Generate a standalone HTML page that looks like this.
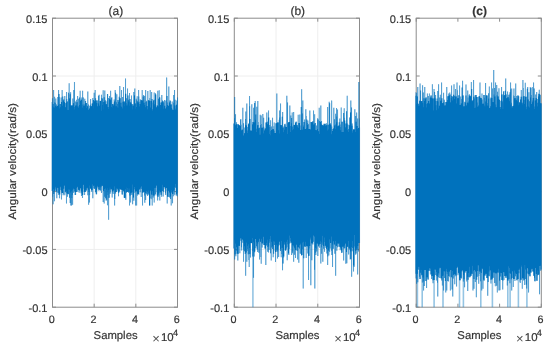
<!DOCTYPE html>
<html><head><meta charset="utf-8"><title>Angular velocity</title>
<style>
html,body{margin:0;padding:0;background:#fff;}
svg{display:block;}
text{font-family:"Liberation Sans",Arial,sans-serif;fill:#333333;stroke:#333333;stroke-width:0.18px;text-rendering:geometricPrecision;}
</style></head><body>
<svg width="550" height="351" viewBox="0 0 550 351">
<rect x="0" y="0" width="550" height="351" fill="#ffffff"/>

<g>
<line x1="94.17" y1="18.2" x2="94.17" y2="307.2" stroke="#eeeeee" stroke-width="1"/>
<line x1="135.83" y1="18.2" x2="135.83" y2="307.2" stroke="#eeeeee" stroke-width="1"/>
<line x1="52.5" y1="76.00" x2="177.5" y2="76.00" stroke="#eeeeee" stroke-width="1"/>
<line x1="52.5" y1="133.80" x2="177.5" y2="133.80" stroke="#eeeeee" stroke-width="1"/>
<line x1="52.5" y1="191.60" x2="177.5" y2="191.60" stroke="#eeeeee" stroke-width="1"/>
<line x1="52.5" y1="249.40" x2="177.5" y2="249.40" stroke="#eeeeee" stroke-width="1"/>
<rect x="52.5" y="18.2" width="125.00" height="289.00" fill="none" stroke="#8c8c8c" stroke-width="1"/>
<line x1="52.50" y1="307.2" x2="52.50" y2="303.7" stroke="#8c8c8c" stroke-width="1"/>
<line x1="52.50" y1="18.2" x2="52.50" y2="21.7" stroke="#8c8c8c" stroke-width="1"/>
<text x="51.80" y="323.3" font-size="10.8" text-anchor="middle">0</text>
<line x1="94.17" y1="307.2" x2="94.17" y2="303.7" stroke="#8c8c8c" stroke-width="1"/>
<line x1="94.17" y1="18.2" x2="94.17" y2="21.7" stroke="#8c8c8c" stroke-width="1"/>
<text x="93.47" y="323.3" font-size="10.8" text-anchor="middle">2</text>
<line x1="135.83" y1="307.2" x2="135.83" y2="303.7" stroke="#8c8c8c" stroke-width="1"/>
<line x1="135.83" y1="18.2" x2="135.83" y2="21.7" stroke="#8c8c8c" stroke-width="1"/>
<text x="135.13" y="323.3" font-size="10.8" text-anchor="middle">4</text>
<line x1="177.50" y1="307.2" x2="177.50" y2="303.7" stroke="#8c8c8c" stroke-width="1"/>
<line x1="177.50" y1="18.2" x2="177.50" y2="21.7" stroke="#8c8c8c" stroke-width="1"/>
<text x="176.80" y="323.3" font-size="10.8" text-anchor="middle">6</text>
<line x1="52.5" y1="18.20" x2="56.0" y2="18.20" stroke="#8c8c8c" stroke-width="1"/>
<line x1="177.5" y1="18.20" x2="174.0" y2="18.20" stroke="#8c8c8c" stroke-width="1"/>
<text x="47.50" y="22.80" font-size="11" text-anchor="end">0.15</text>
<line x1="52.5" y1="76.00" x2="56.0" y2="76.00" stroke="#8c8c8c" stroke-width="1"/>
<line x1="177.5" y1="76.00" x2="174.0" y2="76.00" stroke="#8c8c8c" stroke-width="1"/>
<text x="47.50" y="80.60" font-size="11" text-anchor="end">0.1</text>
<line x1="52.5" y1="133.80" x2="56.0" y2="133.80" stroke="#8c8c8c" stroke-width="1"/>
<line x1="177.5" y1="133.80" x2="174.0" y2="133.80" stroke="#8c8c8c" stroke-width="1"/>
<text x="47.50" y="138.40" font-size="11" text-anchor="end">0.05</text>
<line x1="52.5" y1="191.60" x2="56.0" y2="191.60" stroke="#8c8c8c" stroke-width="1"/>
<line x1="177.5" y1="191.60" x2="174.0" y2="191.60" stroke="#8c8c8c" stroke-width="1"/>
<text x="47.50" y="196.20" font-size="11" text-anchor="end">0</text>
<line x1="52.5" y1="249.40" x2="56.0" y2="249.40" stroke="#8c8c8c" stroke-width="1"/>
<line x1="177.5" y1="249.40" x2="174.0" y2="249.40" stroke="#8c8c8c" stroke-width="1"/>
<text x="47.50" y="254.00" font-size="11" text-anchor="end">-0.05</text>
<line x1="52.5" y1="307.20" x2="56.0" y2="307.20" stroke="#8c8c8c" stroke-width="1"/>
<line x1="177.5" y1="307.20" x2="174.0" y2="307.20" stroke="#8c8c8c" stroke-width="1"/>
<text x="47.50" y="311.80" font-size="11" text-anchor="end">-0.1</text>
<path transform="translate(-0.30,0)" opacity="1" fill="#0072bd" d="M52 101.9h.25V190.9h-.25zM52.25 98.2h.25V190.9h-.25zM52.5 98.2h.25V186.9h-.25zM52.75 106.9h.25V196.8h-.25zM53 104.1h.25V204.3h-.25zM53.25 104.1h.25V204.3h-.25zM53.5 89.9h.25V189.3h-.25zM53.75 89.9h.25V194h-.25zM54 107.3h.25V194h-.25zM54.25 107.7h.25V201.3h-.25zM54.5 96.8h.25V201.3h-.25zM54.75 96.8h.25V191.1h-.25zM55 102.2h.25V191.1h-.25zM55.25 103.1h.25V188.5h-.25zM55.5 105.9h.25V186.4h-.25zM55.75 98.6h.25V190.8h-.25zM56 98.6h.25V190.8h-.25zM56.25 104.6h.25V191.6h-.25zM56.5 104.6h.25V191.8h-.25zM56.75 114.8h.25V198.3h-.25zM57 110h.25V198.3h-.25zM57.25 110h.25V185.5h-.25zM57.5 110.6h.25V185.3h-.25zM57.75 97.1h.25V192.8h-.25zM58 97.1h.25V192.8h-.25zM58.25 105.2h.25V188.1h-.25zM58.5 89.9h.25V194.8h-.25zM58.75 89.9h.25V194.8h-.25zM59 94h.25V192.9h-.25zM59.25 94h.25V198.2h-.25zM59.5 97h.25V198.2h-.25zM59.75 108.7h.25V194.5h-.25zM60 108.4h.25V194.5h-.25zM60.25 107.2h.25V187.2h-.25zM60.5 104.1h.25V180.1h-.25zM60.75 104.1h.25V190h-.25zM61 97.6h.25V190h-.25zM61.25 97.6h.25V199.5h-.25zM61.5 102.2h.25V199.5h-.25zM61.75 102.9h.25V186.7h-.25zM62 89.9h.25V191.7h-.25zM62.25 89.9h.25V191.7h-.25zM62.5 111.3h.25V190.6h-.25zM62.75 96.5h.25V188.6h-.25zM63 96.5h.25V195.2h-.25zM63.25 100.6h.25V195.2h-.25zM63.5 100.6h.25V194.2h-.25zM63.75 99.3h.25V188.9h-.25zM64 99.3h.25V188.6h-.25zM64.25 102.1h.25V183.5h-.25zM64.5 102.1h.25V183.5h-.25zM64.76 95.9h.25V195.3h-.25zM65.01 95.9h.25V195.3h-.25zM65.26 103.2h.25V190.6h-.25zM65.51 107.2h.25V191h-.25zM65.76 107.2h.25V191h-.25zM66.01 114h.25V192.1h-.25zM66.26 102.5h.25V203.6h-.25zM66.51 92.1h.25V203.6h-.25zM66.76 92.1h.25V191h-.25zM67.01 99h.25V191h-.25zM67.26 106.4h.25V196.8h-.25zM67.51 111.7h.25V196.8h-.25zM67.76 110.1h.25V193.6h-.25zM68.01 110.1h.25V193.6h-.25zM68.26 112.3h.25V191.1h-.25zM68.51 92.8h.25V194.2h-.25zM68.76 92.8h.25V194.2h-.25zM69.01 83.2h.25V180h-.25zM69.26 83.2h.25V180h-.25zM69.51 98.6h.25V197.8h-.25zM69.76 98.6h.25V197.8h-.25zM70.01 94.2h.25V203h-.25zM70.26 94.2h.25V203h-.25zM70.51 92.2h.25V191.2h-.25zM70.76 92.2h.25V205.5h-.25zM71.01 111.1h.25V205.5h-.25zM71.26 107.8h.25V191.2h-.25zM71.51 107.8h.25V205.5h-.25zM71.76 116.1h.25V205.5h-.25zM72.01 109.7h.25V197.9h-.25zM72.26 109.7h.25V186.1h-.25zM72.51 105.8h.25V204.8h-.25zM72.76 98.4h.25V204.8h-.25zM73.01 98.4h.25V190.2h-.25zM73.26 106h.25V188.5h-.25zM73.51 108.2h.25V192.7h-.25zM73.76 89.9h.25V192.7h-.25zM74.01 89.9h.25V188.8h-.25zM74.26 82.1h.25V191.4h-.25zM74.51 82.1h.25V191.4h-.25zM74.76 110.8h.25V188.9h-.25zM75.01 108.3h.25V190.1h-.25zM75.26 101.6h.25V190.1h-.25zM75.51 101.6h.25V185.5h-.25zM75.76 105.5h.25V186.2h-.25zM76.01 105.5h.25V186.2h-.25zM76.26 99.7h.25V186.5h-.25zM76.51 99.7h.25V186.5h-.25zM76.76 105.6h.25V188h-.25zM77.01 105.6h.25V188h-.25zM77.26 106h.25V182.9h-.25zM77.51 96h.25V184.6h-.25zM77.76 96h.25V191.8h-.25zM78.01 108.3h.25V191.8h-.25zM78.26 110.6h.25V187.1h-.25zM78.51 98.8h.25V187.4h-.25zM78.76 98.8h.25V187.9h-.25zM79.01 108.1h.25V192.7h-.25zM79.26 105h.25V192.7h-.25zM79.51 97.6h.25V189.3h-.25zM79.76 97.6h.25V190.8h-.25zM80.01 90.7h.25V190.8h-.25zM80.26 90.7h.25V184.8h-.25zM80.51 106h.25V184.8h-.25zM80.76 107h.25V187h-.25zM81.01 102.1h.25V187.2h-.25zM81.26 102.1h.25V195.9h-.25zM81.51 106h.25V195.9h-.25zM81.76 97.6h.25V191h-.25zM82.01 97.6h.25V191h-.25zM82.26 108h.25V197.9h-.25zM82.51 90.7h.25V197.9h-.25zM82.76 90.7h.25V195h-.25zM83.01 108.2h.25V195h-.25zM83.26 97.6h.25V184.7h-.25zM83.51 97.6h.25V184.7h-.25zM83.76 108.9h.25V188.8h-.25zM84.01 106.1h.25V188.8h-.25zM84.26 106.1h.25V188.2h-.25zM84.51 104.5h.25V195.1h-.25zM84.76 98.8h.25V195.1h-.25zM85.01 98.8h.25V184.5h-.25zM85.26 105h.25V180.6h-.25zM85.51 105h.25V183.3h-.25zM85.76 114.1h.25V190.3h-.25zM86.01 113h.25V190.3h-.25zM86.26 110.8h.25V185h-.25zM86.51 104.9h.25V188.2h-.25zM86.76 104.9h.25V188.2h-.25zM87.01 108h.25V188.2h-.25zM87.26 106.2h.25V188.2h-.25zM87.51 106.2h.25V186h-.25zM87.76 91.6h.25V195.3h-.25zM88.01 91.6h.25V195.3h-.25zM88.26 104.5h.25V187.4h-.25zM88.51 104.5h.25V204.8h-.25zM88.76 113.7h.25V204.8h-.25zM89.01 111.7h.25V188.9h-.25zM89.26 108.5h.25V202.5h-.25zM89.51 108.5h.25V202.5h-.25zM89.77 105.7h.25V195h-.25zM90.02 105.7h.25V183.7h-.25zM90.27 104.8h.25V188.9h-.25zM90.52 99h.25V188.9h-.25zM90.77 99h.25V188h-.25zM91.02 111.5h.25V187.3h-.25zM91.27 111.5h.25V189.9h-.25zM91.52 106.6h.25V191.7h-.25zM91.77 106.6h.25V191.7h-.25zM92.02 109.9h.25V190.6h-.25zM92.27 105.8h.25V190.1h-.25zM92.52 105.3h.25V182.6h-.25zM92.77 98.1h.25V198.2h-.25zM93.02 98.1h.25V198.2h-.25zM93.27 100.1h.25V185.7h-.25zM93.52 100.1h.25V185.7h-.25zM93.77 108.7h.25V188h-.25zM94.02 92.8h.25V188h-.25zM94.27 92.8h.25V187h-.25zM94.52 101.3h.25V188.8h-.25zM94.77 101.3h.25V188.8h-.25zM95.02 89.9h.25V185.4h-.25zM95.27 89.9h.25V192.3h-.25zM95.52 98.3h.25V192.3h-.25zM95.77 98.3h.25V187.2h-.25zM96.02 108.2h.25V194.2h-.25zM96.27 110.4h.25V194.2h-.25zM96.52 110.4h.25V194.2h-.25zM96.77 103h.25V194.2h-.25zM97.02 103h.25V190.4h-.25zM97.27 100.5h.25V188.2h-.25zM97.52 100.5h.25V186.8h-.25zM97.77 106.5h.25V185.5h-.25zM98.02 106.5h.25V186.4h-.25zM98.27 95.8h.25V188.9h-.25zM98.52 95.8h.25V190.5h-.25zM98.77 103.5h.25V190.5h-.25zM99.02 94.7h.25V186.9h-.25zM99.27 94.7h.25V189.8h-.25zM99.52 107.5h.25V189.8h-.25zM99.77 110.7h.25V186.6h-.25zM100.02 110.2h.25V187h-.25zM100.27 110.2h.25V187h-.25zM100.52 105.2h.25V188.1h-.25zM100.77 100.8h.25V188.1h-.25zM101.02 100.8h.25V185.7h-.25zM101.27 94.7h.25V193h-.25zM101.52 94.7h.25V193h-.25zM101.77 98h.25V185.7h-.25zM102.02 111.3h.25V185.7h-.25zM102.27 98.4h.25V185.5h-.25zM102.52 98.4h.25V184.7h-.25zM102.77 105h.25V184.7h-.25zM103.02 90.2h.25V202h-.25zM103.27 90.2h.25V202h-.25zM103.52 104.7h.25V191.1h-.25zM103.77 109.4h.25V190.8h-.25zM104.02 97.3h.25V203.6h-.25zM104.27 97.3h.25V203.6h-.25zM104.52 101.4h.25V184.8h-.25zM104.77 90.4h.25V196.7h-.25zM105.02 90.4h.25V196.7h-.25zM105.27 111.3h.25V181.9h-.25zM105.52 100.3h.25V198.3h-.25zM105.77 100.3h.25V198.3h-.25zM106.02 104.2h.25V200.7h-.25zM106.27 105.2h.25V200.7h-.25zM106.52 112.7h.25V199.8h-.25zM106.77 112.7h.25V199.8h-.25zM107.02 113.2h.25V189.8h-.25zM107.27 93.9h.25V205.2h-.25zM107.52 93.9h.25V205.2h-.25zM107.77 93.9h.25V188h-.25zM108.02 107.3h.25V194.9h-.25zM108.27 107.4h.25V197.8h-.25zM108.52 98.1h.25V219.7h-.25zM108.77 98.1h.25V219.7h-.25zM109.02 112.6h.25V190.3h-.25zM109.27 96h.25V197.8h-.25zM109.52 96h.25V197.8h-.25zM109.77 98.8h.25V183.3h-.25zM110.02 98.8h.25V193.8h-.25zM110.27 100.3h.25V193.8h-.25zM110.52 90.7h.25V192.3h-.25zM110.77 90.7h.25V180.6h-.25zM111.02 100.2h.25V180.6h-.25zM111.27 107.5h.25V180.6h-.25zM111.52 98h.25V185.7h-.25zM111.77 97.2h.25V186.2h-.25zM112.02 97.2h.25V197.4h-.25zM112.27 105.3h.25V197.4h-.25zM112.52 112.1h.25V181.8h-.25zM112.77 109.3h.25V192.6h-.25zM113.02 104.3h.25V194.1h-.25zM113.27 104.3h.25V194.1h-.25zM113.52 105.7h.25V190h-.25zM113.77 105.2h.25V190.1h-.25zM114.02 99.6h.25V190.1h-.25zM114.27 99.6h.25V186.2h-.25zM114.52 101.4h.25V205.5h-.25zM114.77 101.4h.25V205.5h-.25zM115.03 89.9h.25V198.9h-.25zM115.28 89.9h.25V185.8h-.25zM115.53 92.7h.25V185.9h-.25zM115.78 92.7h.25V185.9h-.25zM116.03 109.2h.25V182.1h-.25zM116.28 109.2h.25V186.1h-.25zM116.53 102.3h.25V186.1h-.25zM116.78 94.2h.25V187.8h-.25zM117.03 94.2h.25V187.8h-.25zM117.28 109.6h.25V188.6h-.25zM117.53 103.9h.25V189.4h-.25zM117.78 100.1h.25V189.4h-.25zM118.03 99.9h.25V185.4h-.25zM118.28 99.9h.25V196.3h-.25zM118.53 111.2h.25V196.3h-.25zM118.78 107.7h.25V192.8h-.25zM119.03 96.8h.25V192.8h-.25zM119.28 96.8h.25V186.5h-.25zM119.53 98.3h.25V187.4h-.25zM119.78 86.1h.25V188.8h-.25zM120.03 86.1h.25V188.8h-.25zM120.28 98.3h.25V188.9h-.25zM120.53 98.3h.25V189.6h-.25zM120.78 109.8h.25V189.6h-.25zM121.03 106.1h.25V189.9h-.25zM121.28 89.9h.25V189.9h-.25zM121.53 89.9h.25V189.4h-.25zM121.78 106.7h.25V189.4h-.25zM122.03 106.7h.25V187.3h-.25zM122.28 108.5h.25V186.2h-.25zM122.53 97h.25V187.1h-.25zM122.78 97h.25V189.1h-.25zM123.03 103.2h.25V189.1h-.25zM123.28 87.1h.25V191.2h-.25zM123.53 87.1h.25V191.2h-.25zM123.78 101.8h.25V189h-.25zM124.03 104.2h.25V197.7h-.25zM124.28 108.6h.25V197.7h-.25zM124.53 107.3h.25V197.9h-.25zM124.78 107.3h.25V197.9h-.25zM125.03 102.4h.25V197.7h-.25zM125.28 78.5h.25V197.7h-.25zM125.53 78.5h.25V189.3h-.25zM125.78 93.8h.25V199.7h-.25zM126.03 93.8h.25V199.7h-.25zM126.28 104.7h.25V192.7h-.25zM126.53 98.2h.25V192.7h-.25zM126.78 98.2h.25V183h-.25zM127.03 105.6h.25V188.2h-.25zM127.28 88.5h.25V188.2h-.25zM127.53 88.5h.25V182.5h-.25zM127.78 106.1h.25V182.5h-.25zM128.03 95.4h.25V191.7h-.25zM128.28 95.4h.25V192.8h-.25zM128.53 99.7h.25V192.8h-.25zM128.78 99.7h.25V188.5h-.25zM129.03 111.6h.25V191.6h-.25zM129.28 93h.25V205.5h-.25zM129.53 93h.25V205.5h-.25zM129.78 108.6h.25V188.5h-.25zM130.03 99.1h.25V195.6h-.25zM130.28 99.1h.25V195.6h-.25zM130.53 102.2h.25V202.5h-.25zM130.78 102.2h.25V202.5h-.25zM131.03 106.7h.25V193.2h-.25zM131.28 95.6h.25V193.2h-.25zM131.53 95.6h.25V191.7h-.25zM131.78 108.4h.25V194.9h-.25zM132.03 107.5h.25V194.9h-.25zM132.28 107.5h.25V190.3h-.25zM132.53 109.5h.25V204.3h-.25zM132.78 109.9h.25V204.3h-.25zM133.03 106.1h.25V179.1h-.25zM133.28 106.1h.25V197.6h-.25zM133.53 104.6h.25V197.6h-.25zM133.78 92.1h.25V200.7h-.25zM134.03 92.1h.25V200.7h-.25zM134.28 95.4h.25V193h-.25zM134.53 95.4h.25V180.3h-.25zM134.78 88.5h.25V189.1h-.25zM135.03 88.5h.25V190.2h-.25zM135.28 106.5h.25V205.5h-.25zM135.53 115.3h.25V205.5h-.25zM135.78 112.3h.25V192.2h-.25zM136.03 98.8h.25V190.4h-.25zM136.28 98.8h.25V189.5h-.25zM136.53 107h.25V205.5h-.25zM136.78 100.2h.25V205.5h-.25zM137.03 96.3h.25V186.7h-.25zM137.28 96.3h.25V195.4h-.25zM137.53 101.6h.25V195.4h-.25zM137.78 101.6h.25V192.2h-.25zM138.03 107.6h.25V183.5h-.25zM138.28 103.5h.25V185.5h-.25zM138.53 89.9h.25V185.5h-.25zM138.78 89.9h.25V194.7h-.25zM139.03 96.6h.25V194.7h-.25zM139.28 101.7h.25V189.6h-.25zM139.53 106.6h.25V189.6h-.25zM139.78 104h.25V189.2h-.25zM140.03 99.3h.25V192.3h-.25zM140.29 99.3h.25V192.3h-.25zM140.54 104.1h.25V186.6h-.25zM140.79 101.8h.25V186.8h-.25zM141.04 100.1h.25V197h-.25zM141.29 100.1h.25V197h-.25zM141.54 110.7h.25V186.2h-.25zM141.79 107.7h.25V186.2h-.25zM142.04 89.9h.25V186.5h-.25zM142.29 89.9h.25V205.5h-.25zM142.54 112.5h.25V205.5h-.25zM142.79 100.4h.25V192.7h-.25zM143.04 96.6h.25V192.7h-.25zM143.29 96.6h.25V187h-.25zM143.54 95.1h.25V187h-.25zM143.79 95.1h.25V188h-.25zM144.04 108.7h.25V188h-.25zM144.29 108.7h.25V187.3h-.25zM144.54 96.1h.25V195.5h-.25zM144.79 96.1h.25V202.7h-.25zM145.04 104.9h.25V202.7h-.25zM145.29 107.2h.25V192.9h-.25zM145.54 89.9h.25V200.1h-.25zM145.79 89.9h.25V200.1h-.25zM146.04 108.4h.25V193.6h-.25zM146.29 107.5h.25V193.6h-.25zM146.54 100.8h.25V191h-.25zM146.79 100.8h.25V194.6h-.25zM147.04 106h.25V194.6h-.25zM147.29 106h.25V191.7h-.25zM147.54 112.5h.25V196h-.25zM147.79 91.1h.25V196h-.25zM148.04 91.1h.25V190.8h-.25zM148.29 100.8h.25V182.9h-.25zM148.54 107.6h.25V190.5h-.25zM148.79 109.1h.25V190.5h-.25zM149.04 109.1h.25V193.1h-.25zM149.29 114.4h.25V205.5h-.25zM149.54 115.9h.25V205.5h-.25zM149.79 97.9h.25V205.5h-.25zM150.04 89.9h.25V205.5h-.25zM150.29 89.9h.25V190.5h-.25zM150.54 107.4h.25V190.5h-.25zM150.79 108.1h.25V198.6h-.25zM151.04 101.7h.25V198.6h-.25zM151.29 101.7h.25V186.2h-.25zM151.54 92.1h.25V190.1h-.25zM151.79 92.1h.25V199.2h-.25zM152.04 99h.25V205.5h-.25zM152.29 99h.25V205.5h-.25zM152.54 110.9h.25V188.3h-.25zM152.79 110.9h.25V193.3h-.25zM153.04 102.4h.25V197.4h-.25zM153.29 100.5h.25V197.4h-.25zM153.54 100.5h.25V195.6h-.25zM153.79 104.6h.25V195.6h-.25zM154.04 92.4h.25V202.5h-.25zM154.29 92.4h.25V202.5h-.25zM154.54 110.7h.25V187.9h-.25zM154.79 105.6h.25V195.6h-.25zM155.04 104.1h.25V195.6h-.25zM155.29 93.2h.25V192.4h-.25zM155.54 93.2h.25V186h-.25zM155.79 94.4h.25V187.7h-.25zM156.04 94.4h.25V187.7h-.25zM156.29 105.6h.25V184.5h-.25zM156.54 107.3h.25V182.3h-.25zM156.79 107.3h.25V192.3h-.25zM157.04 107.7h.25V195.6h-.25zM157.29 105.6h.25V195.6h-.25zM157.54 105.6h.25V200.4h-.25zM157.79 90.7h.25V200.4h-.25zM158.04 90.7h.25V197.1h-.25zM158.29 98.7h.25V197.1h-.25zM158.54 98.7h.25V185.4h-.25zM158.79 106.6h.25V195.6h-.25zM159.04 90.2h.25V195.6h-.25zM159.29 90.2h.25V192.4h-.25zM159.54 97h.25V190.6h-.25zM159.79 97.6h.25V200.4h-.25zM160.04 97.6h.25V200.4h-.25zM160.29 105h.25V186.4h-.25zM160.54 105h.25V186.5h-.25zM160.79 110.3h.25V186.5h-.25zM161.04 110.3h.25V185.5h-.25zM161.29 105.6h.25V185.5h-.25zM161.54 105.6h.25V196.7h-.25zM161.79 95.1h.25V196.7h-.25zM162.04 95.1h.25V191.5h-.25zM162.29 105.9h.25V187h-.25zM162.54 108.9h.25V187h-.25zM162.79 102.7h.25V184.7h-.25zM163.04 101.8h.25V196.6h-.25zM163.29 101.8h.25V196.6h-.25zM163.54 103h.25V191.7h-.25zM163.79 103h.25V191.7h-.25zM164.04 108.7h.25V180.8h-.25zM164.29 99.9h.25V179.6h-.25zM164.54 99.9h.25V180.5h-.25zM164.79 105.7h.25V184.7h-.25zM165.04 105.7h.25V187.4h-.25zM165.3 108.4h.25V193.2h-.25zM165.55 111.2h.25V194.9h-.25zM165.8 100.5h.25V194.9h-.25zM166.05 100.5h.25V188.2h-.25zM166.3 107.2h.25V187.9h-.25zM166.55 77.5h.25V186.8h-.25zM166.8 77.5h.25V186.2h-.25zM167.05 96h.25V203.6h-.25zM167.3 96h.25V203.6h-.25zM167.55 108.6h.25V196.7h-.25zM167.8 104.9h.25V196.7h-.25zM168.05 104.9h.25V196.4h-.25zM168.3 107.1h.25V187.6h-.25zM168.55 107.1h.25V187.7h-.25zM168.8 86.4h.25V196.9h-.25zM169.05 86.4h.25V196.9h-.25zM169.3 102.6h.25V192.2h-.25zM169.55 102.6h.25V197.5h-.25zM169.8 100.4h.25V197.5h-.25zM170.05 100.4h.25V189.1h-.25zM170.3 105.7h.25V199.1h-.25zM170.55 105.7h.25V199.1h-.25zM170.8 109.6h.25V196.5h-.25zM171.05 109.6h.25V205.5h-.25zM171.3 115.1h.25V205.5h-.25zM171.55 113.4h.25V192.6h-.25zM171.8 107.9h.25V192.6h-.25zM172.05 101.6h.25V188.2h-.25zM172.3 101.6h.25V203.2h-.25zM172.55 109.3h.25V203.2h-.25zM172.8 109.9h.25V193.9h-.25zM173.05 109.9h.25V193.9h-.25zM173.3 114h.25V191.3h-.25zM173.55 95h.25V196.2h-.25zM173.8 95h.25V196.2h-.25zM174.05 108.7h.25V190.4h-.25zM174.3 89.9h.25V190.4h-.25zM174.55 89.9h.25V194.7h-.25zM174.8 108.5h.25V194.7h-.25zM175.05 99.7h.25V186h-.25zM175.3 99.7h.25V187.7h-.25zM175.55 108.8h.25V187.7h-.25zM175.8 109.7h.25V182.7h-.25zM176.05 108.5h.25V195.6h-.25zM176.3 104.8h.25V195.6h-.25zM176.55 104.8h.25V194.2h-.25zM176.8 107h.25V194.2h-.25zM177.05 107h.25V196.2h-.25zM177.3 97.6h.25V196.2h-.25zM177.55 97.6h.25V188.6h-.25zM52 106.3h.998V190.5h-.998zM53 105.8h.998V188.3h-.998zM54 109.2h.998V188.8h-.998zM55 109.2h.998V186.7h-.998zM55.99 106.9h.998V190.2h-.998zM56.99 106h.998V187.7h-.998zM57.99 107.2h.998V185.6h-.998zM58.99 104h.998V186h-.998zM59.99 109.5h.998V186.4h-.998zM60.99 102h.998V190.6h-.998zM61.98 105.8h.998V193h-.998zM62.98 101.6h.998V188.7h-.998zM63.98 102.6h.998V185.5h-.998zM64.98 107.9h.998V191.8h-.998zM65.98 103.1h.998V193.3h-.998zM66.98 101.4h.998V184.8h-.998zM67.97 110h.998V194.1h-.998zM68.97 107.7h.998V189.6h-.998zM69.97 102.6h.998V192.4h-.998zM70.97 105.6h.998V190.6h-.998zM71.97 105.4h.998V195.1h-.998zM72.97 103.3h.998V188.5h-.998zM73.97 109.5h.998V186h-.998zM74.96 106.9h.998V195.1h-.998zM75.96 110.4h.998V192.1h-.998zM76.96 102.2h.998V186.7h-.998zM77.96 106.5h.998V189.7h-.998zM78.96 109.7h.998V190h-.998zM79.96 101h.998V188.3h-.998zM80.95 99.8h.998V193.3h-.998zM81.95 107.7h.998V191.4h-.998zM82.95 104.4h.998V184h-.998zM83.95 108.4h.998V191.7h-.998zM84.95 100.9h.998V192h-.998zM85.95 102.9h.998V190.4h-.998zM86.94 108h.998V187.4h-.998zM87.94 109.5h.998V189.8h-.998zM88.94 110h.998V192.1h-.998zM89.94 107.2h.998V185.6h-.998zM90.94 106.3h.998V188.3h-.998zM91.94 103.5h.998V184.2h-.998zM92.93 100.1h.998V185.4h-.998zM93.93 110.6h.998V188.8h-.998zM94.93 103h.998V184h-.998zM95.93 100.4h.998V191.8h-.998zM96.93 107.4h.998V184.5h-.998zM97.93 106.3h.998V186.5h-.998zM98.93 105.7h.998V185.2h-.998zM99.92 101h.998V190.4h-.998zM100.92 107.5h.998V186.8h-.998zM101.92 110.7h.998V185.8h-.998zM102.92 101.9h.998V190h-.998zM103.92 110h.998V189.1h-.998zM104.92 101.5h.998V188.2h-.998zM105.91 104.2h.998V184.9h-.998zM106.91 101.2h.998V183.9h-.998zM107.91 107h.998V192.3h-.998zM108.91 109.1h.998V189.4h-.998zM109.91 99.8h.998V187.6h-.998zM110.91 107.1h.998V189.2h-.998zM111.9 104h.998V191h-.998zM112.9 107.8h.998V191.3h-.998zM113.9 102.5h.998V186h-.998zM114.9 106.1h.998V193.4h-.998zM115.9 106.2h.998V192.1h-.998zM116.9 107.5h.998V188.5h-.998zM117.9 101.7h.998V191.3h-.998zM118.89 110h.998V191.5h-.998zM119.89 106.2h.998V188.6h-.998zM120.89 102.7h.998V184.4h-.998zM121.89 108.9h.998V194.6h-.998zM122.89 101.8h.998V190h-.998zM123.89 101.6h.998V191.2h-.998zM124.88 106.3h.998V184.7h-.998zM125.88 103.2h.998V187.2h-.998zM126.88 107.8h.998V192h-.998zM127.88 104.6h.998V188h-.998zM128.88 101.6h.998V191.8h-.998zM129.88 105.8h.998V184.3h-.998zM130.87 102.8h.998V192.2h-.998zM131.87 104.2h.998V192.3h-.998zM132.87 109.6h.998V184.4h-.998zM133.87 100.3h.998V187h-.998zM134.87 103.5h.998V185.7h-.998zM135.87 108.7h.998V191.2h-.998zM136.87 101.2h.998V190.9h-.998zM137.86 102.4h.998V194.1h-.998zM138.86 108.8h.998V185.7h-.998zM139.86 110h.998V187.5h-.998zM140.86 100.3h.998V188.9h-.998zM141.86 100.5h.998V186.2h-.998zM142.86 104.2h.998V192.3h-.998zM143.85 102.8h.998V191.7h-.998zM144.85 108.4h.998V192.5h-.998zM145.85 101.7h.998V190.2h-.998zM146.85 109.4h.998V184.2h-.998zM147.85 100.1h.998V194.6h-.998zM148.85 100.8h.998V188.3h-.998zM149.84 108h.998V187.3h-.998zM150.84 100.9h.998V194.5h-.998zM151.84 109.2h.998V191h-.998zM152.84 110.7h.998V194.9h-.998zM153.84 99.8h.998V185.9h-.998zM154.84 106.9h.998V194.2h-.998zM155.83 109.5h.998V185.5h-.998zM156.83 107.4h.998V191.2h-.998zM157.83 107.7h.998V193.5h-.998zM158.83 109.1h.998V188.9h-.998zM159.83 109.1h.998V192.3h-.998zM160.83 102.5h.998V194.7h-.998zM161.83 100.4h.998V190.9h-.998zM162.82 101.4h.998V183.7h-.998zM163.82 109.4h.998V187.1h-.998zM164.82 108.8h.998V188.5h-.998zM165.82 110.5h.998V187.7h-.998zM166.82 102.6h.998V190.9h-.998zM167.82 105.9h.998V190.8h-.998zM168.81 104.6h.998V184.5h-.998zM169.81 100.8h.998V192.8h-.998zM170.81 104.6h.998V188.9h-.998zM171.81 110h.998V190.2h-.998zM172.81 110h.998V189.3h-.998zM173.81 102.7h.998V187.2h-.998zM174.8 105.4h.998V187.1h-.998zM175.8 109.9h.998V183.9h-.998zM176.8 100.4h.998V192.7h-.998z"/>
<path transform="translate(0.00,0)" opacity="0.5" fill="#0072bd" d="M52 101.9h.25V190.9h-.25zM52.25 98.2h.25V190.9h-.25zM52.5 98.2h.25V186.9h-.25zM52.75 106.9h.25V196.8h-.25zM53 104.1h.25V204.3h-.25zM53.25 104.1h.25V204.3h-.25zM53.5 89.9h.25V189.3h-.25zM53.75 89.9h.25V194h-.25zM54 107.3h.25V194h-.25zM54.25 107.7h.25V201.3h-.25zM54.5 96.8h.25V201.3h-.25zM54.75 96.8h.25V191.1h-.25zM55 102.2h.25V191.1h-.25zM55.25 103.1h.25V188.5h-.25zM55.5 105.9h.25V186.4h-.25zM55.75 98.6h.25V190.8h-.25zM56 98.6h.25V190.8h-.25zM56.25 104.6h.25V191.6h-.25zM56.5 104.6h.25V191.8h-.25zM56.75 114.8h.25V198.3h-.25zM57 110h.25V198.3h-.25zM57.25 110h.25V185.5h-.25zM57.5 110.6h.25V185.3h-.25zM57.75 97.1h.25V192.8h-.25zM58 97.1h.25V192.8h-.25zM58.25 105.2h.25V188.1h-.25zM58.5 89.9h.25V194.8h-.25zM58.75 89.9h.25V194.8h-.25zM59 94h.25V192.9h-.25zM59.25 94h.25V198.2h-.25zM59.5 97h.25V198.2h-.25zM59.75 108.7h.25V194.5h-.25zM60 108.4h.25V194.5h-.25zM60.25 107.2h.25V187.2h-.25zM60.5 104.1h.25V180.1h-.25zM60.75 104.1h.25V190h-.25zM61 97.6h.25V190h-.25zM61.25 97.6h.25V199.5h-.25zM61.5 102.2h.25V199.5h-.25zM61.75 102.9h.25V186.7h-.25zM62 89.9h.25V191.7h-.25zM62.25 89.9h.25V191.7h-.25zM62.5 111.3h.25V190.6h-.25zM62.75 96.5h.25V188.6h-.25zM63 96.5h.25V195.2h-.25zM63.25 100.6h.25V195.2h-.25zM63.5 100.6h.25V194.2h-.25zM63.75 99.3h.25V188.9h-.25zM64 99.3h.25V188.6h-.25zM64.25 102.1h.25V183.5h-.25zM64.5 102.1h.25V183.5h-.25zM64.76 95.9h.25V195.3h-.25zM65.01 95.9h.25V195.3h-.25zM65.26 103.2h.25V190.6h-.25zM65.51 107.2h.25V191h-.25zM65.76 107.2h.25V191h-.25zM66.01 114h.25V192.1h-.25zM66.26 102.5h.25V203.6h-.25zM66.51 92.1h.25V203.6h-.25zM66.76 92.1h.25V191h-.25zM67.01 99h.25V191h-.25zM67.26 106.4h.25V196.8h-.25zM67.51 111.7h.25V196.8h-.25zM67.76 110.1h.25V193.6h-.25zM68.01 110.1h.25V193.6h-.25zM68.26 112.3h.25V191.1h-.25zM68.51 92.8h.25V194.2h-.25zM68.76 92.8h.25V194.2h-.25zM69.01 83.2h.25V180h-.25zM69.26 83.2h.25V180h-.25zM69.51 98.6h.25V197.8h-.25zM69.76 98.6h.25V197.8h-.25zM70.01 94.2h.25V203h-.25zM70.26 94.2h.25V203h-.25zM70.51 92.2h.25V191.2h-.25zM70.76 92.2h.25V205.5h-.25zM71.01 111.1h.25V205.5h-.25zM71.26 107.8h.25V191.2h-.25zM71.51 107.8h.25V205.5h-.25zM71.76 116.1h.25V205.5h-.25zM72.01 109.7h.25V197.9h-.25zM72.26 109.7h.25V186.1h-.25zM72.51 105.8h.25V204.8h-.25zM72.76 98.4h.25V204.8h-.25zM73.01 98.4h.25V190.2h-.25zM73.26 106h.25V188.5h-.25zM73.51 108.2h.25V192.7h-.25zM73.76 89.9h.25V192.7h-.25zM74.01 89.9h.25V188.8h-.25zM74.26 82.1h.25V191.4h-.25zM74.51 82.1h.25V191.4h-.25zM74.76 110.8h.25V188.9h-.25zM75.01 108.3h.25V190.1h-.25zM75.26 101.6h.25V190.1h-.25zM75.51 101.6h.25V185.5h-.25zM75.76 105.5h.25V186.2h-.25zM76.01 105.5h.25V186.2h-.25zM76.26 99.7h.25V186.5h-.25zM76.51 99.7h.25V186.5h-.25zM76.76 105.6h.25V188h-.25zM77.01 105.6h.25V188h-.25zM77.26 106h.25V182.9h-.25zM77.51 96h.25V184.6h-.25zM77.76 96h.25V191.8h-.25zM78.01 108.3h.25V191.8h-.25zM78.26 110.6h.25V187.1h-.25zM78.51 98.8h.25V187.4h-.25zM78.76 98.8h.25V187.9h-.25zM79.01 108.1h.25V192.7h-.25zM79.26 105h.25V192.7h-.25zM79.51 97.6h.25V189.3h-.25zM79.76 97.6h.25V190.8h-.25zM80.01 90.7h.25V190.8h-.25zM80.26 90.7h.25V184.8h-.25zM80.51 106h.25V184.8h-.25zM80.76 107h.25V187h-.25zM81.01 102.1h.25V187.2h-.25zM81.26 102.1h.25V195.9h-.25zM81.51 106h.25V195.9h-.25zM81.76 97.6h.25V191h-.25zM82.01 97.6h.25V191h-.25zM82.26 108h.25V197.9h-.25zM82.51 90.7h.25V197.9h-.25zM82.76 90.7h.25V195h-.25zM83.01 108.2h.25V195h-.25zM83.26 97.6h.25V184.7h-.25zM83.51 97.6h.25V184.7h-.25zM83.76 108.9h.25V188.8h-.25zM84.01 106.1h.25V188.8h-.25zM84.26 106.1h.25V188.2h-.25zM84.51 104.5h.25V195.1h-.25zM84.76 98.8h.25V195.1h-.25zM85.01 98.8h.25V184.5h-.25zM85.26 105h.25V180.6h-.25zM85.51 105h.25V183.3h-.25zM85.76 114.1h.25V190.3h-.25zM86.01 113h.25V190.3h-.25zM86.26 110.8h.25V185h-.25zM86.51 104.9h.25V188.2h-.25zM86.76 104.9h.25V188.2h-.25zM87.01 108h.25V188.2h-.25zM87.26 106.2h.25V188.2h-.25zM87.51 106.2h.25V186h-.25zM87.76 91.6h.25V195.3h-.25zM88.01 91.6h.25V195.3h-.25zM88.26 104.5h.25V187.4h-.25zM88.51 104.5h.25V204.8h-.25zM88.76 113.7h.25V204.8h-.25zM89.01 111.7h.25V188.9h-.25zM89.26 108.5h.25V202.5h-.25zM89.51 108.5h.25V202.5h-.25zM89.77 105.7h.25V195h-.25zM90.02 105.7h.25V183.7h-.25zM90.27 104.8h.25V188.9h-.25zM90.52 99h.25V188.9h-.25zM90.77 99h.25V188h-.25zM91.02 111.5h.25V187.3h-.25zM91.27 111.5h.25V189.9h-.25zM91.52 106.6h.25V191.7h-.25zM91.77 106.6h.25V191.7h-.25zM92.02 109.9h.25V190.6h-.25zM92.27 105.8h.25V190.1h-.25zM92.52 105.3h.25V182.6h-.25zM92.77 98.1h.25V198.2h-.25zM93.02 98.1h.25V198.2h-.25zM93.27 100.1h.25V185.7h-.25zM93.52 100.1h.25V185.7h-.25zM93.77 108.7h.25V188h-.25zM94.02 92.8h.25V188h-.25zM94.27 92.8h.25V187h-.25zM94.52 101.3h.25V188.8h-.25zM94.77 101.3h.25V188.8h-.25zM95.02 89.9h.25V185.4h-.25zM95.27 89.9h.25V192.3h-.25zM95.52 98.3h.25V192.3h-.25zM95.77 98.3h.25V187.2h-.25zM96.02 108.2h.25V194.2h-.25zM96.27 110.4h.25V194.2h-.25zM96.52 110.4h.25V194.2h-.25zM96.77 103h.25V194.2h-.25zM97.02 103h.25V190.4h-.25zM97.27 100.5h.25V188.2h-.25zM97.52 100.5h.25V186.8h-.25zM97.77 106.5h.25V185.5h-.25zM98.02 106.5h.25V186.4h-.25zM98.27 95.8h.25V188.9h-.25zM98.52 95.8h.25V190.5h-.25zM98.77 103.5h.25V190.5h-.25zM99.02 94.7h.25V186.9h-.25zM99.27 94.7h.25V189.8h-.25zM99.52 107.5h.25V189.8h-.25zM99.77 110.7h.25V186.6h-.25zM100.02 110.2h.25V187h-.25zM100.27 110.2h.25V187h-.25zM100.52 105.2h.25V188.1h-.25zM100.77 100.8h.25V188.1h-.25zM101.02 100.8h.25V185.7h-.25zM101.27 94.7h.25V193h-.25zM101.52 94.7h.25V193h-.25zM101.77 98h.25V185.7h-.25zM102.02 111.3h.25V185.7h-.25zM102.27 98.4h.25V185.5h-.25zM102.52 98.4h.25V184.7h-.25zM102.77 105h.25V184.7h-.25zM103.02 90.2h.25V202h-.25zM103.27 90.2h.25V202h-.25zM103.52 104.7h.25V191.1h-.25zM103.77 109.4h.25V190.8h-.25zM104.02 97.3h.25V203.6h-.25zM104.27 97.3h.25V203.6h-.25zM104.52 101.4h.25V184.8h-.25zM104.77 90.4h.25V196.7h-.25zM105.02 90.4h.25V196.7h-.25zM105.27 111.3h.25V181.9h-.25zM105.52 100.3h.25V198.3h-.25zM105.77 100.3h.25V198.3h-.25zM106.02 104.2h.25V200.7h-.25zM106.27 105.2h.25V200.7h-.25zM106.52 112.7h.25V199.8h-.25zM106.77 112.7h.25V199.8h-.25zM107.02 113.2h.25V189.8h-.25zM107.27 93.9h.25V205.2h-.25zM107.52 93.9h.25V205.2h-.25zM107.77 93.9h.25V188h-.25zM108.02 107.3h.25V194.9h-.25zM108.27 107.4h.25V197.8h-.25zM108.52 98.1h.25V219.7h-.25zM108.77 98.1h.25V219.7h-.25zM109.02 112.6h.25V190.3h-.25zM109.27 96h.25V197.8h-.25zM109.52 96h.25V197.8h-.25zM109.77 98.8h.25V183.3h-.25zM110.02 98.8h.25V193.8h-.25zM110.27 100.3h.25V193.8h-.25zM110.52 90.7h.25V192.3h-.25zM110.77 90.7h.25V180.6h-.25zM111.02 100.2h.25V180.6h-.25zM111.27 107.5h.25V180.6h-.25zM111.52 98h.25V185.7h-.25zM111.77 97.2h.25V186.2h-.25zM112.02 97.2h.25V197.4h-.25zM112.27 105.3h.25V197.4h-.25zM112.52 112.1h.25V181.8h-.25zM112.77 109.3h.25V192.6h-.25zM113.02 104.3h.25V194.1h-.25zM113.27 104.3h.25V194.1h-.25zM113.52 105.7h.25V190h-.25zM113.77 105.2h.25V190.1h-.25zM114.02 99.6h.25V190.1h-.25zM114.27 99.6h.25V186.2h-.25zM114.52 101.4h.25V205.5h-.25zM114.77 101.4h.25V205.5h-.25zM115.03 89.9h.25V198.9h-.25zM115.28 89.9h.25V185.8h-.25zM115.53 92.7h.25V185.9h-.25zM115.78 92.7h.25V185.9h-.25zM116.03 109.2h.25V182.1h-.25zM116.28 109.2h.25V186.1h-.25zM116.53 102.3h.25V186.1h-.25zM116.78 94.2h.25V187.8h-.25zM117.03 94.2h.25V187.8h-.25zM117.28 109.6h.25V188.6h-.25zM117.53 103.9h.25V189.4h-.25zM117.78 100.1h.25V189.4h-.25zM118.03 99.9h.25V185.4h-.25zM118.28 99.9h.25V196.3h-.25zM118.53 111.2h.25V196.3h-.25zM118.78 107.7h.25V192.8h-.25zM119.03 96.8h.25V192.8h-.25zM119.28 96.8h.25V186.5h-.25zM119.53 98.3h.25V187.4h-.25zM119.78 86.1h.25V188.8h-.25zM120.03 86.1h.25V188.8h-.25zM120.28 98.3h.25V188.9h-.25zM120.53 98.3h.25V189.6h-.25zM120.78 109.8h.25V189.6h-.25zM121.03 106.1h.25V189.9h-.25zM121.28 89.9h.25V189.9h-.25zM121.53 89.9h.25V189.4h-.25zM121.78 106.7h.25V189.4h-.25zM122.03 106.7h.25V187.3h-.25zM122.28 108.5h.25V186.2h-.25zM122.53 97h.25V187.1h-.25zM122.78 97h.25V189.1h-.25zM123.03 103.2h.25V189.1h-.25zM123.28 87.1h.25V191.2h-.25zM123.53 87.1h.25V191.2h-.25zM123.78 101.8h.25V189h-.25zM124.03 104.2h.25V197.7h-.25zM124.28 108.6h.25V197.7h-.25zM124.53 107.3h.25V197.9h-.25zM124.78 107.3h.25V197.9h-.25zM125.03 102.4h.25V197.7h-.25zM125.28 78.5h.25V197.7h-.25zM125.53 78.5h.25V189.3h-.25zM125.78 93.8h.25V199.7h-.25zM126.03 93.8h.25V199.7h-.25zM126.28 104.7h.25V192.7h-.25zM126.53 98.2h.25V192.7h-.25zM126.78 98.2h.25V183h-.25zM127.03 105.6h.25V188.2h-.25zM127.28 88.5h.25V188.2h-.25zM127.53 88.5h.25V182.5h-.25zM127.78 106.1h.25V182.5h-.25zM128.03 95.4h.25V191.7h-.25zM128.28 95.4h.25V192.8h-.25zM128.53 99.7h.25V192.8h-.25zM128.78 99.7h.25V188.5h-.25zM129.03 111.6h.25V191.6h-.25zM129.28 93h.25V205.5h-.25zM129.53 93h.25V205.5h-.25zM129.78 108.6h.25V188.5h-.25zM130.03 99.1h.25V195.6h-.25zM130.28 99.1h.25V195.6h-.25zM130.53 102.2h.25V202.5h-.25zM130.78 102.2h.25V202.5h-.25zM131.03 106.7h.25V193.2h-.25zM131.28 95.6h.25V193.2h-.25zM131.53 95.6h.25V191.7h-.25zM131.78 108.4h.25V194.9h-.25zM132.03 107.5h.25V194.9h-.25zM132.28 107.5h.25V190.3h-.25zM132.53 109.5h.25V204.3h-.25zM132.78 109.9h.25V204.3h-.25zM133.03 106.1h.25V179.1h-.25zM133.28 106.1h.25V197.6h-.25zM133.53 104.6h.25V197.6h-.25zM133.78 92.1h.25V200.7h-.25zM134.03 92.1h.25V200.7h-.25zM134.28 95.4h.25V193h-.25zM134.53 95.4h.25V180.3h-.25zM134.78 88.5h.25V189.1h-.25zM135.03 88.5h.25V190.2h-.25zM135.28 106.5h.25V205.5h-.25zM135.53 115.3h.25V205.5h-.25zM135.78 112.3h.25V192.2h-.25zM136.03 98.8h.25V190.4h-.25zM136.28 98.8h.25V189.5h-.25zM136.53 107h.25V205.5h-.25zM136.78 100.2h.25V205.5h-.25zM137.03 96.3h.25V186.7h-.25zM137.28 96.3h.25V195.4h-.25zM137.53 101.6h.25V195.4h-.25zM137.78 101.6h.25V192.2h-.25zM138.03 107.6h.25V183.5h-.25zM138.28 103.5h.25V185.5h-.25zM138.53 89.9h.25V185.5h-.25zM138.78 89.9h.25V194.7h-.25zM139.03 96.6h.25V194.7h-.25zM139.28 101.7h.25V189.6h-.25zM139.53 106.6h.25V189.6h-.25zM139.78 104h.25V189.2h-.25zM140.03 99.3h.25V192.3h-.25zM140.29 99.3h.25V192.3h-.25zM140.54 104.1h.25V186.6h-.25zM140.79 101.8h.25V186.8h-.25zM141.04 100.1h.25V197h-.25zM141.29 100.1h.25V197h-.25zM141.54 110.7h.25V186.2h-.25zM141.79 107.7h.25V186.2h-.25zM142.04 89.9h.25V186.5h-.25zM142.29 89.9h.25V205.5h-.25zM142.54 112.5h.25V205.5h-.25zM142.79 100.4h.25V192.7h-.25zM143.04 96.6h.25V192.7h-.25zM143.29 96.6h.25V187h-.25zM143.54 95.1h.25V187h-.25zM143.79 95.1h.25V188h-.25zM144.04 108.7h.25V188h-.25zM144.29 108.7h.25V187.3h-.25zM144.54 96.1h.25V195.5h-.25zM144.79 96.1h.25V202.7h-.25zM145.04 104.9h.25V202.7h-.25zM145.29 107.2h.25V192.9h-.25zM145.54 89.9h.25V200.1h-.25zM145.79 89.9h.25V200.1h-.25zM146.04 108.4h.25V193.6h-.25zM146.29 107.5h.25V193.6h-.25zM146.54 100.8h.25V191h-.25zM146.79 100.8h.25V194.6h-.25zM147.04 106h.25V194.6h-.25zM147.29 106h.25V191.7h-.25zM147.54 112.5h.25V196h-.25zM147.79 91.1h.25V196h-.25zM148.04 91.1h.25V190.8h-.25zM148.29 100.8h.25V182.9h-.25zM148.54 107.6h.25V190.5h-.25zM148.79 109.1h.25V190.5h-.25zM149.04 109.1h.25V193.1h-.25zM149.29 114.4h.25V205.5h-.25zM149.54 115.9h.25V205.5h-.25zM149.79 97.9h.25V205.5h-.25zM150.04 89.9h.25V205.5h-.25zM150.29 89.9h.25V190.5h-.25zM150.54 107.4h.25V190.5h-.25zM150.79 108.1h.25V198.6h-.25zM151.04 101.7h.25V198.6h-.25zM151.29 101.7h.25V186.2h-.25zM151.54 92.1h.25V190.1h-.25zM151.79 92.1h.25V199.2h-.25zM152.04 99h.25V205.5h-.25zM152.29 99h.25V205.5h-.25zM152.54 110.9h.25V188.3h-.25zM152.79 110.9h.25V193.3h-.25zM153.04 102.4h.25V197.4h-.25zM153.29 100.5h.25V197.4h-.25zM153.54 100.5h.25V195.6h-.25zM153.79 104.6h.25V195.6h-.25zM154.04 92.4h.25V202.5h-.25zM154.29 92.4h.25V202.5h-.25zM154.54 110.7h.25V187.9h-.25zM154.79 105.6h.25V195.6h-.25zM155.04 104.1h.25V195.6h-.25zM155.29 93.2h.25V192.4h-.25zM155.54 93.2h.25V186h-.25zM155.79 94.4h.25V187.7h-.25zM156.04 94.4h.25V187.7h-.25zM156.29 105.6h.25V184.5h-.25zM156.54 107.3h.25V182.3h-.25zM156.79 107.3h.25V192.3h-.25zM157.04 107.7h.25V195.6h-.25zM157.29 105.6h.25V195.6h-.25zM157.54 105.6h.25V200.4h-.25zM157.79 90.7h.25V200.4h-.25zM158.04 90.7h.25V197.1h-.25zM158.29 98.7h.25V197.1h-.25zM158.54 98.7h.25V185.4h-.25zM158.79 106.6h.25V195.6h-.25zM159.04 90.2h.25V195.6h-.25zM159.29 90.2h.25V192.4h-.25zM159.54 97h.25V190.6h-.25zM159.79 97.6h.25V200.4h-.25zM160.04 97.6h.25V200.4h-.25zM160.29 105h.25V186.4h-.25zM160.54 105h.25V186.5h-.25zM160.79 110.3h.25V186.5h-.25zM161.04 110.3h.25V185.5h-.25zM161.29 105.6h.25V185.5h-.25zM161.54 105.6h.25V196.7h-.25zM161.79 95.1h.25V196.7h-.25zM162.04 95.1h.25V191.5h-.25zM162.29 105.9h.25V187h-.25zM162.54 108.9h.25V187h-.25zM162.79 102.7h.25V184.7h-.25zM163.04 101.8h.25V196.6h-.25zM163.29 101.8h.25V196.6h-.25zM163.54 103h.25V191.7h-.25zM163.79 103h.25V191.7h-.25zM164.04 108.7h.25V180.8h-.25zM164.29 99.9h.25V179.6h-.25zM164.54 99.9h.25V180.5h-.25zM164.79 105.7h.25V184.7h-.25zM165.04 105.7h.25V187.4h-.25zM165.3 108.4h.25V193.2h-.25zM165.55 111.2h.25V194.9h-.25zM165.8 100.5h.25V194.9h-.25zM166.05 100.5h.25V188.2h-.25zM166.3 107.2h.25V187.9h-.25zM166.55 77.5h.25V186.8h-.25zM166.8 77.5h.25V186.2h-.25zM167.05 96h.25V203.6h-.25zM167.3 96h.25V203.6h-.25zM167.55 108.6h.25V196.7h-.25zM167.8 104.9h.25V196.7h-.25zM168.05 104.9h.25V196.4h-.25zM168.3 107.1h.25V187.6h-.25zM168.55 107.1h.25V187.7h-.25zM168.8 86.4h.25V196.9h-.25zM169.05 86.4h.25V196.9h-.25zM169.3 102.6h.25V192.2h-.25zM169.55 102.6h.25V197.5h-.25zM169.8 100.4h.25V197.5h-.25zM170.05 100.4h.25V189.1h-.25zM170.3 105.7h.25V199.1h-.25zM170.55 105.7h.25V199.1h-.25zM170.8 109.6h.25V196.5h-.25zM171.05 109.6h.25V205.5h-.25zM171.3 115.1h.25V205.5h-.25zM171.55 113.4h.25V192.6h-.25zM171.8 107.9h.25V192.6h-.25zM172.05 101.6h.25V188.2h-.25zM172.3 101.6h.25V203.2h-.25zM172.55 109.3h.25V203.2h-.25zM172.8 109.9h.25V193.9h-.25zM173.05 109.9h.25V193.9h-.25zM173.3 114h.25V191.3h-.25zM173.55 95h.25V196.2h-.25zM173.8 95h.25V196.2h-.25zM174.05 108.7h.25V190.4h-.25zM174.3 89.9h.25V190.4h-.25zM174.55 89.9h.25V194.7h-.25zM174.8 108.5h.25V194.7h-.25zM175.05 99.7h.25V186h-.25zM175.3 99.7h.25V187.7h-.25zM175.55 108.8h.25V187.7h-.25zM175.8 109.7h.25V182.7h-.25zM176.05 108.5h.25V195.6h-.25zM176.3 104.8h.25V195.6h-.25zM176.55 104.8h.25V194.2h-.25zM176.8 107h.25V194.2h-.25zM177.05 107h.25V196.2h-.25zM177.3 97.6h.25V196.2h-.25zM177.55 97.6h.25V188.6h-.25zM52 106.3h.998V190.5h-.998zM53 105.8h.998V188.3h-.998zM54 109.2h.998V188.8h-.998zM55 109.2h.998V186.7h-.998zM55.99 106.9h.998V190.2h-.998zM56.99 106h.998V187.7h-.998zM57.99 107.2h.998V185.6h-.998zM58.99 104h.998V186h-.998zM59.99 109.5h.998V186.4h-.998zM60.99 102h.998V190.6h-.998zM61.98 105.8h.998V193h-.998zM62.98 101.6h.998V188.7h-.998zM63.98 102.6h.998V185.5h-.998zM64.98 107.9h.998V191.8h-.998zM65.98 103.1h.998V193.3h-.998zM66.98 101.4h.998V184.8h-.998zM67.97 110h.998V194.1h-.998zM68.97 107.7h.998V189.6h-.998zM69.97 102.6h.998V192.4h-.998zM70.97 105.6h.998V190.6h-.998zM71.97 105.4h.998V195.1h-.998zM72.97 103.3h.998V188.5h-.998zM73.97 109.5h.998V186h-.998zM74.96 106.9h.998V195.1h-.998zM75.96 110.4h.998V192.1h-.998zM76.96 102.2h.998V186.7h-.998zM77.96 106.5h.998V189.7h-.998zM78.96 109.7h.998V190h-.998zM79.96 101h.998V188.3h-.998zM80.95 99.8h.998V193.3h-.998zM81.95 107.7h.998V191.4h-.998zM82.95 104.4h.998V184h-.998zM83.95 108.4h.998V191.7h-.998zM84.95 100.9h.998V192h-.998zM85.95 102.9h.998V190.4h-.998zM86.94 108h.998V187.4h-.998zM87.94 109.5h.998V189.8h-.998zM88.94 110h.998V192.1h-.998zM89.94 107.2h.998V185.6h-.998zM90.94 106.3h.998V188.3h-.998zM91.94 103.5h.998V184.2h-.998zM92.93 100.1h.998V185.4h-.998zM93.93 110.6h.998V188.8h-.998zM94.93 103h.998V184h-.998zM95.93 100.4h.998V191.8h-.998zM96.93 107.4h.998V184.5h-.998zM97.93 106.3h.998V186.5h-.998zM98.93 105.7h.998V185.2h-.998zM99.92 101h.998V190.4h-.998zM100.92 107.5h.998V186.8h-.998zM101.92 110.7h.998V185.8h-.998zM102.92 101.9h.998V190h-.998zM103.92 110h.998V189.1h-.998zM104.92 101.5h.998V188.2h-.998zM105.91 104.2h.998V184.9h-.998zM106.91 101.2h.998V183.9h-.998zM107.91 107h.998V192.3h-.998zM108.91 109.1h.998V189.4h-.998zM109.91 99.8h.998V187.6h-.998zM110.91 107.1h.998V189.2h-.998zM111.9 104h.998V191h-.998zM112.9 107.8h.998V191.3h-.998zM113.9 102.5h.998V186h-.998zM114.9 106.1h.998V193.4h-.998zM115.9 106.2h.998V192.1h-.998zM116.9 107.5h.998V188.5h-.998zM117.9 101.7h.998V191.3h-.998zM118.89 110h.998V191.5h-.998zM119.89 106.2h.998V188.6h-.998zM120.89 102.7h.998V184.4h-.998zM121.89 108.9h.998V194.6h-.998zM122.89 101.8h.998V190h-.998zM123.89 101.6h.998V191.2h-.998zM124.88 106.3h.998V184.7h-.998zM125.88 103.2h.998V187.2h-.998zM126.88 107.8h.998V192h-.998zM127.88 104.6h.998V188h-.998zM128.88 101.6h.998V191.8h-.998zM129.88 105.8h.998V184.3h-.998zM130.87 102.8h.998V192.2h-.998zM131.87 104.2h.998V192.3h-.998zM132.87 109.6h.998V184.4h-.998zM133.87 100.3h.998V187h-.998zM134.87 103.5h.998V185.7h-.998zM135.87 108.7h.998V191.2h-.998zM136.87 101.2h.998V190.9h-.998zM137.86 102.4h.998V194.1h-.998zM138.86 108.8h.998V185.7h-.998zM139.86 110h.998V187.5h-.998zM140.86 100.3h.998V188.9h-.998zM141.86 100.5h.998V186.2h-.998zM142.86 104.2h.998V192.3h-.998zM143.85 102.8h.998V191.7h-.998zM144.85 108.4h.998V192.5h-.998zM145.85 101.7h.998V190.2h-.998zM146.85 109.4h.998V184.2h-.998zM147.85 100.1h.998V194.6h-.998zM148.85 100.8h.998V188.3h-.998zM149.84 108h.998V187.3h-.998zM150.84 100.9h.998V194.5h-.998zM151.84 109.2h.998V191h-.998zM152.84 110.7h.998V194.9h-.998zM153.84 99.8h.998V185.9h-.998zM154.84 106.9h.998V194.2h-.998zM155.83 109.5h.998V185.5h-.998zM156.83 107.4h.998V191.2h-.998zM157.83 107.7h.998V193.5h-.998zM158.83 109.1h.998V188.9h-.998zM159.83 109.1h.998V192.3h-.998zM160.83 102.5h.998V194.7h-.998zM161.83 100.4h.998V190.9h-.998zM162.82 101.4h.998V183.7h-.998zM163.82 109.4h.998V187.1h-.998zM164.82 108.8h.998V188.5h-.998zM165.82 110.5h.998V187.7h-.998zM166.82 102.6h.998V190.9h-.998zM167.82 105.9h.998V190.8h-.998zM168.81 104.6h.998V184.5h-.998zM169.81 100.8h.998V192.8h-.998zM170.81 104.6h.998V188.9h-.998zM171.81 110h.998V190.2h-.998zM172.81 110h.998V189.3h-.998zM173.81 102.7h.998V187.2h-.998zM174.8 105.4h.998V187.1h-.998zM175.8 109.9h.998V183.9h-.998zM176.8 100.4h.998V192.7h-.998z"/>
<path transform="translate(0.30,0)" opacity="0.3333" fill="#0072bd" d="M52 101.9h.25V190.9h-.25zM52.25 98.2h.25V190.9h-.25zM52.5 98.2h.25V186.9h-.25zM52.75 106.9h.25V196.8h-.25zM53 104.1h.25V204.3h-.25zM53.25 104.1h.25V204.3h-.25zM53.5 89.9h.25V189.3h-.25zM53.75 89.9h.25V194h-.25zM54 107.3h.25V194h-.25zM54.25 107.7h.25V201.3h-.25zM54.5 96.8h.25V201.3h-.25zM54.75 96.8h.25V191.1h-.25zM55 102.2h.25V191.1h-.25zM55.25 103.1h.25V188.5h-.25zM55.5 105.9h.25V186.4h-.25zM55.75 98.6h.25V190.8h-.25zM56 98.6h.25V190.8h-.25zM56.25 104.6h.25V191.6h-.25zM56.5 104.6h.25V191.8h-.25zM56.75 114.8h.25V198.3h-.25zM57 110h.25V198.3h-.25zM57.25 110h.25V185.5h-.25zM57.5 110.6h.25V185.3h-.25zM57.75 97.1h.25V192.8h-.25zM58 97.1h.25V192.8h-.25zM58.25 105.2h.25V188.1h-.25zM58.5 89.9h.25V194.8h-.25zM58.75 89.9h.25V194.8h-.25zM59 94h.25V192.9h-.25zM59.25 94h.25V198.2h-.25zM59.5 97h.25V198.2h-.25zM59.75 108.7h.25V194.5h-.25zM60 108.4h.25V194.5h-.25zM60.25 107.2h.25V187.2h-.25zM60.5 104.1h.25V180.1h-.25zM60.75 104.1h.25V190h-.25zM61 97.6h.25V190h-.25zM61.25 97.6h.25V199.5h-.25zM61.5 102.2h.25V199.5h-.25zM61.75 102.9h.25V186.7h-.25zM62 89.9h.25V191.7h-.25zM62.25 89.9h.25V191.7h-.25zM62.5 111.3h.25V190.6h-.25zM62.75 96.5h.25V188.6h-.25zM63 96.5h.25V195.2h-.25zM63.25 100.6h.25V195.2h-.25zM63.5 100.6h.25V194.2h-.25zM63.75 99.3h.25V188.9h-.25zM64 99.3h.25V188.6h-.25zM64.25 102.1h.25V183.5h-.25zM64.5 102.1h.25V183.5h-.25zM64.76 95.9h.25V195.3h-.25zM65.01 95.9h.25V195.3h-.25zM65.26 103.2h.25V190.6h-.25zM65.51 107.2h.25V191h-.25zM65.76 107.2h.25V191h-.25zM66.01 114h.25V192.1h-.25zM66.26 102.5h.25V203.6h-.25zM66.51 92.1h.25V203.6h-.25zM66.76 92.1h.25V191h-.25zM67.01 99h.25V191h-.25zM67.26 106.4h.25V196.8h-.25zM67.51 111.7h.25V196.8h-.25zM67.76 110.1h.25V193.6h-.25zM68.01 110.1h.25V193.6h-.25zM68.26 112.3h.25V191.1h-.25zM68.51 92.8h.25V194.2h-.25zM68.76 92.8h.25V194.2h-.25zM69.01 83.2h.25V180h-.25zM69.26 83.2h.25V180h-.25zM69.51 98.6h.25V197.8h-.25zM69.76 98.6h.25V197.8h-.25zM70.01 94.2h.25V203h-.25zM70.26 94.2h.25V203h-.25zM70.51 92.2h.25V191.2h-.25zM70.76 92.2h.25V205.5h-.25zM71.01 111.1h.25V205.5h-.25zM71.26 107.8h.25V191.2h-.25zM71.51 107.8h.25V205.5h-.25zM71.76 116.1h.25V205.5h-.25zM72.01 109.7h.25V197.9h-.25zM72.26 109.7h.25V186.1h-.25zM72.51 105.8h.25V204.8h-.25zM72.76 98.4h.25V204.8h-.25zM73.01 98.4h.25V190.2h-.25zM73.26 106h.25V188.5h-.25zM73.51 108.2h.25V192.7h-.25zM73.76 89.9h.25V192.7h-.25zM74.01 89.9h.25V188.8h-.25zM74.26 82.1h.25V191.4h-.25zM74.51 82.1h.25V191.4h-.25zM74.76 110.8h.25V188.9h-.25zM75.01 108.3h.25V190.1h-.25zM75.26 101.6h.25V190.1h-.25zM75.51 101.6h.25V185.5h-.25zM75.76 105.5h.25V186.2h-.25zM76.01 105.5h.25V186.2h-.25zM76.26 99.7h.25V186.5h-.25zM76.51 99.7h.25V186.5h-.25zM76.76 105.6h.25V188h-.25zM77.01 105.6h.25V188h-.25zM77.26 106h.25V182.9h-.25zM77.51 96h.25V184.6h-.25zM77.76 96h.25V191.8h-.25zM78.01 108.3h.25V191.8h-.25zM78.26 110.6h.25V187.1h-.25zM78.51 98.8h.25V187.4h-.25zM78.76 98.8h.25V187.9h-.25zM79.01 108.1h.25V192.7h-.25zM79.26 105h.25V192.7h-.25zM79.51 97.6h.25V189.3h-.25zM79.76 97.6h.25V190.8h-.25zM80.01 90.7h.25V190.8h-.25zM80.26 90.7h.25V184.8h-.25zM80.51 106h.25V184.8h-.25zM80.76 107h.25V187h-.25zM81.01 102.1h.25V187.2h-.25zM81.26 102.1h.25V195.9h-.25zM81.51 106h.25V195.9h-.25zM81.76 97.6h.25V191h-.25zM82.01 97.6h.25V191h-.25zM82.26 108h.25V197.9h-.25zM82.51 90.7h.25V197.9h-.25zM82.76 90.7h.25V195h-.25zM83.01 108.2h.25V195h-.25zM83.26 97.6h.25V184.7h-.25zM83.51 97.6h.25V184.7h-.25zM83.76 108.9h.25V188.8h-.25zM84.01 106.1h.25V188.8h-.25zM84.26 106.1h.25V188.2h-.25zM84.51 104.5h.25V195.1h-.25zM84.76 98.8h.25V195.1h-.25zM85.01 98.8h.25V184.5h-.25zM85.26 105h.25V180.6h-.25zM85.51 105h.25V183.3h-.25zM85.76 114.1h.25V190.3h-.25zM86.01 113h.25V190.3h-.25zM86.26 110.8h.25V185h-.25zM86.51 104.9h.25V188.2h-.25zM86.76 104.9h.25V188.2h-.25zM87.01 108h.25V188.2h-.25zM87.26 106.2h.25V188.2h-.25zM87.51 106.2h.25V186h-.25zM87.76 91.6h.25V195.3h-.25zM88.01 91.6h.25V195.3h-.25zM88.26 104.5h.25V187.4h-.25zM88.51 104.5h.25V204.8h-.25zM88.76 113.7h.25V204.8h-.25zM89.01 111.7h.25V188.9h-.25zM89.26 108.5h.25V202.5h-.25zM89.51 108.5h.25V202.5h-.25zM89.77 105.7h.25V195h-.25zM90.02 105.7h.25V183.7h-.25zM90.27 104.8h.25V188.9h-.25zM90.52 99h.25V188.9h-.25zM90.77 99h.25V188h-.25zM91.02 111.5h.25V187.3h-.25zM91.27 111.5h.25V189.9h-.25zM91.52 106.6h.25V191.7h-.25zM91.77 106.6h.25V191.7h-.25zM92.02 109.9h.25V190.6h-.25zM92.27 105.8h.25V190.1h-.25zM92.52 105.3h.25V182.6h-.25zM92.77 98.1h.25V198.2h-.25zM93.02 98.1h.25V198.2h-.25zM93.27 100.1h.25V185.7h-.25zM93.52 100.1h.25V185.7h-.25zM93.77 108.7h.25V188h-.25zM94.02 92.8h.25V188h-.25zM94.27 92.8h.25V187h-.25zM94.52 101.3h.25V188.8h-.25zM94.77 101.3h.25V188.8h-.25zM95.02 89.9h.25V185.4h-.25zM95.27 89.9h.25V192.3h-.25zM95.52 98.3h.25V192.3h-.25zM95.77 98.3h.25V187.2h-.25zM96.02 108.2h.25V194.2h-.25zM96.27 110.4h.25V194.2h-.25zM96.52 110.4h.25V194.2h-.25zM96.77 103h.25V194.2h-.25zM97.02 103h.25V190.4h-.25zM97.27 100.5h.25V188.2h-.25zM97.52 100.5h.25V186.8h-.25zM97.77 106.5h.25V185.5h-.25zM98.02 106.5h.25V186.4h-.25zM98.27 95.8h.25V188.9h-.25zM98.52 95.8h.25V190.5h-.25zM98.77 103.5h.25V190.5h-.25zM99.02 94.7h.25V186.9h-.25zM99.27 94.7h.25V189.8h-.25zM99.52 107.5h.25V189.8h-.25zM99.77 110.7h.25V186.6h-.25zM100.02 110.2h.25V187h-.25zM100.27 110.2h.25V187h-.25zM100.52 105.2h.25V188.1h-.25zM100.77 100.8h.25V188.1h-.25zM101.02 100.8h.25V185.7h-.25zM101.27 94.7h.25V193h-.25zM101.52 94.7h.25V193h-.25zM101.77 98h.25V185.7h-.25zM102.02 111.3h.25V185.7h-.25zM102.27 98.4h.25V185.5h-.25zM102.52 98.4h.25V184.7h-.25zM102.77 105h.25V184.7h-.25zM103.02 90.2h.25V202h-.25zM103.27 90.2h.25V202h-.25zM103.52 104.7h.25V191.1h-.25zM103.77 109.4h.25V190.8h-.25zM104.02 97.3h.25V203.6h-.25zM104.27 97.3h.25V203.6h-.25zM104.52 101.4h.25V184.8h-.25zM104.77 90.4h.25V196.7h-.25zM105.02 90.4h.25V196.7h-.25zM105.27 111.3h.25V181.9h-.25zM105.52 100.3h.25V198.3h-.25zM105.77 100.3h.25V198.3h-.25zM106.02 104.2h.25V200.7h-.25zM106.27 105.2h.25V200.7h-.25zM106.52 112.7h.25V199.8h-.25zM106.77 112.7h.25V199.8h-.25zM107.02 113.2h.25V189.8h-.25zM107.27 93.9h.25V205.2h-.25zM107.52 93.9h.25V205.2h-.25zM107.77 93.9h.25V188h-.25zM108.02 107.3h.25V194.9h-.25zM108.27 107.4h.25V197.8h-.25zM108.52 98.1h.25V219.7h-.25zM108.77 98.1h.25V219.7h-.25zM109.02 112.6h.25V190.3h-.25zM109.27 96h.25V197.8h-.25zM109.52 96h.25V197.8h-.25zM109.77 98.8h.25V183.3h-.25zM110.02 98.8h.25V193.8h-.25zM110.27 100.3h.25V193.8h-.25zM110.52 90.7h.25V192.3h-.25zM110.77 90.7h.25V180.6h-.25zM111.02 100.2h.25V180.6h-.25zM111.27 107.5h.25V180.6h-.25zM111.52 98h.25V185.7h-.25zM111.77 97.2h.25V186.2h-.25zM112.02 97.2h.25V197.4h-.25zM112.27 105.3h.25V197.4h-.25zM112.52 112.1h.25V181.8h-.25zM112.77 109.3h.25V192.6h-.25zM113.02 104.3h.25V194.1h-.25zM113.27 104.3h.25V194.1h-.25zM113.52 105.7h.25V190h-.25zM113.77 105.2h.25V190.1h-.25zM114.02 99.6h.25V190.1h-.25zM114.27 99.6h.25V186.2h-.25zM114.52 101.4h.25V205.5h-.25zM114.77 101.4h.25V205.5h-.25zM115.03 89.9h.25V198.9h-.25zM115.28 89.9h.25V185.8h-.25zM115.53 92.7h.25V185.9h-.25zM115.78 92.7h.25V185.9h-.25zM116.03 109.2h.25V182.1h-.25zM116.28 109.2h.25V186.1h-.25zM116.53 102.3h.25V186.1h-.25zM116.78 94.2h.25V187.8h-.25zM117.03 94.2h.25V187.8h-.25zM117.28 109.6h.25V188.6h-.25zM117.53 103.9h.25V189.4h-.25zM117.78 100.1h.25V189.4h-.25zM118.03 99.9h.25V185.4h-.25zM118.28 99.9h.25V196.3h-.25zM118.53 111.2h.25V196.3h-.25zM118.78 107.7h.25V192.8h-.25zM119.03 96.8h.25V192.8h-.25zM119.28 96.8h.25V186.5h-.25zM119.53 98.3h.25V187.4h-.25zM119.78 86.1h.25V188.8h-.25zM120.03 86.1h.25V188.8h-.25zM120.28 98.3h.25V188.9h-.25zM120.53 98.3h.25V189.6h-.25zM120.78 109.8h.25V189.6h-.25zM121.03 106.1h.25V189.9h-.25zM121.28 89.9h.25V189.9h-.25zM121.53 89.9h.25V189.4h-.25zM121.78 106.7h.25V189.4h-.25zM122.03 106.7h.25V187.3h-.25zM122.28 108.5h.25V186.2h-.25zM122.53 97h.25V187.1h-.25zM122.78 97h.25V189.1h-.25zM123.03 103.2h.25V189.1h-.25zM123.28 87.1h.25V191.2h-.25zM123.53 87.1h.25V191.2h-.25zM123.78 101.8h.25V189h-.25zM124.03 104.2h.25V197.7h-.25zM124.28 108.6h.25V197.7h-.25zM124.53 107.3h.25V197.9h-.25zM124.78 107.3h.25V197.9h-.25zM125.03 102.4h.25V197.7h-.25zM125.28 78.5h.25V197.7h-.25zM125.53 78.5h.25V189.3h-.25zM125.78 93.8h.25V199.7h-.25zM126.03 93.8h.25V199.7h-.25zM126.28 104.7h.25V192.7h-.25zM126.53 98.2h.25V192.7h-.25zM126.78 98.2h.25V183h-.25zM127.03 105.6h.25V188.2h-.25zM127.28 88.5h.25V188.2h-.25zM127.53 88.5h.25V182.5h-.25zM127.78 106.1h.25V182.5h-.25zM128.03 95.4h.25V191.7h-.25zM128.28 95.4h.25V192.8h-.25zM128.53 99.7h.25V192.8h-.25zM128.78 99.7h.25V188.5h-.25zM129.03 111.6h.25V191.6h-.25zM129.28 93h.25V205.5h-.25zM129.53 93h.25V205.5h-.25zM129.78 108.6h.25V188.5h-.25zM130.03 99.1h.25V195.6h-.25zM130.28 99.1h.25V195.6h-.25zM130.53 102.2h.25V202.5h-.25zM130.78 102.2h.25V202.5h-.25zM131.03 106.7h.25V193.2h-.25zM131.28 95.6h.25V193.2h-.25zM131.53 95.6h.25V191.7h-.25zM131.78 108.4h.25V194.9h-.25zM132.03 107.5h.25V194.9h-.25zM132.28 107.5h.25V190.3h-.25zM132.53 109.5h.25V204.3h-.25zM132.78 109.9h.25V204.3h-.25zM133.03 106.1h.25V179.1h-.25zM133.28 106.1h.25V197.6h-.25zM133.53 104.6h.25V197.6h-.25zM133.78 92.1h.25V200.7h-.25zM134.03 92.1h.25V200.7h-.25zM134.28 95.4h.25V193h-.25zM134.53 95.4h.25V180.3h-.25zM134.78 88.5h.25V189.1h-.25zM135.03 88.5h.25V190.2h-.25zM135.28 106.5h.25V205.5h-.25zM135.53 115.3h.25V205.5h-.25zM135.78 112.3h.25V192.2h-.25zM136.03 98.8h.25V190.4h-.25zM136.28 98.8h.25V189.5h-.25zM136.53 107h.25V205.5h-.25zM136.78 100.2h.25V205.5h-.25zM137.03 96.3h.25V186.7h-.25zM137.28 96.3h.25V195.4h-.25zM137.53 101.6h.25V195.4h-.25zM137.78 101.6h.25V192.2h-.25zM138.03 107.6h.25V183.5h-.25zM138.28 103.5h.25V185.5h-.25zM138.53 89.9h.25V185.5h-.25zM138.78 89.9h.25V194.7h-.25zM139.03 96.6h.25V194.7h-.25zM139.28 101.7h.25V189.6h-.25zM139.53 106.6h.25V189.6h-.25zM139.78 104h.25V189.2h-.25zM140.03 99.3h.25V192.3h-.25zM140.29 99.3h.25V192.3h-.25zM140.54 104.1h.25V186.6h-.25zM140.79 101.8h.25V186.8h-.25zM141.04 100.1h.25V197h-.25zM141.29 100.1h.25V197h-.25zM141.54 110.7h.25V186.2h-.25zM141.79 107.7h.25V186.2h-.25zM142.04 89.9h.25V186.5h-.25zM142.29 89.9h.25V205.5h-.25zM142.54 112.5h.25V205.5h-.25zM142.79 100.4h.25V192.7h-.25zM143.04 96.6h.25V192.7h-.25zM143.29 96.6h.25V187h-.25zM143.54 95.1h.25V187h-.25zM143.79 95.1h.25V188h-.25zM144.04 108.7h.25V188h-.25zM144.29 108.7h.25V187.3h-.25zM144.54 96.1h.25V195.5h-.25zM144.79 96.1h.25V202.7h-.25zM145.04 104.9h.25V202.7h-.25zM145.29 107.2h.25V192.9h-.25zM145.54 89.9h.25V200.1h-.25zM145.79 89.9h.25V200.1h-.25zM146.04 108.4h.25V193.6h-.25zM146.29 107.5h.25V193.6h-.25zM146.54 100.8h.25V191h-.25zM146.79 100.8h.25V194.6h-.25zM147.04 106h.25V194.6h-.25zM147.29 106h.25V191.7h-.25zM147.54 112.5h.25V196h-.25zM147.79 91.1h.25V196h-.25zM148.04 91.1h.25V190.8h-.25zM148.29 100.8h.25V182.9h-.25zM148.54 107.6h.25V190.5h-.25zM148.79 109.1h.25V190.5h-.25zM149.04 109.1h.25V193.1h-.25zM149.29 114.4h.25V205.5h-.25zM149.54 115.9h.25V205.5h-.25zM149.79 97.9h.25V205.5h-.25zM150.04 89.9h.25V205.5h-.25zM150.29 89.9h.25V190.5h-.25zM150.54 107.4h.25V190.5h-.25zM150.79 108.1h.25V198.6h-.25zM151.04 101.7h.25V198.6h-.25zM151.29 101.7h.25V186.2h-.25zM151.54 92.1h.25V190.1h-.25zM151.79 92.1h.25V199.2h-.25zM152.04 99h.25V205.5h-.25zM152.29 99h.25V205.5h-.25zM152.54 110.9h.25V188.3h-.25zM152.79 110.9h.25V193.3h-.25zM153.04 102.4h.25V197.4h-.25zM153.29 100.5h.25V197.4h-.25zM153.54 100.5h.25V195.6h-.25zM153.79 104.6h.25V195.6h-.25zM154.04 92.4h.25V202.5h-.25zM154.29 92.4h.25V202.5h-.25zM154.54 110.7h.25V187.9h-.25zM154.79 105.6h.25V195.6h-.25zM155.04 104.1h.25V195.6h-.25zM155.29 93.2h.25V192.4h-.25zM155.54 93.2h.25V186h-.25zM155.79 94.4h.25V187.7h-.25zM156.04 94.4h.25V187.7h-.25zM156.29 105.6h.25V184.5h-.25zM156.54 107.3h.25V182.3h-.25zM156.79 107.3h.25V192.3h-.25zM157.04 107.7h.25V195.6h-.25zM157.29 105.6h.25V195.6h-.25zM157.54 105.6h.25V200.4h-.25zM157.79 90.7h.25V200.4h-.25zM158.04 90.7h.25V197.1h-.25zM158.29 98.7h.25V197.1h-.25zM158.54 98.7h.25V185.4h-.25zM158.79 106.6h.25V195.6h-.25zM159.04 90.2h.25V195.6h-.25zM159.29 90.2h.25V192.4h-.25zM159.54 97h.25V190.6h-.25zM159.79 97.6h.25V200.4h-.25zM160.04 97.6h.25V200.4h-.25zM160.29 105h.25V186.4h-.25zM160.54 105h.25V186.5h-.25zM160.79 110.3h.25V186.5h-.25zM161.04 110.3h.25V185.5h-.25zM161.29 105.6h.25V185.5h-.25zM161.54 105.6h.25V196.7h-.25zM161.79 95.1h.25V196.7h-.25zM162.04 95.1h.25V191.5h-.25zM162.29 105.9h.25V187h-.25zM162.54 108.9h.25V187h-.25zM162.79 102.7h.25V184.7h-.25zM163.04 101.8h.25V196.6h-.25zM163.29 101.8h.25V196.6h-.25zM163.54 103h.25V191.7h-.25zM163.79 103h.25V191.7h-.25zM164.04 108.7h.25V180.8h-.25zM164.29 99.9h.25V179.6h-.25zM164.54 99.9h.25V180.5h-.25zM164.79 105.7h.25V184.7h-.25zM165.04 105.7h.25V187.4h-.25zM165.3 108.4h.25V193.2h-.25zM165.55 111.2h.25V194.9h-.25zM165.8 100.5h.25V194.9h-.25zM166.05 100.5h.25V188.2h-.25zM166.3 107.2h.25V187.9h-.25zM166.55 77.5h.25V186.8h-.25zM166.8 77.5h.25V186.2h-.25zM167.05 96h.25V203.6h-.25zM167.3 96h.25V203.6h-.25zM167.55 108.6h.25V196.7h-.25zM167.8 104.9h.25V196.7h-.25zM168.05 104.9h.25V196.4h-.25zM168.3 107.1h.25V187.6h-.25zM168.55 107.1h.25V187.7h-.25zM168.8 86.4h.25V196.9h-.25zM169.05 86.4h.25V196.9h-.25zM169.3 102.6h.25V192.2h-.25zM169.55 102.6h.25V197.5h-.25zM169.8 100.4h.25V197.5h-.25zM170.05 100.4h.25V189.1h-.25zM170.3 105.7h.25V199.1h-.25zM170.55 105.7h.25V199.1h-.25zM170.8 109.6h.25V196.5h-.25zM171.05 109.6h.25V205.5h-.25zM171.3 115.1h.25V205.5h-.25zM171.55 113.4h.25V192.6h-.25zM171.8 107.9h.25V192.6h-.25zM172.05 101.6h.25V188.2h-.25zM172.3 101.6h.25V203.2h-.25zM172.55 109.3h.25V203.2h-.25zM172.8 109.9h.25V193.9h-.25zM173.05 109.9h.25V193.9h-.25zM173.3 114h.25V191.3h-.25zM173.55 95h.25V196.2h-.25zM173.8 95h.25V196.2h-.25zM174.05 108.7h.25V190.4h-.25zM174.3 89.9h.25V190.4h-.25zM174.55 89.9h.25V194.7h-.25zM174.8 108.5h.25V194.7h-.25zM175.05 99.7h.25V186h-.25zM175.3 99.7h.25V187.7h-.25zM175.55 108.8h.25V187.7h-.25zM175.8 109.7h.25V182.7h-.25zM176.05 108.5h.25V195.6h-.25zM176.3 104.8h.25V195.6h-.25zM176.55 104.8h.25V194.2h-.25zM176.8 107h.25V194.2h-.25zM177.05 107h.25V196.2h-.25zM177.3 97.6h.25V196.2h-.25zM177.55 97.6h.25V188.6h-.25zM52 106.3h.998V190.5h-.998zM53 105.8h.998V188.3h-.998zM54 109.2h.998V188.8h-.998zM55 109.2h.998V186.7h-.998zM55.99 106.9h.998V190.2h-.998zM56.99 106h.998V187.7h-.998zM57.99 107.2h.998V185.6h-.998zM58.99 104h.998V186h-.998zM59.99 109.5h.998V186.4h-.998zM60.99 102h.998V190.6h-.998zM61.98 105.8h.998V193h-.998zM62.98 101.6h.998V188.7h-.998zM63.98 102.6h.998V185.5h-.998zM64.98 107.9h.998V191.8h-.998zM65.98 103.1h.998V193.3h-.998zM66.98 101.4h.998V184.8h-.998zM67.97 110h.998V194.1h-.998zM68.97 107.7h.998V189.6h-.998zM69.97 102.6h.998V192.4h-.998zM70.97 105.6h.998V190.6h-.998zM71.97 105.4h.998V195.1h-.998zM72.97 103.3h.998V188.5h-.998zM73.97 109.5h.998V186h-.998zM74.96 106.9h.998V195.1h-.998zM75.96 110.4h.998V192.1h-.998zM76.96 102.2h.998V186.7h-.998zM77.96 106.5h.998V189.7h-.998zM78.96 109.7h.998V190h-.998zM79.96 101h.998V188.3h-.998zM80.95 99.8h.998V193.3h-.998zM81.95 107.7h.998V191.4h-.998zM82.95 104.4h.998V184h-.998zM83.95 108.4h.998V191.7h-.998zM84.95 100.9h.998V192h-.998zM85.95 102.9h.998V190.4h-.998zM86.94 108h.998V187.4h-.998zM87.94 109.5h.998V189.8h-.998zM88.94 110h.998V192.1h-.998zM89.94 107.2h.998V185.6h-.998zM90.94 106.3h.998V188.3h-.998zM91.94 103.5h.998V184.2h-.998zM92.93 100.1h.998V185.4h-.998zM93.93 110.6h.998V188.8h-.998zM94.93 103h.998V184h-.998zM95.93 100.4h.998V191.8h-.998zM96.93 107.4h.998V184.5h-.998zM97.93 106.3h.998V186.5h-.998zM98.93 105.7h.998V185.2h-.998zM99.92 101h.998V190.4h-.998zM100.92 107.5h.998V186.8h-.998zM101.92 110.7h.998V185.8h-.998zM102.92 101.9h.998V190h-.998zM103.92 110h.998V189.1h-.998zM104.92 101.5h.998V188.2h-.998zM105.91 104.2h.998V184.9h-.998zM106.91 101.2h.998V183.9h-.998zM107.91 107h.998V192.3h-.998zM108.91 109.1h.998V189.4h-.998zM109.91 99.8h.998V187.6h-.998zM110.91 107.1h.998V189.2h-.998zM111.9 104h.998V191h-.998zM112.9 107.8h.998V191.3h-.998zM113.9 102.5h.998V186h-.998zM114.9 106.1h.998V193.4h-.998zM115.9 106.2h.998V192.1h-.998zM116.9 107.5h.998V188.5h-.998zM117.9 101.7h.998V191.3h-.998zM118.89 110h.998V191.5h-.998zM119.89 106.2h.998V188.6h-.998zM120.89 102.7h.998V184.4h-.998zM121.89 108.9h.998V194.6h-.998zM122.89 101.8h.998V190h-.998zM123.89 101.6h.998V191.2h-.998zM124.88 106.3h.998V184.7h-.998zM125.88 103.2h.998V187.2h-.998zM126.88 107.8h.998V192h-.998zM127.88 104.6h.998V188h-.998zM128.88 101.6h.998V191.8h-.998zM129.88 105.8h.998V184.3h-.998zM130.87 102.8h.998V192.2h-.998zM131.87 104.2h.998V192.3h-.998zM132.87 109.6h.998V184.4h-.998zM133.87 100.3h.998V187h-.998zM134.87 103.5h.998V185.7h-.998zM135.87 108.7h.998V191.2h-.998zM136.87 101.2h.998V190.9h-.998zM137.86 102.4h.998V194.1h-.998zM138.86 108.8h.998V185.7h-.998zM139.86 110h.998V187.5h-.998zM140.86 100.3h.998V188.9h-.998zM141.86 100.5h.998V186.2h-.998zM142.86 104.2h.998V192.3h-.998zM143.85 102.8h.998V191.7h-.998zM144.85 108.4h.998V192.5h-.998zM145.85 101.7h.998V190.2h-.998zM146.85 109.4h.998V184.2h-.998zM147.85 100.1h.998V194.6h-.998zM148.85 100.8h.998V188.3h-.998zM149.84 108h.998V187.3h-.998zM150.84 100.9h.998V194.5h-.998zM151.84 109.2h.998V191h-.998zM152.84 110.7h.998V194.9h-.998zM153.84 99.8h.998V185.9h-.998zM154.84 106.9h.998V194.2h-.998zM155.83 109.5h.998V185.5h-.998zM156.83 107.4h.998V191.2h-.998zM157.83 107.7h.998V193.5h-.998zM158.83 109.1h.998V188.9h-.998zM159.83 109.1h.998V192.3h-.998zM160.83 102.5h.998V194.7h-.998zM161.83 100.4h.998V190.9h-.998zM162.82 101.4h.998V183.7h-.998zM163.82 109.4h.998V187.1h-.998zM164.82 108.8h.998V188.5h-.998zM165.82 110.5h.998V187.7h-.998zM166.82 102.6h.998V190.9h-.998zM167.82 105.9h.998V190.8h-.998zM168.81 104.6h.998V184.5h-.998zM169.81 100.8h.998V192.8h-.998zM170.81 104.6h.998V188.9h-.998zM171.81 110h.998V190.2h-.998zM172.81 110h.998V189.3h-.998zM173.81 102.7h.998V187.2h-.998zM174.8 105.4h.998V187.1h-.998zM175.8 109.9h.998V183.9h-.998zM176.8 100.4h.998V192.7h-.998z"/>
<text x="115.90" y="14.8" font-size="12" text-anchor="middle">(a)</text>
<text x="115.60" y="338.5" font-size="11.3" text-anchor="middle">Samples</text>
<text x="159.90" y="342.6" font-size="13" text-anchor="end" style="stroke:none;fill:#4d4d4d">×</text>
<text x="161.00" y="341.4" font-size="11.4" text-anchor="start">10<tspan dx="-0.7" dy="-5.0" font-size="9.2">4</tspan></text>
<text transform="translate(16.20,161.30) rotate(-90) scale(1.075,1)" font-size="10.9" text-anchor="middle">Angular velocity(rad/s)</text>
</g>
<g>
<line x1="276.03" y1="18.2" x2="276.03" y2="307.2" stroke="#eeeeee" stroke-width="1"/>
<line x1="317.77" y1="18.2" x2="317.77" y2="307.2" stroke="#eeeeee" stroke-width="1"/>
<line x1="234.3" y1="76.00" x2="359.5" y2="76.00" stroke="#eeeeee" stroke-width="1"/>
<line x1="234.3" y1="133.80" x2="359.5" y2="133.80" stroke="#eeeeee" stroke-width="1"/>
<line x1="234.3" y1="191.60" x2="359.5" y2="191.60" stroke="#eeeeee" stroke-width="1"/>
<line x1="234.3" y1="249.40" x2="359.5" y2="249.40" stroke="#eeeeee" stroke-width="1"/>
<rect x="234.3" y="18.2" width="125.20" height="289.00" fill="none" stroke="#8c8c8c" stroke-width="1"/>
<line x1="234.30" y1="307.2" x2="234.30" y2="303.7" stroke="#8c8c8c" stroke-width="1"/>
<line x1="234.30" y1="18.2" x2="234.30" y2="21.7" stroke="#8c8c8c" stroke-width="1"/>
<text x="233.60" y="323.3" font-size="10.8" text-anchor="middle">0</text>
<line x1="276.03" y1="307.2" x2="276.03" y2="303.7" stroke="#8c8c8c" stroke-width="1"/>
<line x1="276.03" y1="18.2" x2="276.03" y2="21.7" stroke="#8c8c8c" stroke-width="1"/>
<text x="275.33" y="323.3" font-size="10.8" text-anchor="middle">2</text>
<line x1="317.77" y1="307.2" x2="317.77" y2="303.7" stroke="#8c8c8c" stroke-width="1"/>
<line x1="317.77" y1="18.2" x2="317.77" y2="21.7" stroke="#8c8c8c" stroke-width="1"/>
<text x="317.07" y="323.3" font-size="10.8" text-anchor="middle">4</text>
<line x1="359.50" y1="307.2" x2="359.50" y2="303.7" stroke="#8c8c8c" stroke-width="1"/>
<line x1="359.50" y1="18.2" x2="359.50" y2="21.7" stroke="#8c8c8c" stroke-width="1"/>
<text x="358.80" y="323.3" font-size="10.8" text-anchor="middle">6</text>
<line x1="234.3" y1="18.20" x2="237.8" y2="18.20" stroke="#8c8c8c" stroke-width="1"/>
<line x1="359.5" y1="18.20" x2="356.0" y2="18.20" stroke="#8c8c8c" stroke-width="1"/>
<text x="229.30" y="22.80" font-size="11" text-anchor="end">0.15</text>
<line x1="234.3" y1="76.00" x2="237.8" y2="76.00" stroke="#8c8c8c" stroke-width="1"/>
<line x1="359.5" y1="76.00" x2="356.0" y2="76.00" stroke="#8c8c8c" stroke-width="1"/>
<text x="229.30" y="80.60" font-size="11" text-anchor="end">0.1</text>
<line x1="234.3" y1="133.80" x2="237.8" y2="133.80" stroke="#8c8c8c" stroke-width="1"/>
<line x1="359.5" y1="133.80" x2="356.0" y2="133.80" stroke="#8c8c8c" stroke-width="1"/>
<text x="229.30" y="138.40" font-size="11" text-anchor="end">0.05</text>
<line x1="234.3" y1="191.60" x2="237.8" y2="191.60" stroke="#8c8c8c" stroke-width="1"/>
<line x1="359.5" y1="191.60" x2="356.0" y2="191.60" stroke="#8c8c8c" stroke-width="1"/>
<text x="229.30" y="196.20" font-size="11" text-anchor="end">0</text>
<line x1="234.3" y1="249.40" x2="237.8" y2="249.40" stroke="#8c8c8c" stroke-width="1"/>
<line x1="359.5" y1="249.40" x2="356.0" y2="249.40" stroke="#8c8c8c" stroke-width="1"/>
<text x="229.30" y="254.00" font-size="11" text-anchor="end">-0.05</text>
<line x1="234.3" y1="307.20" x2="237.8" y2="307.20" stroke="#8c8c8c" stroke-width="1"/>
<line x1="359.5" y1="307.20" x2="356.0" y2="307.20" stroke="#8c8c8c" stroke-width="1"/>
<text x="229.30" y="311.80" font-size="11" text-anchor="end">-0.1</text>
<rect x="252.10" y="239.9" width="1.6" height="67.3" fill="#0072bd" opacity="0.42"/>
<path transform="translate(-0.30,0)" opacity="1" fill="#0072bd" d="M233.8 127h.25V248.4h-.25zM234.05 128.2h.25V248.4h-.25zM234.3 118.3h.25V240.2h-.25zM234.55 97.1h.25V259.6h-.25zM234.8 97.1h.25V259.6h-.25zM235.05 124.1h.25V254.2h-.25zM235.3 114.2h.25V254.2h-.25zM235.55 114.2h.25V243.5h-.25zM235.8 127.5h.25V256.3h-.25zM236.05 134.7h.25V256.3h-.25zM236.3 122.3h.25V253.8h-.25zM236.55 122.3h.25V250.9h-.25zM236.8 131.8h.25V244.1h-.25zM237.05 131.5h.25V244.4h-.25zM237.3 131.5h.25V253.7h-.25zM237.55 136.1h.25V253.7h-.25zM237.8 137.2h.25V260.6h-.25zM238.05 130.8h.25V260.6h-.25zM238.3 124.1h.25V253.7h-.25zM238.55 124.1h.25V253.7h-.25zM238.8 129.6h.25V245.7h-.25zM239.05 133.6h.25V245.7h-.25zM239.3 139.2h.25V238.3h-.25zM239.55 128.8h.25V242h-.25zM239.8 128.8h.25V253.2h-.25zM240.05 132.7h.25V253.2h-.25zM240.3 132.7h.25V238.5h-.25zM240.55 119.5h.25V236.4h-.25zM240.8 119.3h.25V236.4h-.25zM241.05 119.3h.25V240.4h-.25zM241.3 124.7h.25V247.3h-.25zM241.55 137.1h.25V250.5h-.25zM241.8 137.1h.25V250.5h-.25zM242.05 136.4h.25V235.8h-.25zM242.3 131.1h.25V239.5h-.25zM242.55 131.1h.25V239.5h-.25zM242.8 107.8h.25V242.8h-.25zM243.05 107.8h.25V242.8h-.25zM243.3 131.9h.25V261.7h-.25zM243.55 131.9h.25V261.7h-.25zM243.8 135.7h.25V249.7h-.25zM244.05 135.7h.25V240.5h-.25zM244.3 133.3h.25V251.2h-.25zM244.55 133.3h.25V251.2h-.25zM244.8 129.4h.25V235.7h-.25zM245.05 129.4h.25V254.1h-.25zM245.3 125.3h.25V254.1h-.25zM245.55 119h.25V275.7h-.25zM245.8 111.4h.25V275.7h-.25zM246.05 111.4h.25V252.6h-.25zM246.3 132.3h.25V252.6h-.25zM246.55 132.3h.25V242.2h-.25zM246.8 103.5h.25V261.8h-.25zM247.05 103.5h.25V261.8h-.25zM247.3 130.6h.25V250.9h-.25zM247.55 135.3h.25V249.1h-.25zM247.8 135.3h.25V245.7h-.25zM248.05 131.2h.25V254.3h-.25zM248.3 124.5h.25V254.3h-.25zM248.55 123.4h.25V242.1h-.25zM248.8 123.4h.25V260.1h-.25zM249.05 123.8h.25V267h-.25zM249.3 95.9h.25V267h-.25zM249.55 95.9h.25V243.8h-.25zM249.8 106.3h.25V254.1h-.25zM250.05 118.9h.25V254.1h-.25zM250.3 118.9h.25V257.5h-.25zM250.55 132.2h.25V257.5h-.25zM250.8 133.1h.25V237h-.25zM251.05 133.4h.25V237.8h-.25zM251.3 133.4h.25V237.8h-.25zM251.55 138.6h.25V236.5h-.25zM251.8 104.2h.25V243.2h-.25zM252.05 104.2h.25V243.2h-.25zM252.3 133.5h.25V256.5h-.25zM252.55 133.5h.25V256.5h-.25zM252.8 125.7h.25V238.1h-.25zM253.05 125.7h.25V250.9h-.25zM253.3 134.5h.25V277.7h-.25zM253.55 107.8h.25V277.7h-.25zM253.8 107.8h.25V233.3h-.25zM254.05 128.1h.25V256.5h-.25zM254.3 139.4h.25V256.5h-.25zM254.55 102.9h.25V252.2h-.25zM254.8 102.9h.25V252.2h-.25zM255.05 101h.25V251.2h-.25zM255.3 101h.25V238.9h-.25zM255.55 119.7h.25V238.9h-.25zM255.8 114.5h.25V248.3h-.25zM256.05 114.5h.25V248.3h-.25zM256.3 132.1h.25V238.8h-.25zM256.55 128.8h.25V246.3h-.25zM256.8 106.8h.25V246.3h-.25zM257.05 106.8h.25V249.4h-.25zM257.3 130.1h.25V249.4h-.25zM257.55 130.1h.25V252h-.25zM257.8 101h.25V252h-.25zM258.05 101h.25V243.6h-.25zM258.3 122.1h.25V239h-.25zM258.55 125.1h.25V240.2h-.25zM258.8 128.3h.25V252.7h-.25zM259.05 128.3h.25V252.7h-.25zM259.3 127.8h.25V259.6h-.25zM259.55 127.8h.25V259.6h-.25zM259.8 142.8h.25V231.7h-.25zM260.05 114.8h.25V231.8h-.25zM260.3 114.8h.25V241.7h-.25zM260.55 125h.25V241.7h-.25zM260.8 134.7h.25V257.1h-.25zM261.05 115.4h.25V263.8h-.25zM261.3 115.4h.25V263.8h-.25zM261.55 124h.25V238.7h-.25zM261.8 132.3h.25V238.7h-.25zM262.05 136.9h.25V247.5h-.25zM262.3 141.5h.25V247.5h-.25zM262.55 139.6h.25V242.6h-.25zM262.8 113.9h.25V240.1h-.25zM263.05 113.9h.25V240.1h-.25zM263.3 135.7h.25V245h-.25zM263.55 117.7h.25V245h-.25zM263.8 117.7h.25V234.7h-.25zM264.05 126.8h.25V234.2h-.25zM264.3 130.6h.25V244.9h-.25zM264.55 130.6h.25V244.9h-.25zM264.8 132.1h.25V247.4h-.25zM265.05 139.9h.25V247.4h-.25zM265.3 134.3h.25V240.4h-.25zM265.55 134.3h.25V239.3h-.25zM265.8 131.1h.25V264.9h-.25zM266.05 131.1h.25V264.9h-.25zM266.3 135.6h.25V245.9h-.25zM266.55 135.6h.25V242.7h-.25zM266.8 112.4h.25V242.7h-.25zM267.05 112.4h.25V241.6h-.25zM267.3 134.6h.25V247.1h-.25zM267.55 134.6h.25V251.8h-.25zM267.8 124.3h.25V251.8h-.25zM268.05 124.3h.25V239.8h-.25zM268.3 110.6h.25V252.6h-.25zM268.55 110.6h.25V252.6h-.25zM268.8 117.5h.25V246.5h-.25zM269.05 117.5h.25V249.8h-.25zM269.3 136.9h.25V249.8h-.25zM269.55 124.9h.25V241.6h-.25zM269.8 124.9h.25V241.6h-.25zM270.05 126.9h.25V238.9h-.25zM270.3 132.5h.25V253.2h-.25zM270.55 120.3h.25V253.2h-.25zM270.8 120.3h.25V234.7h-.25zM271.05 144.2h.25V260.6h-.25zM271.3 126.4h.25V260.6h-.25zM271.55 126.4h.25V241.8h-.25zM271.8 130h.25V247.4h-.25zM272.05 130h.25V247.4h-.25zM272.3 117.8h.25V249h-.25zM272.55 117.8h.25V249h-.25zM272.8 132.6h.25V244.1h-.25zM273.05 135.2h.25V257.2h-.25zM273.3 136h.25V257.2h-.25zM273.55 137.4h.25V253.8h-.25zM273.8 126.3h.25V253.8h-.25zM274.05 122.4h.25V241.3h-.25zM274.3 122.4h.25V245h-.25zM274.55 130.8h.25V245h-.25zM274.8 134.8h.25V241.4h-.25zM275.05 137.8h.25V250.7h-.25zM275.3 137.8h.25V262.1h-.25zM275.55 138.4h.25V262.1h-.25zM275.8 127.2h.25V252h-.25zM276.05 126.9h.25V252h-.25zM276.3 126.9h.25V249.7h-.25zM276.55 128.1h.25V238h-.25zM276.8 93.5h.25V251.6h-.25zM277.05 93.5h.25V251.6h-.25zM277.3 122.4h.25V258.5h-.25zM277.55 122.4h.25V258.5h-.25zM277.8 133.7h.25V251.6h-.25zM278.05 133.2h.25V249.4h-.25zM278.3 133.2h.25V240h-.25zM278.55 138.3h.25V257h-.25zM278.8 138.3h.25V257h-.25zM279.05 119.8h.25V244.4h-.25zM279.3 110.6h.25V241.4h-.25zM279.55 110.6h.25V241.7h-.25zM279.8 117.5h.25V241.7h-.25zM280.05 140.5h.25V228.4h-.25zM280.3 103.6h.25V250.9h-.25zM280.55 103.6h.25V250.9h-.25zM280.8 138.1h.25V249.2h-.25zM281.05 138.1h.25V257.2h-.25zM281.3 127.3h.25V257.2h-.25zM281.55 127.3h.25V254.1h-.25zM281.8 126.2h.25V241h-.25zM282.05 116.8h.25V247.9h-.25zM282.3 116.8h.25V270.3h-.25zM282.55 112.1h.25V270.3h-.25zM282.8 112.1h.25V247.8h-.25zM283.05 127.7h.25V263.4h-.25zM283.3 127.7h.25V263.4h-.25zM283.55 133h.25V257.8h-.25zM283.8 126.4h.25V256.6h-.25zM284.05 126.4h.25V256.6h-.25zM284.3 129.8h.25V244.4h-.25zM284.55 124.2h.25V244.4h-.25zM284.8 124.2h.25V242.2h-.25zM285.05 123.8h.25V250.1h-.25zM285.3 123.8h.25V250.9h-.25zM285.55 135.8h.25V250.9h-.25zM285.8 127.7h.25V250h-.25zM286.05 127.7h.25V250h-.25zM286.3 129.6h.25V249.3h-.25zM286.55 129.6h.25V247.7h-.25zM286.8 95.7h.25V241.8h-.25zM287.05 95.7h.25V260.3h-.25zM287.3 102.6h.25V260.3h-.25zM287.55 102.6h.25V244.3h-.25zM287.8 142.2h.25V231.9h-.25zM288.05 123.3h.25V247.1h-.25zM288.3 122.4h.25V253.5h-.25zM288.55 122.4h.25V253.5h-.25zM288.8 131.8h.25V254.9h-.25zM289.05 135.4h.25V254.9h-.25zM289.3 145.2h.25V249.1h-.25zM289.55 145.2h.25V233.8h-.25zM289.8 105.6h.25V243.6h-.25zM290.05 105.6h.25V243.6h-.25zM290.3 131.9h.25V241.3h-.25zM290.55 125.9h.25V238.1h-.25zM290.8 115.6h.25V238.3h-.25zM291.05 115.6h.25V238.3h-.25zM291.3 123.2h.25V240.5h-.25zM291.55 117.9h.25V254.9h-.25zM291.8 117.9h.25V254.9h-.25zM292.05 112.6h.25V238.8h-.25zM292.3 112.6h.25V253.2h-.25zM292.55 133.2h.25V253.2h-.25zM292.8 126.4h.25V251.6h-.25zM293.05 126.4h.25V245.2h-.25zM293.3 131.6h.25V245.2h-.25zM293.55 112h.25V261.7h-.25zM293.8 112h.25V261.7h-.25zM294.05 129.8h.25V239.9h-.25zM294.3 129.8h.25V254.8h-.25zM294.55 125.4h.25V254.8h-.25zM294.8 125.4h.25V248.4h-.25zM295.05 135.8h.25V247.6h-.25zM295.3 122.7h.25V258h-.25zM295.55 122.7h.25V258h-.25zM295.8 122.7h.25V249.9h-.25zM296.05 122.7h.25V250.3h-.25zM296.3 123.7h.25V250.3h-.25zM296.55 128.5h.25V244.5h-.25zM296.8 132.4h.25V244.5h-.25zM297.05 127.5h.25V251.1h-.25zM297.3 127.5h.25V251.1h-.25zM297.55 127.2h.25V259.4h-.25zM297.8 127.2h.25V259.4h-.25zM298.05 114.7h.25V240.5h-.25zM298.3 114.7h.25V240.5h-.25zM298.55 127.9h.25V241.4h-.25zM298.8 123.8h.25V262.8h-.25zM299.05 123.8h.25V262.8h-.25zM299.3 123.8h.25V245.6h-.25zM299.55 123.8h.25V242h-.25zM299.8 114.4h.25V245h-.25zM300.05 114.4h.25V253.5h-.25zM300.3 130.1h.25V253.8h-.25zM300.55 130.1h.25V253.8h-.25zM300.8 125.4h.25V244.4h-.25zM301.05 107h.25V243.6h-.25zM301.3 107h.25V255.6h-.25zM301.55 89.2h.25V255.6h-.25zM301.8 89.2h.25V254.9h-.25zM302.05 129.7h.25V254.9h-.25zM302.3 129.7h.25V249.2h-.25zM302.55 113.5h.25V242.6h-.25zM302.8 100.6h.25V254.9h-.25zM303.05 100.6h.25V288.4h-.25zM303.3 126.9h.25V288.4h-.25zM303.55 125.6h.25V241.8h-.25zM303.8 125.6h.25V258.3h-.25zM304.05 128.3h.25V258.3h-.25zM304.3 128.3h.25V238.5h-.25zM304.55 119.6h.25V237.3h-.25zM304.8 119.6h.25V237.3h-.25zM305.05 131.7h.25V237.2h-.25zM305.3 132h.25V246.8h-.25zM305.55 129.6h.25V246.8h-.25zM305.8 109.2h.25V241h-.25zM306.05 109.2h.25V258h-.25zM306.3 116.1h.25V258h-.25zM306.55 128.6h.25V245.8h-.25zM306.8 119.4h.25V239.1h-.25zM307.05 119.4h.25V245.6h-.25zM307.3 126.1h.25V245.6h-.25zM307.55 123.1h.25V238.5h-.25zM307.8 120.5h.25V253.4h-.25zM308.05 120.5h.25V253.4h-.25zM308.3 137.2h.25V279.9h-.25zM308.55 130.5h.25V279.9h-.25zM308.8 130.5h.25V256h-.25zM309.05 130.8h.25V255.8h-.25zM309.3 135.5h.25V255.8h-.25zM309.55 135.5h.25V248.5h-.25zM309.8 110.6h.25V246h-.25zM310.05 110.6h.25V246h-.25zM310.3 132.9h.25V237.5h-.25zM310.55 134.3h.25V239.5h-.25zM310.8 128.6h.25V285.2h-.25zM311.05 128.6h.25V285.2h-.25zM311.3 132.3h.25V243.6h-.25zM311.55 134.5h.25V239.6h-.25zM311.8 134.5h.25V260.3h-.25zM312.05 133h.25V260.3h-.25zM312.3 133h.25V243.2h-.25zM312.55 139.2h.25V243.2h-.25zM312.8 121.1h.25V244.5h-.25zM313.05 121.1h.25V244.5h-.25zM313.3 110.6h.25V241.7h-.25zM313.55 110.6h.25V241.7h-.25zM313.8 129.5h.25V234.3h-.25zM314.05 129.5h.25V233.2h-.25zM314.3 126.4h.25V236.6h-.25zM314.55 114.3h.25V269.7h-.25zM314.8 114.3h.25V288.4h-.25zM315.05 132.7h.25V288.4h-.25zM315.3 139h.25V252.7h-.25zM315.55 136.7h.25V247.7h-.25zM315.8 136.7h.25V254.9h-.25zM316.05 136.7h.25V254.9h-.25zM316.3 125.6h.25V244.1h-.25zM316.55 125.6h.25V251.4h-.25zM316.8 130.2h.25V251.4h-.25zM317.05 130.2h.25V242.2h-.25zM317.3 129h.25V237.6h-.25zM317.55 118.3h.25V237.6h-.25zM317.8 118.3h.25V256h-.25zM318.05 119.5h.25V256h-.25zM318.3 119.5h.25V246.5h-.25zM318.55 131.3h.25V246.5h-.25zM318.8 131.3h.25V245.9h-.25zM319.05 107.8h.25V243.5h-.25zM319.3 107.8h.25V243.3h-.25zM319.55 134.3h.25V247.8h-.25zM319.8 121h.25V247.8h-.25zM320.05 121h.25V244h-.25zM320.3 121.9h.25V244h-.25zM320.55 121.9h.25V241.2h-.25zM320.8 105.4h.25V263.4h-.25zM321.05 105.4h.25V263.4h-.25zM321.3 121.1h.25V239.4h-.25zM321.55 121.1h.25V253.7h-.25zM321.8 124h.25V253.7h-.25zM322.05 137.9h.25V242.6h-.25zM322.3 132.3h.25V233.6h-.25zM322.55 127.7h.25V244.8h-.25zM322.8 127.7h.25V261.7h-.25zM323.05 132.6h.25V261.7h-.25zM323.3 128.6h.25V237.3h-.25zM323.55 128.6h.25V238.9h-.25zM323.8 124.7h.25V244.6h-.25zM324.05 124.7h.25V244.6h-.25zM324.3 135.8h.25V251.7h-.25zM324.55 135.8h.25V251.7h-.25zM324.8 136.4h.25V235.8h-.25zM325.05 137.2h.25V242h-.25zM325.3 138.6h.25V245.8h-.25zM325.55 141.9h.25V245.8h-.25zM325.8 126.8h.25V245.2h-.25zM326.05 123h.25V245.2h-.25zM326.3 123h.25V248.7h-.25zM326.55 124.8h.25V248.7h-.25zM326.8 124.8h.25V253.6h-.25zM327.05 125.6h.25V253.6h-.25zM327.3 139.9h.25V243.8h-.25zM327.55 107.1h.25V264.9h-.25zM327.8 107.1h.25V264.9h-.25zM328.05 130.4h.25V256.5h-.25zM328.3 130.4h.25V250.4h-.25zM328.55 138.3h.25V250.4h-.25zM328.8 136h.25V255.4h-.25zM329.05 101.8h.25V255.4h-.25zM329.3 101.8h.25V239.3h-.25zM329.55 103.3h.25V251.8h-.25zM329.8 103.3h.25V251.8h-.25zM330.05 126.1h.25V248.5h-.25zM330.3 123.3h.25V248.5h-.25zM330.55 123.3h.25V243h-.25zM330.8 124.8h.25V242.9h-.25zM331.05 124.8h.25V242.9h-.25zM331.3 134.3h.25V232.6h-.25zM331.55 100.6h.25V250.7h-.25zM331.8 100.6h.25V254.9h-.25zM332.05 126.4h.25V254.9h-.25zM332.3 131h.25V267h-.25zM332.55 131h.25V267h-.25zM332.8 129h.25V248.8h-.25zM333.05 129h.25V240.7h-.25zM333.3 128.5h.25V248.7h-.25zM333.55 128.5h.25V248.7h-.25zM333.8 107.8h.25V241.3h-.25zM334.05 107.8h.25V241.3h-.25zM334.3 119.3h.25V244.5h-.25zM334.55 119.3h.25V244.5h-.25zM334.8 134.1h.25V253.7h-.25zM335.05 134.7h.25V253.7h-.25zM335.3 124.5h.25V234.6h-.25zM335.55 113.8h.25V275.7h-.25zM335.8 113.8h.25V275.7h-.25zM336.05 129.1h.25V236.9h-.25zM336.3 108h.25V234.3h-.25zM336.55 108h.25V235.8h-.25zM336.8 116.5h.25V250.7h-.25zM337.05 136.6h.25V250.7h-.25zM337.3 109.6h.25V245.6h-.25zM337.55 109.6h.25V245.6h-.25zM337.8 126.9h.25V236.4h-.25zM338.05 126.9h.25V240.1h-.25zM338.3 127.4h.25V240.1h-.25zM338.55 125.5h.25V230.5h-.25zM338.8 125.5h.25V243.8h-.25zM339.05 122.2h.25V243.8h-.25zM339.3 122.2h.25V243.1h-.25zM339.55 136.4h.25V243.6h-.25zM339.8 118.5h.25V243.6h-.25zM340.05 118.5h.25V250.2h-.25zM340.3 124.4h.25V250.2h-.25zM340.55 130.3h.25V249.3h-.25zM340.8 127h.25V247.4h-.25zM341.05 107.5h.25V247.4h-.25zM341.3 107.5h.25V250.5h-.25zM341.55 134.8h.25V253.1h-.25zM341.8 134.8h.25V253.1h-.25zM342.05 123.3h.25V252.4h-.25zM342.3 123.3h.25V252.4h-.25zM342.55 138.7h.25V246.4h-.25zM342.8 140.3h.25V244.9h-.25zM343.05 138.5h.25V244.4h-.25zM343.3 132h.25V244.4h-.25zM343.55 113h.25V260.6h-.25zM343.8 113h.25V260.6h-.25zM344.05 108.3h.25V248.5h-.25zM344.3 108.3h.25V248.5h-.25zM344.55 117.7h.25V241h-.25zM344.8 120.5h.25V248.2h-.25zM345.05 120.5h.25V248.2h-.25zM345.3 132.2h.25V242.9h-.25zM345.55 123.5h.25V242.9h-.25zM345.8 123.5h.25V263.8h-.25zM346.05 139.7h.25V263.8h-.25zM346.3 111.2h.25V252h-.25zM346.55 111.2h.25V252h-.25zM346.8 131.6h.25V263.2h-.25zM347.05 95.7h.25V263.2h-.25zM347.3 95.7h.25V239.2h-.25zM347.55 127.6h.25V239.2h-.25zM347.8 130.3h.25V247.1h-.25zM348.05 124.7h.25V247.1h-.25zM348.3 124.7h.25V241.1h-.25zM348.55 133.7h.25V254.5h-.25zM348.8 135.7h.25V254.5h-.25zM349.05 136.8h.25V241.2h-.25zM349.3 117.5h.25V244.1h-.25zM349.55 117.5h.25V246.2h-.25zM349.8 129.5h.25V249.9h-.25zM350.05 129.5h.25V259.4h-.25zM350.3 112.6h.25V259.4h-.25zM350.55 112.6h.25V251.5h-.25zM350.8 100.6h.25V259h-.25zM351.05 100.6h.25V259h-.25zM351.3 107.5h.25V233.3h-.25zM351.55 107.5h.25V276.7h-.25zM351.8 142.2h.25V276.7h-.25zM352.05 123.6h.25V251.2h-.25zM352.3 123.6h.25V251.2h-.25zM352.55 131.2h.25V247.7h-.25zM352.8 131.2h.25V247.7h-.25zM353.05 132.7h.25V237.1h-.25zM353.3 129.3h.25V271.6h-.25zM353.55 129.3h.25V271.6h-.25zM353.8 135.7h.25V265.3h-.25zM354.05 135.7h.25V266.8h-.25zM354.3 135.9h.25V266.8h-.25zM354.55 135.9h.25V232.4h-.25zM354.8 109.2h.25V240h-.25zM355.05 109.2h.25V247.5h-.25zM355.3 132.8h.25V250.8h-.25zM355.55 116.1h.25V254.7h-.25zM355.8 116.1h.25V254.7h-.25zM356.05 121.7h.25V253.4h-.25zM356.3 121.7h.25V253.4h-.25zM356.55 112.5h.25V250.5h-.25zM356.8 112.5h.25V237.7h-.25zM357.05 137.7h.25V239.5h-.25zM357.3 134.2h.25V239.5h-.25zM357.55 118.6h.25V274.5h-.25zM357.8 118.6h.25V274.5h-.25zM358.05 128.9h.25V246h-.25zM358.3 127.9h.25V251.5h-.25zM358.55 127.9h.25V251.5h-.25zM358.8 82.1h.25V242.3h-.25zM359.05 82.1h.25V242.3h-.25zM359.3 118.6h.25V242.6h-.25zM359.55 131.9h.25V242.6h-.25zM233.8 123.4h1V238.8h-1zM234.8 127.6h1V238.6h-1zM235.8 125.3h1V248.2h-1zM236.8 124.3h1V247.3h-1zM237.8 128h1V242.1h-1zM238.8 125h1V245.8h-1zM239.8 125.9h1V237.9h-1zM240.8 130.8h1V240.8h-1zM241.8 129.8h1V238.3h-1zM242.8 123.3h1V241.8h-1zM243.8 135.4h1V236.1h-1zM244.8 127.4h1V246.3h-1zM245.8 125.4h1V242.5h-1zM246.8 133.1h1V244.1h-1zM247.8 127.1h1V244.2h-1zM248.8 133.6h1V248h-1zM249.8 130.2h1V238.7h-1zM250.8 130.7h1V243.1h-1zM251.8 124.4h1V240h-1zM252.8 121.9h1V237.3h-1zM253.8 122.5h1V241.8h-1zM254.8 124.8h1V235h-1zM255.8 135.4h1V242.3h-1zM256.8 125.2h1V245.6h-1zM257.8 134.6h1V241.8h-1zM258.8 134.6h1V246.6h-1zM259.8 134.8h1V238.7h-1zM260.8 134.9h1V236.1h-1zM261.8 127.8h1V243.2h-1zM262.8 133.5h1V243.4h-1zM263.8 132h1V236.8h-1zM264.8 128.5h1V248.6h-1zM265.8 122.5h1V235.1h-1zM266.8 121.8h1V245h-1zM267.8 128.6h1V238.9h-1zM268.8 134h1V242.9h-1zM269.8 131.1h1V236.9h-1zM270.8 135.2h1V236h-1zM271.8 135.3h1V236h-1zM272.8 129.2h1V246.3h-1zM273.8 131.2h1V235.8h-1zM274.8 132.9h1V237.5h-1zM275.8 123.2h1V244.7h-1zM276.8 127.4h1V241.6h-1zM277.8 122.6h1V246.2h-1zM278.8 130.3h1V239.6h-1zM279.8 133.6h1V245.2h-1zM280.8 124.9h1V239.9h-1zM281.8 127.7h1V236.8h-1zM282.8 132.2h1V236.1h-1zM283.8 131h1V236.1h-1zM284.8 125.4h1V238.8h-1zM285.8 127.1h1V238h-1zM286.8 131.2h1V238.6h-1zM287.8 133.9h1V239.8h-1zM288.8 122h1V235.5h-1zM289.8 132.1h1V236.3h-1zM290.8 127.3h1V242.7h-1zM291.8 130.2h1V242.6h-1zM292.8 129.3h1V235.6h-1zM293.8 125h1V246.6h-1zM294.8 124.7h1V240.5h-1zM295.8 121.8h1V244.8h-1zM296.8 125.2h1V241.6h-1zM297.8 132.4h1V247.2h-1zM298.8 123.1h1V248.6h-1zM299.8 132h1V242.3h-1zM300.8 131.5h1V241.1h-1zM301.8 133.1h1V238h-1zM302.8 127.4h1V239.9h-1zM303.8 122h1V246.5h-1zM304.8 129.1h1V246.6h-1zM305.8 131.4h1V241.8h-1zM306.8 125h1V246.3h-1zM307.8 124.3h1V238.7h-1zM308.8 128.9h1V236.7h-1zM309.8 129.6h1V235.2h-1zM310.8 122.1h1V243h-1zM311.8 122.3h1V238.1h-1zM312.8 128.2h1V240.3h-1zM313.8 124.4h1V235.5h-1zM314.8 123h1V235.6h-1zM315.8 130h1V248.7h-1zM316.8 133.6h1V243.5h-1zM317.8 134.2h1V241.3h-1zM318.8 133.9h1V244.6h-1zM319.8 131.3h1V236.2h-1zM320.8 129h1V247.2h-1zM321.8 125h1V235.8h-1zM322.8 125.6h1V248.8h-1zM323.8 123.8h1V245.9h-1zM324.8 124.2h1V237.4h-1zM325.8 126h1V247.8h-1zM326.8 130.4h1V247.1h-1zM327.8 124.7h1V247.9h-1zM328.8 129.4h1V238.5h-1zM329.8 124.1h1V242.9h-1zM330.8 134.4h1V236.6h-1zM331.8 131.4h1V242h-1zM332.8 135.5h1V244.6h-1zM333.8 122.5h1V238.7h-1zM334.8 125.6h1V241h-1zM335.8 133.6h1V245.7h-1zM336.8 122.3h1V247.3h-1zM337.8 126.3h1V243.6h-1zM338.8 125.4h1V246.8h-1zM339.8 134.1h1V241.3h-1zM340.8 132h1V237.9h-1zM341.8 121.7h1V246.9h-1zM342.8 132.1h1V246.4h-1zM343.8 130.1h1V245.6h-1zM344.8 127.1h1V243.6h-1zM345.8 128.3h1V236.9h-1zM346.8 123.6h1V246.4h-1zM347.8 131.9h1V240.9h-1zM348.8 129h1V248.4h-1zM349.8 125.3h1V237.8h-1zM350.8 129.5h1V247.1h-1zM351.8 125.8h1V247.9h-1zM352.8 134.7h1V240.9h-1zM353.8 129.5h1V235.1h-1zM354.8 132h1V246.3h-1zM355.8 131.1h1V236.7h-1zM356.8 125.9h1V248.8h-1zM357.8 133.7h1V235.6h-1zM358.8 127.6h1V243h-1z"/>
<path transform="translate(0.00,0)" opacity="0.5" fill="#0072bd" d="M233.8 127h.25V248.4h-.25zM234.05 128.2h.25V248.4h-.25zM234.3 118.3h.25V240.2h-.25zM234.55 97.1h.25V259.6h-.25zM234.8 97.1h.25V259.6h-.25zM235.05 124.1h.25V254.2h-.25zM235.3 114.2h.25V254.2h-.25zM235.55 114.2h.25V243.5h-.25zM235.8 127.5h.25V256.3h-.25zM236.05 134.7h.25V256.3h-.25zM236.3 122.3h.25V253.8h-.25zM236.55 122.3h.25V250.9h-.25zM236.8 131.8h.25V244.1h-.25zM237.05 131.5h.25V244.4h-.25zM237.3 131.5h.25V253.7h-.25zM237.55 136.1h.25V253.7h-.25zM237.8 137.2h.25V260.6h-.25zM238.05 130.8h.25V260.6h-.25zM238.3 124.1h.25V253.7h-.25zM238.55 124.1h.25V253.7h-.25zM238.8 129.6h.25V245.7h-.25zM239.05 133.6h.25V245.7h-.25zM239.3 139.2h.25V238.3h-.25zM239.55 128.8h.25V242h-.25zM239.8 128.8h.25V253.2h-.25zM240.05 132.7h.25V253.2h-.25zM240.3 132.7h.25V238.5h-.25zM240.55 119.5h.25V236.4h-.25zM240.8 119.3h.25V236.4h-.25zM241.05 119.3h.25V240.4h-.25zM241.3 124.7h.25V247.3h-.25zM241.55 137.1h.25V250.5h-.25zM241.8 137.1h.25V250.5h-.25zM242.05 136.4h.25V235.8h-.25zM242.3 131.1h.25V239.5h-.25zM242.55 131.1h.25V239.5h-.25zM242.8 107.8h.25V242.8h-.25zM243.05 107.8h.25V242.8h-.25zM243.3 131.9h.25V261.7h-.25zM243.55 131.9h.25V261.7h-.25zM243.8 135.7h.25V249.7h-.25zM244.05 135.7h.25V240.5h-.25zM244.3 133.3h.25V251.2h-.25zM244.55 133.3h.25V251.2h-.25zM244.8 129.4h.25V235.7h-.25zM245.05 129.4h.25V254.1h-.25zM245.3 125.3h.25V254.1h-.25zM245.55 119h.25V275.7h-.25zM245.8 111.4h.25V275.7h-.25zM246.05 111.4h.25V252.6h-.25zM246.3 132.3h.25V252.6h-.25zM246.55 132.3h.25V242.2h-.25zM246.8 103.5h.25V261.8h-.25zM247.05 103.5h.25V261.8h-.25zM247.3 130.6h.25V250.9h-.25zM247.55 135.3h.25V249.1h-.25zM247.8 135.3h.25V245.7h-.25zM248.05 131.2h.25V254.3h-.25zM248.3 124.5h.25V254.3h-.25zM248.55 123.4h.25V242.1h-.25zM248.8 123.4h.25V260.1h-.25zM249.05 123.8h.25V267h-.25zM249.3 95.9h.25V267h-.25zM249.55 95.9h.25V243.8h-.25zM249.8 106.3h.25V254.1h-.25zM250.05 118.9h.25V254.1h-.25zM250.3 118.9h.25V257.5h-.25zM250.55 132.2h.25V257.5h-.25zM250.8 133.1h.25V237h-.25zM251.05 133.4h.25V237.8h-.25zM251.3 133.4h.25V237.8h-.25zM251.55 138.6h.25V236.5h-.25zM251.8 104.2h.25V243.2h-.25zM252.05 104.2h.25V243.2h-.25zM252.3 133.5h.25V256.5h-.25zM252.55 133.5h.25V256.5h-.25zM252.8 125.7h.25V238.1h-.25zM253.05 125.7h.25V250.9h-.25zM253.3 134.5h.25V277.7h-.25zM253.55 107.8h.25V277.7h-.25zM253.8 107.8h.25V233.3h-.25zM254.05 128.1h.25V256.5h-.25zM254.3 139.4h.25V256.5h-.25zM254.55 102.9h.25V252.2h-.25zM254.8 102.9h.25V252.2h-.25zM255.05 101h.25V251.2h-.25zM255.3 101h.25V238.9h-.25zM255.55 119.7h.25V238.9h-.25zM255.8 114.5h.25V248.3h-.25zM256.05 114.5h.25V248.3h-.25zM256.3 132.1h.25V238.8h-.25zM256.55 128.8h.25V246.3h-.25zM256.8 106.8h.25V246.3h-.25zM257.05 106.8h.25V249.4h-.25zM257.3 130.1h.25V249.4h-.25zM257.55 130.1h.25V252h-.25zM257.8 101h.25V252h-.25zM258.05 101h.25V243.6h-.25zM258.3 122.1h.25V239h-.25zM258.55 125.1h.25V240.2h-.25zM258.8 128.3h.25V252.7h-.25zM259.05 128.3h.25V252.7h-.25zM259.3 127.8h.25V259.6h-.25zM259.55 127.8h.25V259.6h-.25zM259.8 142.8h.25V231.7h-.25zM260.05 114.8h.25V231.8h-.25zM260.3 114.8h.25V241.7h-.25zM260.55 125h.25V241.7h-.25zM260.8 134.7h.25V257.1h-.25zM261.05 115.4h.25V263.8h-.25zM261.3 115.4h.25V263.8h-.25zM261.55 124h.25V238.7h-.25zM261.8 132.3h.25V238.7h-.25zM262.05 136.9h.25V247.5h-.25zM262.3 141.5h.25V247.5h-.25zM262.55 139.6h.25V242.6h-.25zM262.8 113.9h.25V240.1h-.25zM263.05 113.9h.25V240.1h-.25zM263.3 135.7h.25V245h-.25zM263.55 117.7h.25V245h-.25zM263.8 117.7h.25V234.7h-.25zM264.05 126.8h.25V234.2h-.25zM264.3 130.6h.25V244.9h-.25zM264.55 130.6h.25V244.9h-.25zM264.8 132.1h.25V247.4h-.25zM265.05 139.9h.25V247.4h-.25zM265.3 134.3h.25V240.4h-.25zM265.55 134.3h.25V239.3h-.25zM265.8 131.1h.25V264.9h-.25zM266.05 131.1h.25V264.9h-.25zM266.3 135.6h.25V245.9h-.25zM266.55 135.6h.25V242.7h-.25zM266.8 112.4h.25V242.7h-.25zM267.05 112.4h.25V241.6h-.25zM267.3 134.6h.25V247.1h-.25zM267.55 134.6h.25V251.8h-.25zM267.8 124.3h.25V251.8h-.25zM268.05 124.3h.25V239.8h-.25zM268.3 110.6h.25V252.6h-.25zM268.55 110.6h.25V252.6h-.25zM268.8 117.5h.25V246.5h-.25zM269.05 117.5h.25V249.8h-.25zM269.3 136.9h.25V249.8h-.25zM269.55 124.9h.25V241.6h-.25zM269.8 124.9h.25V241.6h-.25zM270.05 126.9h.25V238.9h-.25zM270.3 132.5h.25V253.2h-.25zM270.55 120.3h.25V253.2h-.25zM270.8 120.3h.25V234.7h-.25zM271.05 144.2h.25V260.6h-.25zM271.3 126.4h.25V260.6h-.25zM271.55 126.4h.25V241.8h-.25zM271.8 130h.25V247.4h-.25zM272.05 130h.25V247.4h-.25zM272.3 117.8h.25V249h-.25zM272.55 117.8h.25V249h-.25zM272.8 132.6h.25V244.1h-.25zM273.05 135.2h.25V257.2h-.25zM273.3 136h.25V257.2h-.25zM273.55 137.4h.25V253.8h-.25zM273.8 126.3h.25V253.8h-.25zM274.05 122.4h.25V241.3h-.25zM274.3 122.4h.25V245h-.25zM274.55 130.8h.25V245h-.25zM274.8 134.8h.25V241.4h-.25zM275.05 137.8h.25V250.7h-.25zM275.3 137.8h.25V262.1h-.25zM275.55 138.4h.25V262.1h-.25zM275.8 127.2h.25V252h-.25zM276.05 126.9h.25V252h-.25zM276.3 126.9h.25V249.7h-.25zM276.55 128.1h.25V238h-.25zM276.8 93.5h.25V251.6h-.25zM277.05 93.5h.25V251.6h-.25zM277.3 122.4h.25V258.5h-.25zM277.55 122.4h.25V258.5h-.25zM277.8 133.7h.25V251.6h-.25zM278.05 133.2h.25V249.4h-.25zM278.3 133.2h.25V240h-.25zM278.55 138.3h.25V257h-.25zM278.8 138.3h.25V257h-.25zM279.05 119.8h.25V244.4h-.25zM279.3 110.6h.25V241.4h-.25zM279.55 110.6h.25V241.7h-.25zM279.8 117.5h.25V241.7h-.25zM280.05 140.5h.25V228.4h-.25zM280.3 103.6h.25V250.9h-.25zM280.55 103.6h.25V250.9h-.25zM280.8 138.1h.25V249.2h-.25zM281.05 138.1h.25V257.2h-.25zM281.3 127.3h.25V257.2h-.25zM281.55 127.3h.25V254.1h-.25zM281.8 126.2h.25V241h-.25zM282.05 116.8h.25V247.9h-.25zM282.3 116.8h.25V270.3h-.25zM282.55 112.1h.25V270.3h-.25zM282.8 112.1h.25V247.8h-.25zM283.05 127.7h.25V263.4h-.25zM283.3 127.7h.25V263.4h-.25zM283.55 133h.25V257.8h-.25zM283.8 126.4h.25V256.6h-.25zM284.05 126.4h.25V256.6h-.25zM284.3 129.8h.25V244.4h-.25zM284.55 124.2h.25V244.4h-.25zM284.8 124.2h.25V242.2h-.25zM285.05 123.8h.25V250.1h-.25zM285.3 123.8h.25V250.9h-.25zM285.55 135.8h.25V250.9h-.25zM285.8 127.7h.25V250h-.25zM286.05 127.7h.25V250h-.25zM286.3 129.6h.25V249.3h-.25zM286.55 129.6h.25V247.7h-.25zM286.8 95.7h.25V241.8h-.25zM287.05 95.7h.25V260.3h-.25zM287.3 102.6h.25V260.3h-.25zM287.55 102.6h.25V244.3h-.25zM287.8 142.2h.25V231.9h-.25zM288.05 123.3h.25V247.1h-.25zM288.3 122.4h.25V253.5h-.25zM288.55 122.4h.25V253.5h-.25zM288.8 131.8h.25V254.9h-.25zM289.05 135.4h.25V254.9h-.25zM289.3 145.2h.25V249.1h-.25zM289.55 145.2h.25V233.8h-.25zM289.8 105.6h.25V243.6h-.25zM290.05 105.6h.25V243.6h-.25zM290.3 131.9h.25V241.3h-.25zM290.55 125.9h.25V238.1h-.25zM290.8 115.6h.25V238.3h-.25zM291.05 115.6h.25V238.3h-.25zM291.3 123.2h.25V240.5h-.25zM291.55 117.9h.25V254.9h-.25zM291.8 117.9h.25V254.9h-.25zM292.05 112.6h.25V238.8h-.25zM292.3 112.6h.25V253.2h-.25zM292.55 133.2h.25V253.2h-.25zM292.8 126.4h.25V251.6h-.25zM293.05 126.4h.25V245.2h-.25zM293.3 131.6h.25V245.2h-.25zM293.55 112h.25V261.7h-.25zM293.8 112h.25V261.7h-.25zM294.05 129.8h.25V239.9h-.25zM294.3 129.8h.25V254.8h-.25zM294.55 125.4h.25V254.8h-.25zM294.8 125.4h.25V248.4h-.25zM295.05 135.8h.25V247.6h-.25zM295.3 122.7h.25V258h-.25zM295.55 122.7h.25V258h-.25zM295.8 122.7h.25V249.9h-.25zM296.05 122.7h.25V250.3h-.25zM296.3 123.7h.25V250.3h-.25zM296.55 128.5h.25V244.5h-.25zM296.8 132.4h.25V244.5h-.25zM297.05 127.5h.25V251.1h-.25zM297.3 127.5h.25V251.1h-.25zM297.55 127.2h.25V259.4h-.25zM297.8 127.2h.25V259.4h-.25zM298.05 114.7h.25V240.5h-.25zM298.3 114.7h.25V240.5h-.25zM298.55 127.9h.25V241.4h-.25zM298.8 123.8h.25V262.8h-.25zM299.05 123.8h.25V262.8h-.25zM299.3 123.8h.25V245.6h-.25zM299.55 123.8h.25V242h-.25zM299.8 114.4h.25V245h-.25zM300.05 114.4h.25V253.5h-.25zM300.3 130.1h.25V253.8h-.25zM300.55 130.1h.25V253.8h-.25zM300.8 125.4h.25V244.4h-.25zM301.05 107h.25V243.6h-.25zM301.3 107h.25V255.6h-.25zM301.55 89.2h.25V255.6h-.25zM301.8 89.2h.25V254.9h-.25zM302.05 129.7h.25V254.9h-.25zM302.3 129.7h.25V249.2h-.25zM302.55 113.5h.25V242.6h-.25zM302.8 100.6h.25V254.9h-.25zM303.05 100.6h.25V288.4h-.25zM303.3 126.9h.25V288.4h-.25zM303.55 125.6h.25V241.8h-.25zM303.8 125.6h.25V258.3h-.25zM304.05 128.3h.25V258.3h-.25zM304.3 128.3h.25V238.5h-.25zM304.55 119.6h.25V237.3h-.25zM304.8 119.6h.25V237.3h-.25zM305.05 131.7h.25V237.2h-.25zM305.3 132h.25V246.8h-.25zM305.55 129.6h.25V246.8h-.25zM305.8 109.2h.25V241h-.25zM306.05 109.2h.25V258h-.25zM306.3 116.1h.25V258h-.25zM306.55 128.6h.25V245.8h-.25zM306.8 119.4h.25V239.1h-.25zM307.05 119.4h.25V245.6h-.25zM307.3 126.1h.25V245.6h-.25zM307.55 123.1h.25V238.5h-.25zM307.8 120.5h.25V253.4h-.25zM308.05 120.5h.25V253.4h-.25zM308.3 137.2h.25V279.9h-.25zM308.55 130.5h.25V279.9h-.25zM308.8 130.5h.25V256h-.25zM309.05 130.8h.25V255.8h-.25zM309.3 135.5h.25V255.8h-.25zM309.55 135.5h.25V248.5h-.25zM309.8 110.6h.25V246h-.25zM310.05 110.6h.25V246h-.25zM310.3 132.9h.25V237.5h-.25zM310.55 134.3h.25V239.5h-.25zM310.8 128.6h.25V285.2h-.25zM311.05 128.6h.25V285.2h-.25zM311.3 132.3h.25V243.6h-.25zM311.55 134.5h.25V239.6h-.25zM311.8 134.5h.25V260.3h-.25zM312.05 133h.25V260.3h-.25zM312.3 133h.25V243.2h-.25zM312.55 139.2h.25V243.2h-.25zM312.8 121.1h.25V244.5h-.25zM313.05 121.1h.25V244.5h-.25zM313.3 110.6h.25V241.7h-.25zM313.55 110.6h.25V241.7h-.25zM313.8 129.5h.25V234.3h-.25zM314.05 129.5h.25V233.2h-.25zM314.3 126.4h.25V236.6h-.25zM314.55 114.3h.25V269.7h-.25zM314.8 114.3h.25V288.4h-.25zM315.05 132.7h.25V288.4h-.25zM315.3 139h.25V252.7h-.25zM315.55 136.7h.25V247.7h-.25zM315.8 136.7h.25V254.9h-.25zM316.05 136.7h.25V254.9h-.25zM316.3 125.6h.25V244.1h-.25zM316.55 125.6h.25V251.4h-.25zM316.8 130.2h.25V251.4h-.25zM317.05 130.2h.25V242.2h-.25zM317.3 129h.25V237.6h-.25zM317.55 118.3h.25V237.6h-.25zM317.8 118.3h.25V256h-.25zM318.05 119.5h.25V256h-.25zM318.3 119.5h.25V246.5h-.25zM318.55 131.3h.25V246.5h-.25zM318.8 131.3h.25V245.9h-.25zM319.05 107.8h.25V243.5h-.25zM319.3 107.8h.25V243.3h-.25zM319.55 134.3h.25V247.8h-.25zM319.8 121h.25V247.8h-.25zM320.05 121h.25V244h-.25zM320.3 121.9h.25V244h-.25zM320.55 121.9h.25V241.2h-.25zM320.8 105.4h.25V263.4h-.25zM321.05 105.4h.25V263.4h-.25zM321.3 121.1h.25V239.4h-.25zM321.55 121.1h.25V253.7h-.25zM321.8 124h.25V253.7h-.25zM322.05 137.9h.25V242.6h-.25zM322.3 132.3h.25V233.6h-.25zM322.55 127.7h.25V244.8h-.25zM322.8 127.7h.25V261.7h-.25zM323.05 132.6h.25V261.7h-.25zM323.3 128.6h.25V237.3h-.25zM323.55 128.6h.25V238.9h-.25zM323.8 124.7h.25V244.6h-.25zM324.05 124.7h.25V244.6h-.25zM324.3 135.8h.25V251.7h-.25zM324.55 135.8h.25V251.7h-.25zM324.8 136.4h.25V235.8h-.25zM325.05 137.2h.25V242h-.25zM325.3 138.6h.25V245.8h-.25zM325.55 141.9h.25V245.8h-.25zM325.8 126.8h.25V245.2h-.25zM326.05 123h.25V245.2h-.25zM326.3 123h.25V248.7h-.25zM326.55 124.8h.25V248.7h-.25zM326.8 124.8h.25V253.6h-.25zM327.05 125.6h.25V253.6h-.25zM327.3 139.9h.25V243.8h-.25zM327.55 107.1h.25V264.9h-.25zM327.8 107.1h.25V264.9h-.25zM328.05 130.4h.25V256.5h-.25zM328.3 130.4h.25V250.4h-.25zM328.55 138.3h.25V250.4h-.25zM328.8 136h.25V255.4h-.25zM329.05 101.8h.25V255.4h-.25zM329.3 101.8h.25V239.3h-.25zM329.55 103.3h.25V251.8h-.25zM329.8 103.3h.25V251.8h-.25zM330.05 126.1h.25V248.5h-.25zM330.3 123.3h.25V248.5h-.25zM330.55 123.3h.25V243h-.25zM330.8 124.8h.25V242.9h-.25zM331.05 124.8h.25V242.9h-.25zM331.3 134.3h.25V232.6h-.25zM331.55 100.6h.25V250.7h-.25zM331.8 100.6h.25V254.9h-.25zM332.05 126.4h.25V254.9h-.25zM332.3 131h.25V267h-.25zM332.55 131h.25V267h-.25zM332.8 129h.25V248.8h-.25zM333.05 129h.25V240.7h-.25zM333.3 128.5h.25V248.7h-.25zM333.55 128.5h.25V248.7h-.25zM333.8 107.8h.25V241.3h-.25zM334.05 107.8h.25V241.3h-.25zM334.3 119.3h.25V244.5h-.25zM334.55 119.3h.25V244.5h-.25zM334.8 134.1h.25V253.7h-.25zM335.05 134.7h.25V253.7h-.25zM335.3 124.5h.25V234.6h-.25zM335.55 113.8h.25V275.7h-.25zM335.8 113.8h.25V275.7h-.25zM336.05 129.1h.25V236.9h-.25zM336.3 108h.25V234.3h-.25zM336.55 108h.25V235.8h-.25zM336.8 116.5h.25V250.7h-.25zM337.05 136.6h.25V250.7h-.25zM337.3 109.6h.25V245.6h-.25zM337.55 109.6h.25V245.6h-.25zM337.8 126.9h.25V236.4h-.25zM338.05 126.9h.25V240.1h-.25zM338.3 127.4h.25V240.1h-.25zM338.55 125.5h.25V230.5h-.25zM338.8 125.5h.25V243.8h-.25zM339.05 122.2h.25V243.8h-.25zM339.3 122.2h.25V243.1h-.25zM339.55 136.4h.25V243.6h-.25zM339.8 118.5h.25V243.6h-.25zM340.05 118.5h.25V250.2h-.25zM340.3 124.4h.25V250.2h-.25zM340.55 130.3h.25V249.3h-.25zM340.8 127h.25V247.4h-.25zM341.05 107.5h.25V247.4h-.25zM341.3 107.5h.25V250.5h-.25zM341.55 134.8h.25V253.1h-.25zM341.8 134.8h.25V253.1h-.25zM342.05 123.3h.25V252.4h-.25zM342.3 123.3h.25V252.4h-.25zM342.55 138.7h.25V246.4h-.25zM342.8 140.3h.25V244.9h-.25zM343.05 138.5h.25V244.4h-.25zM343.3 132h.25V244.4h-.25zM343.55 113h.25V260.6h-.25zM343.8 113h.25V260.6h-.25zM344.05 108.3h.25V248.5h-.25zM344.3 108.3h.25V248.5h-.25zM344.55 117.7h.25V241h-.25zM344.8 120.5h.25V248.2h-.25zM345.05 120.5h.25V248.2h-.25zM345.3 132.2h.25V242.9h-.25zM345.55 123.5h.25V242.9h-.25zM345.8 123.5h.25V263.8h-.25zM346.05 139.7h.25V263.8h-.25zM346.3 111.2h.25V252h-.25zM346.55 111.2h.25V252h-.25zM346.8 131.6h.25V263.2h-.25zM347.05 95.7h.25V263.2h-.25zM347.3 95.7h.25V239.2h-.25zM347.55 127.6h.25V239.2h-.25zM347.8 130.3h.25V247.1h-.25zM348.05 124.7h.25V247.1h-.25zM348.3 124.7h.25V241.1h-.25zM348.55 133.7h.25V254.5h-.25zM348.8 135.7h.25V254.5h-.25zM349.05 136.8h.25V241.2h-.25zM349.3 117.5h.25V244.1h-.25zM349.55 117.5h.25V246.2h-.25zM349.8 129.5h.25V249.9h-.25zM350.05 129.5h.25V259.4h-.25zM350.3 112.6h.25V259.4h-.25zM350.55 112.6h.25V251.5h-.25zM350.8 100.6h.25V259h-.25zM351.05 100.6h.25V259h-.25zM351.3 107.5h.25V233.3h-.25zM351.55 107.5h.25V276.7h-.25zM351.8 142.2h.25V276.7h-.25zM352.05 123.6h.25V251.2h-.25zM352.3 123.6h.25V251.2h-.25zM352.55 131.2h.25V247.7h-.25zM352.8 131.2h.25V247.7h-.25zM353.05 132.7h.25V237.1h-.25zM353.3 129.3h.25V271.6h-.25zM353.55 129.3h.25V271.6h-.25zM353.8 135.7h.25V265.3h-.25zM354.05 135.7h.25V266.8h-.25zM354.3 135.9h.25V266.8h-.25zM354.55 135.9h.25V232.4h-.25zM354.8 109.2h.25V240h-.25zM355.05 109.2h.25V247.5h-.25zM355.3 132.8h.25V250.8h-.25zM355.55 116.1h.25V254.7h-.25zM355.8 116.1h.25V254.7h-.25zM356.05 121.7h.25V253.4h-.25zM356.3 121.7h.25V253.4h-.25zM356.55 112.5h.25V250.5h-.25zM356.8 112.5h.25V237.7h-.25zM357.05 137.7h.25V239.5h-.25zM357.3 134.2h.25V239.5h-.25zM357.55 118.6h.25V274.5h-.25zM357.8 118.6h.25V274.5h-.25zM358.05 128.9h.25V246h-.25zM358.3 127.9h.25V251.5h-.25zM358.55 127.9h.25V251.5h-.25zM358.8 82.1h.25V242.3h-.25zM359.05 82.1h.25V242.3h-.25zM359.3 118.6h.25V242.6h-.25zM359.55 131.9h.25V242.6h-.25zM233.8 123.4h1V238.8h-1zM234.8 127.6h1V238.6h-1zM235.8 125.3h1V248.2h-1zM236.8 124.3h1V247.3h-1zM237.8 128h1V242.1h-1zM238.8 125h1V245.8h-1zM239.8 125.9h1V237.9h-1zM240.8 130.8h1V240.8h-1zM241.8 129.8h1V238.3h-1zM242.8 123.3h1V241.8h-1zM243.8 135.4h1V236.1h-1zM244.8 127.4h1V246.3h-1zM245.8 125.4h1V242.5h-1zM246.8 133.1h1V244.1h-1zM247.8 127.1h1V244.2h-1zM248.8 133.6h1V248h-1zM249.8 130.2h1V238.7h-1zM250.8 130.7h1V243.1h-1zM251.8 124.4h1V240h-1zM252.8 121.9h1V237.3h-1zM253.8 122.5h1V241.8h-1zM254.8 124.8h1V235h-1zM255.8 135.4h1V242.3h-1zM256.8 125.2h1V245.6h-1zM257.8 134.6h1V241.8h-1zM258.8 134.6h1V246.6h-1zM259.8 134.8h1V238.7h-1zM260.8 134.9h1V236.1h-1zM261.8 127.8h1V243.2h-1zM262.8 133.5h1V243.4h-1zM263.8 132h1V236.8h-1zM264.8 128.5h1V248.6h-1zM265.8 122.5h1V235.1h-1zM266.8 121.8h1V245h-1zM267.8 128.6h1V238.9h-1zM268.8 134h1V242.9h-1zM269.8 131.1h1V236.9h-1zM270.8 135.2h1V236h-1zM271.8 135.3h1V236h-1zM272.8 129.2h1V246.3h-1zM273.8 131.2h1V235.8h-1zM274.8 132.9h1V237.5h-1zM275.8 123.2h1V244.7h-1zM276.8 127.4h1V241.6h-1zM277.8 122.6h1V246.2h-1zM278.8 130.3h1V239.6h-1zM279.8 133.6h1V245.2h-1zM280.8 124.9h1V239.9h-1zM281.8 127.7h1V236.8h-1zM282.8 132.2h1V236.1h-1zM283.8 131h1V236.1h-1zM284.8 125.4h1V238.8h-1zM285.8 127.1h1V238h-1zM286.8 131.2h1V238.6h-1zM287.8 133.9h1V239.8h-1zM288.8 122h1V235.5h-1zM289.8 132.1h1V236.3h-1zM290.8 127.3h1V242.7h-1zM291.8 130.2h1V242.6h-1zM292.8 129.3h1V235.6h-1zM293.8 125h1V246.6h-1zM294.8 124.7h1V240.5h-1zM295.8 121.8h1V244.8h-1zM296.8 125.2h1V241.6h-1zM297.8 132.4h1V247.2h-1zM298.8 123.1h1V248.6h-1zM299.8 132h1V242.3h-1zM300.8 131.5h1V241.1h-1zM301.8 133.1h1V238h-1zM302.8 127.4h1V239.9h-1zM303.8 122h1V246.5h-1zM304.8 129.1h1V246.6h-1zM305.8 131.4h1V241.8h-1zM306.8 125h1V246.3h-1zM307.8 124.3h1V238.7h-1zM308.8 128.9h1V236.7h-1zM309.8 129.6h1V235.2h-1zM310.8 122.1h1V243h-1zM311.8 122.3h1V238.1h-1zM312.8 128.2h1V240.3h-1zM313.8 124.4h1V235.5h-1zM314.8 123h1V235.6h-1zM315.8 130h1V248.7h-1zM316.8 133.6h1V243.5h-1zM317.8 134.2h1V241.3h-1zM318.8 133.9h1V244.6h-1zM319.8 131.3h1V236.2h-1zM320.8 129h1V247.2h-1zM321.8 125h1V235.8h-1zM322.8 125.6h1V248.8h-1zM323.8 123.8h1V245.9h-1zM324.8 124.2h1V237.4h-1zM325.8 126h1V247.8h-1zM326.8 130.4h1V247.1h-1zM327.8 124.7h1V247.9h-1zM328.8 129.4h1V238.5h-1zM329.8 124.1h1V242.9h-1zM330.8 134.4h1V236.6h-1zM331.8 131.4h1V242h-1zM332.8 135.5h1V244.6h-1zM333.8 122.5h1V238.7h-1zM334.8 125.6h1V241h-1zM335.8 133.6h1V245.7h-1zM336.8 122.3h1V247.3h-1zM337.8 126.3h1V243.6h-1zM338.8 125.4h1V246.8h-1zM339.8 134.1h1V241.3h-1zM340.8 132h1V237.9h-1zM341.8 121.7h1V246.9h-1zM342.8 132.1h1V246.4h-1zM343.8 130.1h1V245.6h-1zM344.8 127.1h1V243.6h-1zM345.8 128.3h1V236.9h-1zM346.8 123.6h1V246.4h-1zM347.8 131.9h1V240.9h-1zM348.8 129h1V248.4h-1zM349.8 125.3h1V237.8h-1zM350.8 129.5h1V247.1h-1zM351.8 125.8h1V247.9h-1zM352.8 134.7h1V240.9h-1zM353.8 129.5h1V235.1h-1zM354.8 132h1V246.3h-1zM355.8 131.1h1V236.7h-1zM356.8 125.9h1V248.8h-1zM357.8 133.7h1V235.6h-1zM358.8 127.6h1V243h-1z"/>
<path transform="translate(0.30,0)" opacity="0.3333" fill="#0072bd" d="M233.8 127h.25V248.4h-.25zM234.05 128.2h.25V248.4h-.25zM234.3 118.3h.25V240.2h-.25zM234.55 97.1h.25V259.6h-.25zM234.8 97.1h.25V259.6h-.25zM235.05 124.1h.25V254.2h-.25zM235.3 114.2h.25V254.2h-.25zM235.55 114.2h.25V243.5h-.25zM235.8 127.5h.25V256.3h-.25zM236.05 134.7h.25V256.3h-.25zM236.3 122.3h.25V253.8h-.25zM236.55 122.3h.25V250.9h-.25zM236.8 131.8h.25V244.1h-.25zM237.05 131.5h.25V244.4h-.25zM237.3 131.5h.25V253.7h-.25zM237.55 136.1h.25V253.7h-.25zM237.8 137.2h.25V260.6h-.25zM238.05 130.8h.25V260.6h-.25zM238.3 124.1h.25V253.7h-.25zM238.55 124.1h.25V253.7h-.25zM238.8 129.6h.25V245.7h-.25zM239.05 133.6h.25V245.7h-.25zM239.3 139.2h.25V238.3h-.25zM239.55 128.8h.25V242h-.25zM239.8 128.8h.25V253.2h-.25zM240.05 132.7h.25V253.2h-.25zM240.3 132.7h.25V238.5h-.25zM240.55 119.5h.25V236.4h-.25zM240.8 119.3h.25V236.4h-.25zM241.05 119.3h.25V240.4h-.25zM241.3 124.7h.25V247.3h-.25zM241.55 137.1h.25V250.5h-.25zM241.8 137.1h.25V250.5h-.25zM242.05 136.4h.25V235.8h-.25zM242.3 131.1h.25V239.5h-.25zM242.55 131.1h.25V239.5h-.25zM242.8 107.8h.25V242.8h-.25zM243.05 107.8h.25V242.8h-.25zM243.3 131.9h.25V261.7h-.25zM243.55 131.9h.25V261.7h-.25zM243.8 135.7h.25V249.7h-.25zM244.05 135.7h.25V240.5h-.25zM244.3 133.3h.25V251.2h-.25zM244.55 133.3h.25V251.2h-.25zM244.8 129.4h.25V235.7h-.25zM245.05 129.4h.25V254.1h-.25zM245.3 125.3h.25V254.1h-.25zM245.55 119h.25V275.7h-.25zM245.8 111.4h.25V275.7h-.25zM246.05 111.4h.25V252.6h-.25zM246.3 132.3h.25V252.6h-.25zM246.55 132.3h.25V242.2h-.25zM246.8 103.5h.25V261.8h-.25zM247.05 103.5h.25V261.8h-.25zM247.3 130.6h.25V250.9h-.25zM247.55 135.3h.25V249.1h-.25zM247.8 135.3h.25V245.7h-.25zM248.05 131.2h.25V254.3h-.25zM248.3 124.5h.25V254.3h-.25zM248.55 123.4h.25V242.1h-.25zM248.8 123.4h.25V260.1h-.25zM249.05 123.8h.25V267h-.25zM249.3 95.9h.25V267h-.25zM249.55 95.9h.25V243.8h-.25zM249.8 106.3h.25V254.1h-.25zM250.05 118.9h.25V254.1h-.25zM250.3 118.9h.25V257.5h-.25zM250.55 132.2h.25V257.5h-.25zM250.8 133.1h.25V237h-.25zM251.05 133.4h.25V237.8h-.25zM251.3 133.4h.25V237.8h-.25zM251.55 138.6h.25V236.5h-.25zM251.8 104.2h.25V243.2h-.25zM252.05 104.2h.25V243.2h-.25zM252.3 133.5h.25V256.5h-.25zM252.55 133.5h.25V256.5h-.25zM252.8 125.7h.25V238.1h-.25zM253.05 125.7h.25V250.9h-.25zM253.3 134.5h.25V277.7h-.25zM253.55 107.8h.25V277.7h-.25zM253.8 107.8h.25V233.3h-.25zM254.05 128.1h.25V256.5h-.25zM254.3 139.4h.25V256.5h-.25zM254.55 102.9h.25V252.2h-.25zM254.8 102.9h.25V252.2h-.25zM255.05 101h.25V251.2h-.25zM255.3 101h.25V238.9h-.25zM255.55 119.7h.25V238.9h-.25zM255.8 114.5h.25V248.3h-.25zM256.05 114.5h.25V248.3h-.25zM256.3 132.1h.25V238.8h-.25zM256.55 128.8h.25V246.3h-.25zM256.8 106.8h.25V246.3h-.25zM257.05 106.8h.25V249.4h-.25zM257.3 130.1h.25V249.4h-.25zM257.55 130.1h.25V252h-.25zM257.8 101h.25V252h-.25zM258.05 101h.25V243.6h-.25zM258.3 122.1h.25V239h-.25zM258.55 125.1h.25V240.2h-.25zM258.8 128.3h.25V252.7h-.25zM259.05 128.3h.25V252.7h-.25zM259.3 127.8h.25V259.6h-.25zM259.55 127.8h.25V259.6h-.25zM259.8 142.8h.25V231.7h-.25zM260.05 114.8h.25V231.8h-.25zM260.3 114.8h.25V241.7h-.25zM260.55 125h.25V241.7h-.25zM260.8 134.7h.25V257.1h-.25zM261.05 115.4h.25V263.8h-.25zM261.3 115.4h.25V263.8h-.25zM261.55 124h.25V238.7h-.25zM261.8 132.3h.25V238.7h-.25zM262.05 136.9h.25V247.5h-.25zM262.3 141.5h.25V247.5h-.25zM262.55 139.6h.25V242.6h-.25zM262.8 113.9h.25V240.1h-.25zM263.05 113.9h.25V240.1h-.25zM263.3 135.7h.25V245h-.25zM263.55 117.7h.25V245h-.25zM263.8 117.7h.25V234.7h-.25zM264.05 126.8h.25V234.2h-.25zM264.3 130.6h.25V244.9h-.25zM264.55 130.6h.25V244.9h-.25zM264.8 132.1h.25V247.4h-.25zM265.05 139.9h.25V247.4h-.25zM265.3 134.3h.25V240.4h-.25zM265.55 134.3h.25V239.3h-.25zM265.8 131.1h.25V264.9h-.25zM266.05 131.1h.25V264.9h-.25zM266.3 135.6h.25V245.9h-.25zM266.55 135.6h.25V242.7h-.25zM266.8 112.4h.25V242.7h-.25zM267.05 112.4h.25V241.6h-.25zM267.3 134.6h.25V247.1h-.25zM267.55 134.6h.25V251.8h-.25zM267.8 124.3h.25V251.8h-.25zM268.05 124.3h.25V239.8h-.25zM268.3 110.6h.25V252.6h-.25zM268.55 110.6h.25V252.6h-.25zM268.8 117.5h.25V246.5h-.25zM269.05 117.5h.25V249.8h-.25zM269.3 136.9h.25V249.8h-.25zM269.55 124.9h.25V241.6h-.25zM269.8 124.9h.25V241.6h-.25zM270.05 126.9h.25V238.9h-.25zM270.3 132.5h.25V253.2h-.25zM270.55 120.3h.25V253.2h-.25zM270.8 120.3h.25V234.7h-.25zM271.05 144.2h.25V260.6h-.25zM271.3 126.4h.25V260.6h-.25zM271.55 126.4h.25V241.8h-.25zM271.8 130h.25V247.4h-.25zM272.05 130h.25V247.4h-.25zM272.3 117.8h.25V249h-.25zM272.55 117.8h.25V249h-.25zM272.8 132.6h.25V244.1h-.25zM273.05 135.2h.25V257.2h-.25zM273.3 136h.25V257.2h-.25zM273.55 137.4h.25V253.8h-.25zM273.8 126.3h.25V253.8h-.25zM274.05 122.4h.25V241.3h-.25zM274.3 122.4h.25V245h-.25zM274.55 130.8h.25V245h-.25zM274.8 134.8h.25V241.4h-.25zM275.05 137.8h.25V250.7h-.25zM275.3 137.8h.25V262.1h-.25zM275.55 138.4h.25V262.1h-.25zM275.8 127.2h.25V252h-.25zM276.05 126.9h.25V252h-.25zM276.3 126.9h.25V249.7h-.25zM276.55 128.1h.25V238h-.25zM276.8 93.5h.25V251.6h-.25zM277.05 93.5h.25V251.6h-.25zM277.3 122.4h.25V258.5h-.25zM277.55 122.4h.25V258.5h-.25zM277.8 133.7h.25V251.6h-.25zM278.05 133.2h.25V249.4h-.25zM278.3 133.2h.25V240h-.25zM278.55 138.3h.25V257h-.25zM278.8 138.3h.25V257h-.25zM279.05 119.8h.25V244.4h-.25zM279.3 110.6h.25V241.4h-.25zM279.55 110.6h.25V241.7h-.25zM279.8 117.5h.25V241.7h-.25zM280.05 140.5h.25V228.4h-.25zM280.3 103.6h.25V250.9h-.25zM280.55 103.6h.25V250.9h-.25zM280.8 138.1h.25V249.2h-.25zM281.05 138.1h.25V257.2h-.25zM281.3 127.3h.25V257.2h-.25zM281.55 127.3h.25V254.1h-.25zM281.8 126.2h.25V241h-.25zM282.05 116.8h.25V247.9h-.25zM282.3 116.8h.25V270.3h-.25zM282.55 112.1h.25V270.3h-.25zM282.8 112.1h.25V247.8h-.25zM283.05 127.7h.25V263.4h-.25zM283.3 127.7h.25V263.4h-.25zM283.55 133h.25V257.8h-.25zM283.8 126.4h.25V256.6h-.25zM284.05 126.4h.25V256.6h-.25zM284.3 129.8h.25V244.4h-.25zM284.55 124.2h.25V244.4h-.25zM284.8 124.2h.25V242.2h-.25zM285.05 123.8h.25V250.1h-.25zM285.3 123.8h.25V250.9h-.25zM285.55 135.8h.25V250.9h-.25zM285.8 127.7h.25V250h-.25zM286.05 127.7h.25V250h-.25zM286.3 129.6h.25V249.3h-.25zM286.55 129.6h.25V247.7h-.25zM286.8 95.7h.25V241.8h-.25zM287.05 95.7h.25V260.3h-.25zM287.3 102.6h.25V260.3h-.25zM287.55 102.6h.25V244.3h-.25zM287.8 142.2h.25V231.9h-.25zM288.05 123.3h.25V247.1h-.25zM288.3 122.4h.25V253.5h-.25zM288.55 122.4h.25V253.5h-.25zM288.8 131.8h.25V254.9h-.25zM289.05 135.4h.25V254.9h-.25zM289.3 145.2h.25V249.1h-.25zM289.55 145.2h.25V233.8h-.25zM289.8 105.6h.25V243.6h-.25zM290.05 105.6h.25V243.6h-.25zM290.3 131.9h.25V241.3h-.25zM290.55 125.9h.25V238.1h-.25zM290.8 115.6h.25V238.3h-.25zM291.05 115.6h.25V238.3h-.25zM291.3 123.2h.25V240.5h-.25zM291.55 117.9h.25V254.9h-.25zM291.8 117.9h.25V254.9h-.25zM292.05 112.6h.25V238.8h-.25zM292.3 112.6h.25V253.2h-.25zM292.55 133.2h.25V253.2h-.25zM292.8 126.4h.25V251.6h-.25zM293.05 126.4h.25V245.2h-.25zM293.3 131.6h.25V245.2h-.25zM293.55 112h.25V261.7h-.25zM293.8 112h.25V261.7h-.25zM294.05 129.8h.25V239.9h-.25zM294.3 129.8h.25V254.8h-.25zM294.55 125.4h.25V254.8h-.25zM294.8 125.4h.25V248.4h-.25zM295.05 135.8h.25V247.6h-.25zM295.3 122.7h.25V258h-.25zM295.55 122.7h.25V258h-.25zM295.8 122.7h.25V249.9h-.25zM296.05 122.7h.25V250.3h-.25zM296.3 123.7h.25V250.3h-.25zM296.55 128.5h.25V244.5h-.25zM296.8 132.4h.25V244.5h-.25zM297.05 127.5h.25V251.1h-.25zM297.3 127.5h.25V251.1h-.25zM297.55 127.2h.25V259.4h-.25zM297.8 127.2h.25V259.4h-.25zM298.05 114.7h.25V240.5h-.25zM298.3 114.7h.25V240.5h-.25zM298.55 127.9h.25V241.4h-.25zM298.8 123.8h.25V262.8h-.25zM299.05 123.8h.25V262.8h-.25zM299.3 123.8h.25V245.6h-.25zM299.55 123.8h.25V242h-.25zM299.8 114.4h.25V245h-.25zM300.05 114.4h.25V253.5h-.25zM300.3 130.1h.25V253.8h-.25zM300.55 130.1h.25V253.8h-.25zM300.8 125.4h.25V244.4h-.25zM301.05 107h.25V243.6h-.25zM301.3 107h.25V255.6h-.25zM301.55 89.2h.25V255.6h-.25zM301.8 89.2h.25V254.9h-.25zM302.05 129.7h.25V254.9h-.25zM302.3 129.7h.25V249.2h-.25zM302.55 113.5h.25V242.6h-.25zM302.8 100.6h.25V254.9h-.25zM303.05 100.6h.25V288.4h-.25zM303.3 126.9h.25V288.4h-.25zM303.55 125.6h.25V241.8h-.25zM303.8 125.6h.25V258.3h-.25zM304.05 128.3h.25V258.3h-.25zM304.3 128.3h.25V238.5h-.25zM304.55 119.6h.25V237.3h-.25zM304.8 119.6h.25V237.3h-.25zM305.05 131.7h.25V237.2h-.25zM305.3 132h.25V246.8h-.25zM305.55 129.6h.25V246.8h-.25zM305.8 109.2h.25V241h-.25zM306.05 109.2h.25V258h-.25zM306.3 116.1h.25V258h-.25zM306.55 128.6h.25V245.8h-.25zM306.8 119.4h.25V239.1h-.25zM307.05 119.4h.25V245.6h-.25zM307.3 126.1h.25V245.6h-.25zM307.55 123.1h.25V238.5h-.25zM307.8 120.5h.25V253.4h-.25zM308.05 120.5h.25V253.4h-.25zM308.3 137.2h.25V279.9h-.25zM308.55 130.5h.25V279.9h-.25zM308.8 130.5h.25V256h-.25zM309.05 130.8h.25V255.8h-.25zM309.3 135.5h.25V255.8h-.25zM309.55 135.5h.25V248.5h-.25zM309.8 110.6h.25V246h-.25zM310.05 110.6h.25V246h-.25zM310.3 132.9h.25V237.5h-.25zM310.55 134.3h.25V239.5h-.25zM310.8 128.6h.25V285.2h-.25zM311.05 128.6h.25V285.2h-.25zM311.3 132.3h.25V243.6h-.25zM311.55 134.5h.25V239.6h-.25zM311.8 134.5h.25V260.3h-.25zM312.05 133h.25V260.3h-.25zM312.3 133h.25V243.2h-.25zM312.55 139.2h.25V243.2h-.25zM312.8 121.1h.25V244.5h-.25zM313.05 121.1h.25V244.5h-.25zM313.3 110.6h.25V241.7h-.25zM313.55 110.6h.25V241.7h-.25zM313.8 129.5h.25V234.3h-.25zM314.05 129.5h.25V233.2h-.25zM314.3 126.4h.25V236.6h-.25zM314.55 114.3h.25V269.7h-.25zM314.8 114.3h.25V288.4h-.25zM315.05 132.7h.25V288.4h-.25zM315.3 139h.25V252.7h-.25zM315.55 136.7h.25V247.7h-.25zM315.8 136.7h.25V254.9h-.25zM316.05 136.7h.25V254.9h-.25zM316.3 125.6h.25V244.1h-.25zM316.55 125.6h.25V251.4h-.25zM316.8 130.2h.25V251.4h-.25zM317.05 130.2h.25V242.2h-.25zM317.3 129h.25V237.6h-.25zM317.55 118.3h.25V237.6h-.25zM317.8 118.3h.25V256h-.25zM318.05 119.5h.25V256h-.25zM318.3 119.5h.25V246.5h-.25zM318.55 131.3h.25V246.5h-.25zM318.8 131.3h.25V245.9h-.25zM319.05 107.8h.25V243.5h-.25zM319.3 107.8h.25V243.3h-.25zM319.55 134.3h.25V247.8h-.25zM319.8 121h.25V247.8h-.25zM320.05 121h.25V244h-.25zM320.3 121.9h.25V244h-.25zM320.55 121.9h.25V241.2h-.25zM320.8 105.4h.25V263.4h-.25zM321.05 105.4h.25V263.4h-.25zM321.3 121.1h.25V239.4h-.25zM321.55 121.1h.25V253.7h-.25zM321.8 124h.25V253.7h-.25zM322.05 137.9h.25V242.6h-.25zM322.3 132.3h.25V233.6h-.25zM322.55 127.7h.25V244.8h-.25zM322.8 127.7h.25V261.7h-.25zM323.05 132.6h.25V261.7h-.25zM323.3 128.6h.25V237.3h-.25zM323.55 128.6h.25V238.9h-.25zM323.8 124.7h.25V244.6h-.25zM324.05 124.7h.25V244.6h-.25zM324.3 135.8h.25V251.7h-.25zM324.55 135.8h.25V251.7h-.25zM324.8 136.4h.25V235.8h-.25zM325.05 137.2h.25V242h-.25zM325.3 138.6h.25V245.8h-.25zM325.55 141.9h.25V245.8h-.25zM325.8 126.8h.25V245.2h-.25zM326.05 123h.25V245.2h-.25zM326.3 123h.25V248.7h-.25zM326.55 124.8h.25V248.7h-.25zM326.8 124.8h.25V253.6h-.25zM327.05 125.6h.25V253.6h-.25zM327.3 139.9h.25V243.8h-.25zM327.55 107.1h.25V264.9h-.25zM327.8 107.1h.25V264.9h-.25zM328.05 130.4h.25V256.5h-.25zM328.3 130.4h.25V250.4h-.25zM328.55 138.3h.25V250.4h-.25zM328.8 136h.25V255.4h-.25zM329.05 101.8h.25V255.4h-.25zM329.3 101.8h.25V239.3h-.25zM329.55 103.3h.25V251.8h-.25zM329.8 103.3h.25V251.8h-.25zM330.05 126.1h.25V248.5h-.25zM330.3 123.3h.25V248.5h-.25zM330.55 123.3h.25V243h-.25zM330.8 124.8h.25V242.9h-.25zM331.05 124.8h.25V242.9h-.25zM331.3 134.3h.25V232.6h-.25zM331.55 100.6h.25V250.7h-.25zM331.8 100.6h.25V254.9h-.25zM332.05 126.4h.25V254.9h-.25zM332.3 131h.25V267h-.25zM332.55 131h.25V267h-.25zM332.8 129h.25V248.8h-.25zM333.05 129h.25V240.7h-.25zM333.3 128.5h.25V248.7h-.25zM333.55 128.5h.25V248.7h-.25zM333.8 107.8h.25V241.3h-.25zM334.05 107.8h.25V241.3h-.25zM334.3 119.3h.25V244.5h-.25zM334.55 119.3h.25V244.5h-.25zM334.8 134.1h.25V253.7h-.25zM335.05 134.7h.25V253.7h-.25zM335.3 124.5h.25V234.6h-.25zM335.55 113.8h.25V275.7h-.25zM335.8 113.8h.25V275.7h-.25zM336.05 129.1h.25V236.9h-.25zM336.3 108h.25V234.3h-.25zM336.55 108h.25V235.8h-.25zM336.8 116.5h.25V250.7h-.25zM337.05 136.6h.25V250.7h-.25zM337.3 109.6h.25V245.6h-.25zM337.55 109.6h.25V245.6h-.25zM337.8 126.9h.25V236.4h-.25zM338.05 126.9h.25V240.1h-.25zM338.3 127.4h.25V240.1h-.25zM338.55 125.5h.25V230.5h-.25zM338.8 125.5h.25V243.8h-.25zM339.05 122.2h.25V243.8h-.25zM339.3 122.2h.25V243.1h-.25zM339.55 136.4h.25V243.6h-.25zM339.8 118.5h.25V243.6h-.25zM340.05 118.5h.25V250.2h-.25zM340.3 124.4h.25V250.2h-.25zM340.55 130.3h.25V249.3h-.25zM340.8 127h.25V247.4h-.25zM341.05 107.5h.25V247.4h-.25zM341.3 107.5h.25V250.5h-.25zM341.55 134.8h.25V253.1h-.25zM341.8 134.8h.25V253.1h-.25zM342.05 123.3h.25V252.4h-.25zM342.3 123.3h.25V252.4h-.25zM342.55 138.7h.25V246.4h-.25zM342.8 140.3h.25V244.9h-.25zM343.05 138.5h.25V244.4h-.25zM343.3 132h.25V244.4h-.25zM343.55 113h.25V260.6h-.25zM343.8 113h.25V260.6h-.25zM344.05 108.3h.25V248.5h-.25zM344.3 108.3h.25V248.5h-.25zM344.55 117.7h.25V241h-.25zM344.8 120.5h.25V248.2h-.25zM345.05 120.5h.25V248.2h-.25zM345.3 132.2h.25V242.9h-.25zM345.55 123.5h.25V242.9h-.25zM345.8 123.5h.25V263.8h-.25zM346.05 139.7h.25V263.8h-.25zM346.3 111.2h.25V252h-.25zM346.55 111.2h.25V252h-.25zM346.8 131.6h.25V263.2h-.25zM347.05 95.7h.25V263.2h-.25zM347.3 95.7h.25V239.2h-.25zM347.55 127.6h.25V239.2h-.25zM347.8 130.3h.25V247.1h-.25zM348.05 124.7h.25V247.1h-.25zM348.3 124.7h.25V241.1h-.25zM348.55 133.7h.25V254.5h-.25zM348.8 135.7h.25V254.5h-.25zM349.05 136.8h.25V241.2h-.25zM349.3 117.5h.25V244.1h-.25zM349.55 117.5h.25V246.2h-.25zM349.8 129.5h.25V249.9h-.25zM350.05 129.5h.25V259.4h-.25zM350.3 112.6h.25V259.4h-.25zM350.55 112.6h.25V251.5h-.25zM350.8 100.6h.25V259h-.25zM351.05 100.6h.25V259h-.25zM351.3 107.5h.25V233.3h-.25zM351.55 107.5h.25V276.7h-.25zM351.8 142.2h.25V276.7h-.25zM352.05 123.6h.25V251.2h-.25zM352.3 123.6h.25V251.2h-.25zM352.55 131.2h.25V247.7h-.25zM352.8 131.2h.25V247.7h-.25zM353.05 132.7h.25V237.1h-.25zM353.3 129.3h.25V271.6h-.25zM353.55 129.3h.25V271.6h-.25zM353.8 135.7h.25V265.3h-.25zM354.05 135.7h.25V266.8h-.25zM354.3 135.9h.25V266.8h-.25zM354.55 135.9h.25V232.4h-.25zM354.8 109.2h.25V240h-.25zM355.05 109.2h.25V247.5h-.25zM355.3 132.8h.25V250.8h-.25zM355.55 116.1h.25V254.7h-.25zM355.8 116.1h.25V254.7h-.25zM356.05 121.7h.25V253.4h-.25zM356.3 121.7h.25V253.4h-.25zM356.55 112.5h.25V250.5h-.25zM356.8 112.5h.25V237.7h-.25zM357.05 137.7h.25V239.5h-.25zM357.3 134.2h.25V239.5h-.25zM357.55 118.6h.25V274.5h-.25zM357.8 118.6h.25V274.5h-.25zM358.05 128.9h.25V246h-.25zM358.3 127.9h.25V251.5h-.25zM358.55 127.9h.25V251.5h-.25zM358.8 82.1h.25V242.3h-.25zM359.05 82.1h.25V242.3h-.25zM359.3 118.6h.25V242.6h-.25zM359.55 131.9h.25V242.6h-.25zM233.8 123.4h1V238.8h-1zM234.8 127.6h1V238.6h-1zM235.8 125.3h1V248.2h-1zM236.8 124.3h1V247.3h-1zM237.8 128h1V242.1h-1zM238.8 125h1V245.8h-1zM239.8 125.9h1V237.9h-1zM240.8 130.8h1V240.8h-1zM241.8 129.8h1V238.3h-1zM242.8 123.3h1V241.8h-1zM243.8 135.4h1V236.1h-1zM244.8 127.4h1V246.3h-1zM245.8 125.4h1V242.5h-1zM246.8 133.1h1V244.1h-1zM247.8 127.1h1V244.2h-1zM248.8 133.6h1V248h-1zM249.8 130.2h1V238.7h-1zM250.8 130.7h1V243.1h-1zM251.8 124.4h1V240h-1zM252.8 121.9h1V237.3h-1zM253.8 122.5h1V241.8h-1zM254.8 124.8h1V235h-1zM255.8 135.4h1V242.3h-1zM256.8 125.2h1V245.6h-1zM257.8 134.6h1V241.8h-1zM258.8 134.6h1V246.6h-1zM259.8 134.8h1V238.7h-1zM260.8 134.9h1V236.1h-1zM261.8 127.8h1V243.2h-1zM262.8 133.5h1V243.4h-1zM263.8 132h1V236.8h-1zM264.8 128.5h1V248.6h-1zM265.8 122.5h1V235.1h-1zM266.8 121.8h1V245h-1zM267.8 128.6h1V238.9h-1zM268.8 134h1V242.9h-1zM269.8 131.1h1V236.9h-1zM270.8 135.2h1V236h-1zM271.8 135.3h1V236h-1zM272.8 129.2h1V246.3h-1zM273.8 131.2h1V235.8h-1zM274.8 132.9h1V237.5h-1zM275.8 123.2h1V244.7h-1zM276.8 127.4h1V241.6h-1zM277.8 122.6h1V246.2h-1zM278.8 130.3h1V239.6h-1zM279.8 133.6h1V245.2h-1zM280.8 124.9h1V239.9h-1zM281.8 127.7h1V236.8h-1zM282.8 132.2h1V236.1h-1zM283.8 131h1V236.1h-1zM284.8 125.4h1V238.8h-1zM285.8 127.1h1V238h-1zM286.8 131.2h1V238.6h-1zM287.8 133.9h1V239.8h-1zM288.8 122h1V235.5h-1zM289.8 132.1h1V236.3h-1zM290.8 127.3h1V242.7h-1zM291.8 130.2h1V242.6h-1zM292.8 129.3h1V235.6h-1zM293.8 125h1V246.6h-1zM294.8 124.7h1V240.5h-1zM295.8 121.8h1V244.8h-1zM296.8 125.2h1V241.6h-1zM297.8 132.4h1V247.2h-1zM298.8 123.1h1V248.6h-1zM299.8 132h1V242.3h-1zM300.8 131.5h1V241.1h-1zM301.8 133.1h1V238h-1zM302.8 127.4h1V239.9h-1zM303.8 122h1V246.5h-1zM304.8 129.1h1V246.6h-1zM305.8 131.4h1V241.8h-1zM306.8 125h1V246.3h-1zM307.8 124.3h1V238.7h-1zM308.8 128.9h1V236.7h-1zM309.8 129.6h1V235.2h-1zM310.8 122.1h1V243h-1zM311.8 122.3h1V238.1h-1zM312.8 128.2h1V240.3h-1zM313.8 124.4h1V235.5h-1zM314.8 123h1V235.6h-1zM315.8 130h1V248.7h-1zM316.8 133.6h1V243.5h-1zM317.8 134.2h1V241.3h-1zM318.8 133.9h1V244.6h-1zM319.8 131.3h1V236.2h-1zM320.8 129h1V247.2h-1zM321.8 125h1V235.8h-1zM322.8 125.6h1V248.8h-1zM323.8 123.8h1V245.9h-1zM324.8 124.2h1V237.4h-1zM325.8 126h1V247.8h-1zM326.8 130.4h1V247.1h-1zM327.8 124.7h1V247.9h-1zM328.8 129.4h1V238.5h-1zM329.8 124.1h1V242.9h-1zM330.8 134.4h1V236.6h-1zM331.8 131.4h1V242h-1zM332.8 135.5h1V244.6h-1zM333.8 122.5h1V238.7h-1zM334.8 125.6h1V241h-1zM335.8 133.6h1V245.7h-1zM336.8 122.3h1V247.3h-1zM337.8 126.3h1V243.6h-1zM338.8 125.4h1V246.8h-1zM339.8 134.1h1V241.3h-1zM340.8 132h1V237.9h-1zM341.8 121.7h1V246.9h-1zM342.8 132.1h1V246.4h-1zM343.8 130.1h1V245.6h-1zM344.8 127.1h1V243.6h-1zM345.8 128.3h1V236.9h-1zM346.8 123.6h1V246.4h-1zM347.8 131.9h1V240.9h-1zM348.8 129h1V248.4h-1zM349.8 125.3h1V237.8h-1zM350.8 129.5h1V247.1h-1zM351.8 125.8h1V247.9h-1zM352.8 134.7h1V240.9h-1zM353.8 129.5h1V235.1h-1zM354.8 132h1V246.3h-1zM355.8 131.1h1V236.7h-1zM356.8 125.9h1V248.8h-1zM357.8 133.7h1V235.6h-1zM358.8 127.6h1V243h-1z"/>
<text x="297.80" y="14.8" font-size="12" text-anchor="middle">(b)</text>
<text x="297.50" y="338.5" font-size="11.3" text-anchor="middle">Samples</text>
<text x="341.90" y="342.6" font-size="13" text-anchor="end" style="stroke:none;fill:#4d4d4d">×</text>
<text x="343.00" y="341.4" font-size="11.4" text-anchor="start">10<tspan dx="-0.7" dy="-5.0" font-size="9.2">4</tspan></text>
<text transform="translate(198.00,161.30) rotate(-90) scale(1.075,1)" font-size="10.9" text-anchor="middle">Angular velocity(rad/s)</text>
</g>
<g>
<rect x="416.2" y="18.2" width="125.10" height="289.00" fill="none" stroke="#8c8c8c" stroke-width="1"/>
<line x1="416.20" y1="307.2" x2="416.20" y2="303.7" stroke="#8c8c8c" stroke-width="1"/>
<line x1="416.20" y1="18.2" x2="416.20" y2="21.7" stroke="#8c8c8c" stroke-width="1"/>
<text x="415.50" y="323.3" font-size="10.8" text-anchor="middle">0</text>
<line x1="457.90" y1="307.2" x2="457.90" y2="303.7" stroke="#8c8c8c" stroke-width="1"/>
<line x1="457.90" y1="18.2" x2="457.90" y2="21.7" stroke="#8c8c8c" stroke-width="1"/>
<text x="457.20" y="323.3" font-size="10.8" text-anchor="middle">2</text>
<line x1="499.60" y1="307.2" x2="499.60" y2="303.7" stroke="#8c8c8c" stroke-width="1"/>
<line x1="499.60" y1="18.2" x2="499.60" y2="21.7" stroke="#8c8c8c" stroke-width="1"/>
<text x="498.90" y="323.3" font-size="10.8" text-anchor="middle">4</text>
<line x1="541.30" y1="307.2" x2="541.30" y2="303.7" stroke="#8c8c8c" stroke-width="1"/>
<line x1="541.30" y1="18.2" x2="541.30" y2="21.7" stroke="#8c8c8c" stroke-width="1"/>
<text x="540.60" y="323.3" font-size="10.8" text-anchor="middle">6</text>
<line x1="416.2" y1="18.20" x2="419.7" y2="18.20" stroke="#8c8c8c" stroke-width="1"/>
<line x1="541.3" y1="18.20" x2="537.8" y2="18.20" stroke="#8c8c8c" stroke-width="1"/>
<text x="411.20" y="22.80" font-size="11" text-anchor="end">0.15</text>
<line x1="416.2" y1="76.00" x2="419.7" y2="76.00" stroke="#8c8c8c" stroke-width="1"/>
<line x1="541.3" y1="76.00" x2="537.8" y2="76.00" stroke="#8c8c8c" stroke-width="1"/>
<text x="411.20" y="80.60" font-size="11" text-anchor="end">0.1</text>
<line x1="416.2" y1="133.80" x2="419.7" y2="133.80" stroke="#8c8c8c" stroke-width="1"/>
<line x1="541.3" y1="133.80" x2="537.8" y2="133.80" stroke="#8c8c8c" stroke-width="1"/>
<text x="411.20" y="138.40" font-size="11" text-anchor="end">0.05</text>
<line x1="416.2" y1="191.60" x2="419.7" y2="191.60" stroke="#8c8c8c" stroke-width="1"/>
<line x1="541.3" y1="191.60" x2="537.8" y2="191.60" stroke="#8c8c8c" stroke-width="1"/>
<text x="411.20" y="196.20" font-size="11" text-anchor="end">0</text>
<line x1="416.2" y1="249.40" x2="419.7" y2="249.40" stroke="#8c8c8c" stroke-width="1"/>
<line x1="541.3" y1="249.40" x2="537.8" y2="249.40" stroke="#8c8c8c" stroke-width="1"/>
<text x="411.20" y="254.00" font-size="11" text-anchor="end">-0.05</text>
<line x1="416.2" y1="307.20" x2="419.7" y2="307.20" stroke="#8c8c8c" stroke-width="1"/>
<line x1="541.3" y1="307.20" x2="537.8" y2="307.20" stroke="#8c8c8c" stroke-width="1"/>
<text x="411.20" y="311.80" font-size="11" text-anchor="end">-0.1</text>
<rect x="416.60" y="271.1" width="1.6" height="36.1" fill="#0072bd" opacity="0.42"/>
<rect x="421.40" y="271.1" width="1.6" height="36.1" fill="#0072bd" opacity="0.42"/>
<rect x="433.30" y="271.1" width="1.6" height="36.1" fill="#0072bd" opacity="0.42"/>
<rect x="442.20" y="271.1" width="1.6" height="36.1" fill="#0072bd" opacity="0.42"/>
<rect x="458.70" y="271.1" width="1.6" height="36.1" fill="#0072bd" opacity="0.42"/>
<rect x="462.60" y="271.1" width="1.6" height="36.1" fill="#0072bd" opacity="0.42"/>
<rect x="480.00" y="271.1" width="1.6" height="36.1" fill="#0072bd" opacity="0.42"/>
<rect x="491.60" y="271.1" width="1.6" height="36.1" fill="#0072bd" opacity="0.42"/>
<rect x="507.00" y="271.1" width="1.6" height="36.1" fill="#0072bd" opacity="0.42"/>
<rect x="509.30" y="271.1" width="1.6" height="36.1" fill="#0072bd" opacity="0.42"/>
<rect x="517.60" y="271.1" width="1.6" height="36.1" fill="#0072bd" opacity="0.42"/>
<rect x="526.10" y="271.1" width="1.6" height="36.1" fill="#0072bd" opacity="0.42"/>
<path transform="translate(-0.30,0)" opacity="1" fill="#0072bd" d="M415.7 92.2h.25V263.1h-.25zM415.95 99.3h.25V278.5h-.25zM416.2 106.9h.25V278.5h-.25zM416.45 92.8h.25V283.7h-.25zM416.7 92.8h.25V283.7h-.25zM416.95 104.1h.25V273.3h-.25zM417.2 96.5h.25V262.5h-.25zM417.45 96.5h.25V257.6h-.25zM417.7 87.1h.25V282.2h-.25zM417.95 87.1h.25V282.2h-.25zM418.2 103.3h.25V268.9h-.25zM418.45 104.1h.25V266.8h-.25zM418.7 104.1h.25V270.1h-.25zM418.95 107h.25V270.1h-.25zM419.2 109.7h.25V261.6h-.25zM419.45 100.7h.25V276.8h-.25zM419.7 100.7h.25V276.8h-.25zM419.95 83.5h.25V276.7h-.25zM420.2 83.5h.25V276.7h-.25zM420.45 90.4h.25V275.3h-.25zM420.7 90.4h.25V272.7h-.25zM420.95 101.1h.25V272.7h-.25zM421.2 101.1h.25V269.7h-.25zM421.45 101.5h.25V275.2h-.25zM421.7 107h.25V275.2h-.25zM421.95 104.9h.25V272.4h-.25zM422.19 104.9h.25V282.4h-.25zM422.44 85.3h.25V282.4h-.25zM422.69 85.3h.25V275.1h-.25zM422.94 102.9h.25V277.6h-.25zM423.19 92.6h.25V277.6h-.25zM423.44 92.6h.25V290.6h-.25zM423.69 108.3h.25V290.6h-.25zM423.94 98.3h.25V281.5h-.25zM424.19 98.3h.25V286h-.25zM424.44 101.1h.25V286h-.25zM424.69 87.1h.25V266.6h-.25zM424.94 87.1h.25V266.6h-.25zM425.19 98.7h.25V258.9h-.25zM425.44 98.7h.25V262.5h-.25zM425.69 108.2h.25V281h-.25zM425.94 108.2h.25V281h-.25zM426.19 108.7h.25V281h-.25zM426.44 104h.25V287.9h-.25zM426.69 104h.25V287.9h-.25zM426.94 110.1h.25V271.2h-.25zM427.19 93.4h.25V271.2h-.25zM427.44 93.4h.25V266.3h-.25zM427.69 103.3h.25V266.3h-.25zM427.94 103.3h.25V264.3h-.25zM428.19 95.9h.25V264.3h-.25zM428.44 95.9h.25V267.4h-.25zM428.69 100.9h.25V267.4h-.25zM428.94 100.9h.25V260.8h-.25zM429.19 93.5h.25V265.3h-.25zM429.44 93.5h.25V266.8h-.25zM429.69 103.4h.25V268.3h-.25zM429.94 103.4h.25V268.3h-.25zM430.19 98h.25V274.6h-.25zM430.44 97.3h.25V274.6h-.25zM430.69 97.3h.25V268.1h-.25zM430.94 109.8h.25V271.1h-.25zM431.19 106.6h.25V273.9h-.25zM431.44 106.6h.25V279.1h-.25zM431.69 98.3h.25V279.1h-.25zM431.94 98.3h.25V261.1h-.25zM432.19 84.2h.25V260.5h-.25zM432.44 84.2h.25V263.1h-.25zM432.69 107.6h.25V264.9h-.25zM432.94 107.3h.25V283.3h-.25zM433.19 107.3h.25V283.3h-.25zM433.44 110.6h.25V267.4h-.25zM433.69 110.6h.25V267.4h-.25zM433.94 89.1h.25V278.2h-.25zM434.19 89.1h.25V278.2h-.25zM434.44 92.1h.25V276.8h-.25zM434.68 92.1h.25V276.8h-.25zM434.93 97.8h.25V263h-.25zM435.18 98.6h.25V266.3h-.25zM435.43 94.9h.25V266.3h-.25zM435.68 94.9h.25V273.4h-.25zM435.93 101h.25V273.4h-.25zM436.18 105.3h.25V280.6h-.25zM436.43 111.9h.25V280.6h-.25zM436.68 109.1h.25V271.9h-.25zM436.93 98.6h.25V275.9h-.25zM437.18 98.6h.25V275.9h-.25zM437.43 106.2h.25V282.7h-.25zM437.68 91.1h.25V296.5h-.25zM437.93 91.1h.25V296.5h-.25zM438.18 102.8h.25V270.5h-.25zM438.43 84.2h.25V262.7h-.25zM438.68 84.2h.25V268.3h-.25zM438.93 108.4h.25V274.5h-.25zM439.18 105.8h.25V278.1h-.25zM439.43 105.8h.25V278.1h-.25zM439.68 98h.25V268.6h-.25zM439.93 98h.25V264h-.25zM440.18 94.8h.25V267.6h-.25zM440.43 94.8h.25V267.6h-.25zM440.68 105.1h.25V261h-.25zM440.93 106.1h.25V261h-.25zM441.18 103.3h.25V270.5h-.25zM441.43 82.5h.25V270.5h-.25zM441.68 82.5h.25V276.1h-.25zM441.93 98.3h.25V276.1h-.25zM442.18 98.3h.25V285.5h-.25zM442.43 103.2h.25V285.5h-.25zM442.68 103h.25V276h-.25zM442.93 103h.25V276h-.25zM443.18 103.3h.25V275.2h-.25zM443.43 92.8h.25V290.6h-.25zM443.68 92.8h.25V290.6h-.25zM443.93 102.3h.25V268.5h-.25zM444.18 99.7h.25V268.3h-.25zM444.43 99.7h.25V277.9h-.25zM444.68 106.3h.25V277.9h-.25zM444.93 106.6h.25V271.3h-.25zM445.18 106.6h.25V281h-.25zM445.43 109.8h.25V281h-.25zM445.68 111.8h.25V292.6h-.25zM445.93 109.8h.25V292.6h-.25zM446.18 109.8h.25V271.3h-.25zM446.43 111.1h.25V262.9h-.25zM446.68 87.1h.25V290.6h-.25zM446.93 87.1h.25V290.6h-.25zM447.17 102.2h.25V273.9h-.25zM447.42 100.1h.25V271.8h-.25zM447.67 100.1h.25V267.1h-.25zM447.92 101.6h.25V267.1h-.25zM448.17 101.6h.25V281.6h-.25zM448.42 106.9h.25V281.6h-.25zM448.67 93.5h.25V276.1h-.25zM448.92 93.5h.25V276.1h-.25zM449.17 103.2h.25V263.5h-.25zM449.42 103.2h.25V271.2h-.25zM449.67 92.4h.25V271.2h-.25zM449.92 92.4h.25V277.3h-.25zM450.17 96.9h.25V290.6h-.25zM450.42 103.5h.25V290.6h-.25zM450.67 103.5h.25V269.5h-.25zM450.92 101.9h.25V263.8h-.25zM451.17 98h.25V266.7h-.25zM451.42 85.6h.25V277.3h-.25zM451.67 85.6h.25V277.3h-.25zM451.92 95.9h.25V289.6h-.25zM452.17 95.9h.25V289.6h-.25zM452.42 100.6h.25V270.8h-.25zM452.67 98.9h.25V296.5h-.25zM452.92 98.9h.25V296.5h-.25zM453.17 106.1h.25V276.6h-.25zM453.42 94.8h.25V260.6h-.25zM453.67 94.8h.25V275.1h-.25zM453.92 84.2h.25V275.1h-.25zM454.17 84.2h.25V259.9h-.25zM454.42 112.8h.25V270.6h-.25zM454.67 95.7h.25V284.2h-.25zM454.92 95.7h.25V284.2h-.25zM455.17 106.1h.25V276.6h-.25zM455.42 89h.25V274.3h-.25zM455.67 89h.25V275.2h-.25zM455.92 97.1h.25V275.2h-.25zM456.17 97.1h.25V272.1h-.25zM456.42 110.2h.25V286.5h-.25zM456.67 106.1h.25V286.5h-.25zM456.92 82.5h.25V267.9h-.25zM457.17 82.5h.25V267.9h-.25zM457.42 90.2h.25V266.7h-.25zM457.67 103.8h.25V266.7h-.25zM457.92 99.3h.25V275.2h-.25zM458.17 99.3h.25V275.2h-.25zM458.42 103.6h.25V272.6h-.25zM458.67 100.2h.25V266.7h-.25zM458.92 100.2h.25V270.5h-.25zM459.17 101.3h.25V271.2h-.25zM459.42 85.6h.25V280.3h-.25zM459.67 85.6h.25V280.3h-.25zM459.91 105.3h.25V266.8h-.25zM460.16 105.3h.25V260.6h-.25zM460.41 105.7h.25V268.6h-.25zM460.66 96.5h.25V268.6h-.25zM460.91 96.5h.25V256.2h-.25zM461.16 104.3h.25V270.8h-.25zM461.41 106.6h.25V278.4h-.25zM461.66 106.6h.25V278.4h-.25zM461.91 87.6h.25V260.5h-.25zM462.16 87.6h.25V264.1h-.25zM462.41 80.7h.25V264.1h-.25zM462.66 80.7h.25V267.3h-.25zM462.91 106.5h.25V267.3h-.25zM463.16 106.5h.25V281.6h-.25zM463.41 108.3h.25V281.6h-.25zM463.66 108.7h.25V269.6h-.25zM463.91 106.3h.25V279.3h-.25zM464.16 106.3h.25V279.3h-.25zM464.41 106.6h.25V287.2h-.25zM464.66 101.7h.25V287.2h-.25zM464.91 101.7h.25V267h-.25zM465.16 107.5h.25V266.3h-.25zM465.41 107.5h.25V266.3h-.25zM465.66 105h.25V263.5h-.25zM465.91 84.5h.25V264.3h-.25zM466.16 84.5h.25V265h-.25zM466.41 106.1h.25V266.8h-.25zM466.66 107.9h.25V281.6h-.25zM466.91 107.9h.25V281.6h-.25zM467.16 103.2h.25V279.7h-.25zM467.41 102.5h.25V274h-.25zM467.66 90.6h.25V291h-.25zM467.91 90.6h.25V291h-.25zM468.16 97.5h.25V265h-.25zM468.41 112.3h.25V273h-.25zM468.66 112.6h.25V273h-.25zM468.91 95.3h.25V277.1h-.25zM469.16 94.2h.25V277.1h-.25zM469.41 94.2h.25V263.9h-.25zM469.66 103.5h.25V277.5h-.25zM469.91 100.3h.25V277.5h-.25zM470.16 100.3h.25V276.7h-.25zM470.41 103.1h.25V276.7h-.25zM470.66 96.5h.25V271.4h-.25zM470.91 96.5h.25V271.4h-.25zM471.16 82.1h.25V272.3h-.25zM471.41 82.1h.25V272.3h-.25zM471.66 89h.25V264.4h-.25zM471.91 89h.25V264.4h-.25zM472.16 104.1h.25V262.8h-.25zM472.4 104.1h.25V262.8h-.25zM472.65 104.2h.25V265.3h-.25zM472.9 100.6h.25V290.6h-.25zM473.15 100.6h.25V290.6h-.25zM473.4 79.9h.25V270.7h-.25zM473.65 79.9h.25V270.3h-.25zM473.9 96.8h.25V288.7h-.25zM474.15 96.8h.25V288.7h-.25zM474.4 107.5h.25V278.4h-.25zM474.65 112.7h.25V269.3h-.25zM474.9 95.3h.25V269.3h-.25zM475.15 95.3h.25V281.9h-.25zM475.4 107.7h.25V281.9h-.25zM475.65 98.1h.25V269.8h-.25zM475.9 98.1h.25V269.1h-.25zM476.15 103.7h.25V297.3h-.25zM476.4 109.2h.25V297.3h-.25zM476.65 104.5h.25V279.7h-.25zM476.9 104.5h.25V279.7h-.25zM477.15 107.9h.25V270.8h-.25zM477.4 102.4h.25V261.9h-.25zM477.65 102.4h.25V271.1h-.25zM477.9 106.8h.25V271.1h-.25zM478.15 106.8h.25V263.8h-.25zM478.4 105.6h.25V261.4h-.25zM478.65 102h.25V283.7h-.25zM478.9 102h.25V283.7h-.25zM479.15 104.1h.25V276h-.25zM479.4 97.6h.25V271.9h-.25zM479.65 95.9h.25V271.9h-.25zM479.9 82.5h.25V264.5h-.25zM480.15 82.5h.25V264.5h-.25zM480.4 112h.25V281.2h-.25zM480.65 99.3h.25V281.2h-.25zM480.9 99.3h.25V259.5h-.25zM481.15 100.2h.25V273.1h-.25zM481.4 100.4h.25V273.1h-.25zM481.65 105.1h.25V290.6h-.25zM481.9 93.5h.25V290.6h-.25zM482.15 93.5h.25V268.6h-.25zM482.4 100.4h.25V268.6h-.25zM482.65 104.7h.25V262.4h-.25zM482.9 104.7h.25V288.7h-.25zM483.15 110.9h.25V288.7h-.25zM483.4 110.9h.25V279.2h-.25zM483.65 105.4h.25V279.2h-.25zM483.9 105.4h.25V276.4h-.25zM484.15 106.5h.25V272.7h-.25zM484.4 97.7h.25V272.7h-.25zM484.65 97.7h.25V274.8h-.25zM484.9 105.4h.25V274.8h-.25zM485.14 113.4h.25V264.6h-.25zM485.39 83h.25V262h-.25zM485.64 83h.25V268.9h-.25zM485.89 101.8h.25V271.7h-.25zM486.14 95.3h.25V271.7h-.25zM486.39 95.3h.25V265.4h-.25zM486.64 95.5h.25V264.1h-.25zM486.89 110.8h.25V265.3h-.25zM487.14 105.8h.25V268.1h-.25zM487.39 103.1h.25V271.4h-.25zM487.64 103.1h.25V295.8h-.25zM487.89 105.6h.25V295.8h-.25zM488.14 109.8h.25V281.9h-.25zM488.39 93.3h.25V281.9h-.25zM488.64 93.3h.25V275.8h-.25zM488.89 98.5h.25V275.8h-.25zM489.14 86.4h.25V269.4h-.25zM489.39 86.4h.25V276.2h-.25zM489.64 108.2h.25V276.2h-.25zM489.89 107.9h.25V266.3h-.25zM490.14 107.9h.25V270.3h-.25zM490.39 106.3h.25V270.3h-.25zM490.64 99.1h.25V279.4h-.25zM490.89 97.6h.25V283.4h-.25zM491.14 97.6h.25V283.4h-.25zM491.39 82.5h.25V265.7h-.25zM491.64 82.5h.25V265.7h-.25zM491.89 108.8h.25V262.2h-.25zM492.14 99.1h.25V266.7h-.25zM492.39 88.4h.25V266.7h-.25zM492.64 88.4h.25V264.1h-.25zM492.89 101.9h.25V266.6h-.25zM493.14 101.9h.25V266.8h-.25zM493.39 104h.25V266.8h-.25zM493.64 70h.25V270.2h-.25zM493.89 70h.25V270.2h-.25zM494.14 94.4h.25V268.4h-.25zM494.39 88h.25V267.4h-.25zM494.64 88h.25V283h-.25zM494.89 101.9h.25V283h-.25zM495.14 101.9h.25V286.2h-.25zM495.39 82.5h.25V286.2h-.25zM495.64 82.5h.25V269.4h-.25zM495.89 104.4h.25V268h-.25zM496.14 107.7h.25V265.6h-.25zM496.39 107.7h.25V265.5h-.25zM496.64 84.9h.25V285.7h-.25zM496.89 84.9h.25V285.7h-.25zM497.14 103.5h.25V292.6h-.25zM497.39 91.8h.25V292.6h-.25zM497.63 91.8h.25V268.6h-.25zM497.88 103.8h.25V266.1h-.25zM498.13 99.6h.25V266.1h-.25zM498.38 98.9h.25V265.6h-.25zM498.63 98.9h.25V263.6h-.25zM498.88 88.3h.25V290.6h-.25zM499.13 88.3h.25V290.6h-.25zM499.38 99.6h.25V280.4h-.25zM499.63 100h.25V280.4h-.25zM499.88 100h.25V290.3h-.25zM500.13 107.1h.25V290.3h-.25zM500.38 107.1h.25V276.6h-.25zM500.63 109h.25V276.6h-.25zM500.88 101h.25V267.4h-.25zM501.13 101h.25V267.4h-.25zM501.38 87.1h.25V272.9h-.25zM501.63 87.1h.25V272.9h-.25zM501.88 99.5h.25V271.6h-.25zM502.13 107.3h.25V271.1h-.25zM502.38 101h.25V271.1h-.25zM502.63 101h.25V289.5h-.25zM502.88 102.2h.25V289.5h-.25zM503.13 110.9h.25V281h-.25zM503.38 92.1h.25V259.5h-.25zM503.63 90.9h.25V265.7h-.25zM503.88 90.9h.25V279.9h-.25zM504.13 105.3h.25V279.9h-.25zM504.38 104h.25V269.8h-.25zM504.63 104h.25V269.8h-.25zM504.88 107.8h.25V272.6h-.25zM505.13 90.8h.25V272.6h-.25zM505.38 90.8h.25V263.3h-.25zM505.63 78.5h.25V271.3h-.25zM505.88 78.5h.25V271.3h-.25zM506.13 103.8h.25V269.6h-.25zM506.38 100.4h.25V269.4h-.25zM506.63 100.4h.25V269.4h-.25zM506.88 98.3h.25V263.7h-.25zM507.13 98.3h.25V285.4h-.25zM507.38 91.4h.25V285.4h-.25zM507.63 91.4h.25V260.2h-.25zM507.88 105.5h.25V273.8h-.25zM508.13 98.3h.25V273.8h-.25zM508.38 98.3h.25V259.5h-.25zM508.63 94.7h.25V262.8h-.25zM508.88 94.7h.25V279h-.25zM509.13 98.5h.25V279h-.25zM509.38 101.2h.25V267.9h-.25zM509.63 94.4h.25V265.9h-.25zM509.88 92.3h.25V283.2h-.25zM510.12 92.3h.25V283.2h-.25zM510.37 82.5h.25V268.7h-.25zM510.62 82.5h.25V273.7h-.25zM510.87 89.4h.25V273.7h-.25zM511.12 110.5h.25V279.3h-.25zM511.37 102.8h.25V279.3h-.25zM511.62 88.5h.25V290.6h-.25zM511.87 88.5h.25V290.6h-.25zM512.12 110.6h.25V277.3h-.25zM512.37 108.4h.25V277.3h-.25zM512.62 106h.25V271.3h-.25zM512.87 105.9h.25V271.3h-.25zM513.12 105.9h.25V287.1h-.25zM513.37 105.8h.25V287.1h-.25zM513.62 95.4h.25V275h-.25zM513.87 88.5h.25V275h-.25zM514.12 88.5h.25V269.1h-.25zM514.37 107.1h.25V269.1h-.25zM514.62 107.7h.25V270.4h-.25zM514.87 107.7h.25V281h-.25zM515.12 101h.25V281h-.25zM515.37 101h.25V276.2h-.25zM515.62 83.5h.25V276.2h-.25zM515.87 83.5h.25V262.4h-.25zM516.12 100.2h.25V273.9h-.25zM516.37 100.2h.25V273.9h-.25zM516.62 95.9h.25V270.9h-.25zM516.87 95.9h.25V265.7h-.25zM517.12 98.4h.25V260h-.25zM517.37 103.4h.25V267.1h-.25zM517.62 102.1h.25V267.1h-.25zM517.87 102.1h.25V265.6h-.25zM518.12 113h.25V276.4h-.25zM518.37 98.7h.25V276.4h-.25zM518.62 96.3h.25V259.8h-.25zM518.87 96.3h.25V273.3h-.25zM519.12 105.3h.25V273.3h-.25zM519.37 102.3h.25V264.5h-.25zM519.62 102.3h.25V264.1h-.25zM519.87 107.1h.25V281.8h-.25zM520.12 108.6h.25V282.9h-.25zM520.37 99.5h.25V282.9h-.25zM520.62 99.5h.25V279.2h-.25zM520.87 96.8h.25V279.2h-.25zM521.12 89.9h.25V267.2h-.25zM521.37 89.9h.25V265.5h-.25zM521.62 96.8h.25V265.5h-.25zM521.87 96.8h.25V267.1h-.25zM522.12 102.8h.25V288.7h-.25zM522.37 102.8h.25V288.7h-.25zM522.62 104.5h.25V277.8h-.25zM522.86 79.9h.25V263.7h-.25zM523.11 79.9h.25V263.7h-.25zM523.36 88h.25V257.7h-.25zM523.61 97.4h.25V280.6h-.25zM523.86 102.1h.25V280.6h-.25zM524.11 102.1h.25V267.1h-.25zM524.36 100.1h.25V267.1h-.25zM524.61 100.1h.25V285.1h-.25zM524.86 109h.25V285.1h-.25zM525.11 82.8h.25V264.8h-.25zM525.36 82.8h.25V269.5h-.25zM525.61 103.4h.25V277.9h-.25zM525.86 103.4h.25V277.9h-.25zM526.11 106.8h.25V284.6h-.25zM526.36 106.8h.25V284.6h-.25zM526.61 106.8h.25V288.4h-.25zM526.86 113.2h.25V288.4h-.25zM527.11 88.7h.25V272.8h-.25zM527.36 88.7h.25V272.8h-.25zM527.61 87.1h.25V264.7h-.25zM527.86 87.1h.25V263.5h-.25zM528.11 102.9h.25V268.7h-.25zM528.36 108.6h.25V292.6h-.25zM528.61 106.6h.25V292.6h-.25zM528.86 92.2h.25V266.2h-.25zM529.11 92.2h.25V266.2h-.25zM529.36 107.4h.25V261.7h-.25zM529.61 101.2h.25V267.3h-.25zM529.86 101.2h.25V267.3h-.25zM530.11 86.9h.25V264.6h-.25zM530.36 86.9h.25V269.2h-.25zM530.61 97.6h.25V269.2h-.25zM530.86 88h.25V267.3h-.25zM531.11 88h.25V270.9h-.25zM531.36 95.1h.25V270.9h-.25zM531.61 105.4h.25V269.2h-.25zM531.86 107h.25V269.2h-.25zM532.11 87.1h.25V264.6h-.25zM532.36 87.1h.25V260.6h-.25zM532.61 100.4h.25V263.7h-.25zM532.86 102.3h.25V263.7h-.25zM533.11 97.9h.25V262.9h-.25zM533.36 82.5h.25V265.3h-.25zM533.61 82.5h.25V268.2h-.25zM533.86 100.1h.25V268.2h-.25zM534.11 88.5h.25V276.1h-.25zM534.36 88.5h.25V277.7h-.25zM534.61 106.4h.25V277.7h-.25zM534.86 109h.25V273.3h-.25zM535.11 100.6h.25V273.3h-.25zM535.35 100.6h.25V266.3h-.25zM535.6 94.4h.25V266.3h-.25zM535.85 94.4h.25V265.9h-.25zM536.1 100.1h.25V273.9h-.25zM536.35 100.1h.25V273.9h-.25zM536.6 92.1h.25V259.5h-.25zM536.85 92.1h.25V278h-.25zM537.1 102.9h.25V278h-.25zM537.35 102.9h.25V265.6h-.25zM537.6 110.8h.25V275.3h-.25zM537.85 102.8h.25V275.3h-.25zM538.1 102.8h.25V270.4h-.25zM538.35 96.6h.25V275h-.25zM538.6 93.8h.25V275h-.25zM538.85 93.8h.25V266.3h-.25zM539.1 89.8h.25V266.3h-.25zM539.35 89.8h.25V294.2h-.25zM539.6 94.1h.25V294.2h-.25zM539.85 94.1h.25V266.1h-.25zM540.1 108.4h.25V266.1h-.25zM540.35 110h.25V264.5h-.25zM540.6 103.2h.25V270.8h-.25zM540.85 103.2h.25V270.8h-.25zM541.1 103.2h.25V269h-.25zM541.35 103.4h.25V269h-.25zM415.7 95.8h.999V273.8h-.999zM416.7 107.5h.999V273.7h-.999zM417.7 104.3h.999V265.8h-.999zM418.7 105.7h.999V266.8h-.999zM419.7 110.3h.999V279h-.999zM420.7 105.9h.999V269.2h-.999zM421.7 100.9h.999V274.5h-.999zM422.69 104h.999V267.6h-.999zM423.69 107.2h.999V268.4h-.999zM424.69 104.6h.999V270h-.999zM425.69 97.5h.999V274.2h-.999zM426.69 107.5h.999V277.3h-.999zM427.69 106.7h.999V279.6h-.999zM428.69 103.8h.999V270.8h-.999zM429.69 104.4h.999V265.7h-.999zM430.69 95.5h.999V268.6h-.999zM431.69 97.8h.999V276.1h-.999zM432.69 98.4h.999V280.3h-.999zM433.69 110.4h.999V280.1h-.999zM434.68 105.5h.999V269.4h-.999zM435.68 110.2h.999V275h-.999zM436.68 101h.999V267.5h-.999zM437.68 101.6h.999V277.2h-.999zM438.68 109.3h.999V273h-.999zM439.68 97.6h.999V267.7h-.999zM440.68 100.7h.999V278.3h-.999zM441.68 109.5h.999V280.4h-.999zM442.68 106.3h.999V272.5h-.999zM443.68 108.3h.999V271.2h-.999zM444.68 105.6h.999V268.4h-.999zM445.68 102.1h.999V268.8h-.999zM446.68 106.5h.999V272h-.999zM447.67 96.3h.999V280.9h-.999zM448.67 95.6h.999V271.6h-.999zM449.67 94.5h.999V276.6h-.999zM450.67 102.8h.999V270.1h-.999zM451.67 101.1h.999V271.1h-.999zM452.67 96.7h.999V278.6h-.999zM453.67 99.1h.999V274h-.999zM454.67 95.9h.999V265.8h-.999zM455.67 103.5h.999V275.4h-.999zM456.67 96.1h.999V266h-.999zM457.67 98.2h.999V266.6h-.999zM458.67 95.3h.999V273.3h-.999zM459.67 104.9h.999V280.3h-.999zM460.66 103.6h.999V277.7h-.999zM461.66 98.9h.999V271.3h-.999zM462.66 95.5h.999V270h-.999zM463.66 106.6h.999V275.1h-.999zM464.66 102.6h.999V272.5h-.999zM465.66 95.5h.999V270.9h-.999zM466.66 105.4h.999V276.7h-.999zM467.66 101.4h.999V279.8h-.999zM468.66 103.3h.999V266.7h-.999zM469.66 95.8h.999V272.1h-.999zM470.66 101.9h.999V275.8h-.999zM471.66 101.2h.999V273.8h-.999zM472.65 100.2h.999V265.8h-.999zM473.65 98.5h.999V279h-.999zM474.65 107.9h.999V270h-.999zM475.65 94.9h.999V271.5h-.999zM476.65 97.1h.999V276.7h-.999zM477.65 106.7h.999V265.3h-.999zM478.65 96.5h.999V273.9h-.999zM479.65 97.5h.999V270.8h-.999zM480.65 98h.999V271.7h-.999zM481.65 99.6h.999V265.9h-.999zM482.65 103.7h.999V269.3h-.999zM483.65 95.1h.999V280.5h-.999zM484.65 106.6h.999V275.4h-.999zM485.64 101.4h.999V273.8h-.999zM486.64 95.4h.999V278.1h-.999zM487.64 105.7h.999V279.9h-.999zM488.64 107.8h.999V271.6h-.999zM489.64 109.8h.999V266h-.999zM490.64 98.4h.999V279.8h-.999zM491.64 97.9h.999V279.2h-.999zM492.64 102.3h.999V277.7h-.999zM493.64 107.9h.999V272.6h-.999zM494.64 96.4h.999V279.8h-.999zM495.64 107.3h.999V273.3h-.999zM496.64 95.2h.999V275.3h-.999zM497.63 96.6h.999V272.4h-.999zM498.63 103.4h.999V268.8h-.999zM499.63 107.5h.999V272.7h-.999zM500.63 110.1h.999V272.7h-.999zM501.63 94.6h.999V280h-.999zM502.63 109.1h.999V271.9h-.999zM503.63 95.6h.999V272.2h-.999zM504.63 95.1h.999V276h-.999zM505.63 94.6h.999V277.8h-.999zM506.63 98.2h.999V275.8h-.999zM507.63 97.2h.999V280.6h-.999zM508.63 105.6h.999V266.2h-.999zM509.63 98.2h.999V273.3h-.999zM510.62 104.6h.999V265.9h-.999zM511.62 107.5h.999V278.1h-.999zM512.62 109.7h.999V270.4h-.999zM513.62 95.9h.999V279.1h-.999zM514.62 98.3h.999V268.8h-.999zM515.62 107.4h.999V272.8h-.999zM516.62 101.4h.999V280.3h-.999zM517.62 95.4h.999V279h-.999zM518.62 108.3h.999V269.8h-.999zM519.62 102.6h.999V268.5h-.999zM520.62 100.3h.999V279.7h-.999zM521.62 103.4h.999V265.3h-.999zM522.62 105.7h.999V278.2h-.999zM523.61 96.3h.999V279.8h-.999zM524.61 104.1h.999V265.1h-.999zM525.61 96.7h.999V279h-.999zM526.61 109.3h.999V273.4h-.999zM527.61 99.6h.999V268.1h-.999zM528.61 107.5h.999V274.3h-.999zM529.61 103.4h.999V276.3h-.999zM530.61 99.7h.999V272.5h-.999zM531.61 104h.999V268.7h-.999zM532.61 105.9h.999V271.4h-.999zM533.61 98h.999V275.7h-.999zM534.61 110.2h.999V281.2h-.999zM535.6 97.9h.999V268h-.999zM536.6 99.1h.999V280.8h-.999zM537.6 106.5h.999V265.8h-.999zM538.6 101.6h.999V274.2h-.999zM539.6 95h.999V265.5h-.999zM540.6 106.6h.999V269.5h-.999z"/>
<path transform="translate(0.00,0)" opacity="0.5" fill="#0072bd" d="M415.7 92.2h.25V263.1h-.25zM415.95 99.3h.25V278.5h-.25zM416.2 106.9h.25V278.5h-.25zM416.45 92.8h.25V283.7h-.25zM416.7 92.8h.25V283.7h-.25zM416.95 104.1h.25V273.3h-.25zM417.2 96.5h.25V262.5h-.25zM417.45 96.5h.25V257.6h-.25zM417.7 87.1h.25V282.2h-.25zM417.95 87.1h.25V282.2h-.25zM418.2 103.3h.25V268.9h-.25zM418.45 104.1h.25V266.8h-.25zM418.7 104.1h.25V270.1h-.25zM418.95 107h.25V270.1h-.25zM419.2 109.7h.25V261.6h-.25zM419.45 100.7h.25V276.8h-.25zM419.7 100.7h.25V276.8h-.25zM419.95 83.5h.25V276.7h-.25zM420.2 83.5h.25V276.7h-.25zM420.45 90.4h.25V275.3h-.25zM420.7 90.4h.25V272.7h-.25zM420.95 101.1h.25V272.7h-.25zM421.2 101.1h.25V269.7h-.25zM421.45 101.5h.25V275.2h-.25zM421.7 107h.25V275.2h-.25zM421.95 104.9h.25V272.4h-.25zM422.19 104.9h.25V282.4h-.25zM422.44 85.3h.25V282.4h-.25zM422.69 85.3h.25V275.1h-.25zM422.94 102.9h.25V277.6h-.25zM423.19 92.6h.25V277.6h-.25zM423.44 92.6h.25V290.6h-.25zM423.69 108.3h.25V290.6h-.25zM423.94 98.3h.25V281.5h-.25zM424.19 98.3h.25V286h-.25zM424.44 101.1h.25V286h-.25zM424.69 87.1h.25V266.6h-.25zM424.94 87.1h.25V266.6h-.25zM425.19 98.7h.25V258.9h-.25zM425.44 98.7h.25V262.5h-.25zM425.69 108.2h.25V281h-.25zM425.94 108.2h.25V281h-.25zM426.19 108.7h.25V281h-.25zM426.44 104h.25V287.9h-.25zM426.69 104h.25V287.9h-.25zM426.94 110.1h.25V271.2h-.25zM427.19 93.4h.25V271.2h-.25zM427.44 93.4h.25V266.3h-.25zM427.69 103.3h.25V266.3h-.25zM427.94 103.3h.25V264.3h-.25zM428.19 95.9h.25V264.3h-.25zM428.44 95.9h.25V267.4h-.25zM428.69 100.9h.25V267.4h-.25zM428.94 100.9h.25V260.8h-.25zM429.19 93.5h.25V265.3h-.25zM429.44 93.5h.25V266.8h-.25zM429.69 103.4h.25V268.3h-.25zM429.94 103.4h.25V268.3h-.25zM430.19 98h.25V274.6h-.25zM430.44 97.3h.25V274.6h-.25zM430.69 97.3h.25V268.1h-.25zM430.94 109.8h.25V271.1h-.25zM431.19 106.6h.25V273.9h-.25zM431.44 106.6h.25V279.1h-.25zM431.69 98.3h.25V279.1h-.25zM431.94 98.3h.25V261.1h-.25zM432.19 84.2h.25V260.5h-.25zM432.44 84.2h.25V263.1h-.25zM432.69 107.6h.25V264.9h-.25zM432.94 107.3h.25V283.3h-.25zM433.19 107.3h.25V283.3h-.25zM433.44 110.6h.25V267.4h-.25zM433.69 110.6h.25V267.4h-.25zM433.94 89.1h.25V278.2h-.25zM434.19 89.1h.25V278.2h-.25zM434.44 92.1h.25V276.8h-.25zM434.68 92.1h.25V276.8h-.25zM434.93 97.8h.25V263h-.25zM435.18 98.6h.25V266.3h-.25zM435.43 94.9h.25V266.3h-.25zM435.68 94.9h.25V273.4h-.25zM435.93 101h.25V273.4h-.25zM436.18 105.3h.25V280.6h-.25zM436.43 111.9h.25V280.6h-.25zM436.68 109.1h.25V271.9h-.25zM436.93 98.6h.25V275.9h-.25zM437.18 98.6h.25V275.9h-.25zM437.43 106.2h.25V282.7h-.25zM437.68 91.1h.25V296.5h-.25zM437.93 91.1h.25V296.5h-.25zM438.18 102.8h.25V270.5h-.25zM438.43 84.2h.25V262.7h-.25zM438.68 84.2h.25V268.3h-.25zM438.93 108.4h.25V274.5h-.25zM439.18 105.8h.25V278.1h-.25zM439.43 105.8h.25V278.1h-.25zM439.68 98h.25V268.6h-.25zM439.93 98h.25V264h-.25zM440.18 94.8h.25V267.6h-.25zM440.43 94.8h.25V267.6h-.25zM440.68 105.1h.25V261h-.25zM440.93 106.1h.25V261h-.25zM441.18 103.3h.25V270.5h-.25zM441.43 82.5h.25V270.5h-.25zM441.68 82.5h.25V276.1h-.25zM441.93 98.3h.25V276.1h-.25zM442.18 98.3h.25V285.5h-.25zM442.43 103.2h.25V285.5h-.25zM442.68 103h.25V276h-.25zM442.93 103h.25V276h-.25zM443.18 103.3h.25V275.2h-.25zM443.43 92.8h.25V290.6h-.25zM443.68 92.8h.25V290.6h-.25zM443.93 102.3h.25V268.5h-.25zM444.18 99.7h.25V268.3h-.25zM444.43 99.7h.25V277.9h-.25zM444.68 106.3h.25V277.9h-.25zM444.93 106.6h.25V271.3h-.25zM445.18 106.6h.25V281h-.25zM445.43 109.8h.25V281h-.25zM445.68 111.8h.25V292.6h-.25zM445.93 109.8h.25V292.6h-.25zM446.18 109.8h.25V271.3h-.25zM446.43 111.1h.25V262.9h-.25zM446.68 87.1h.25V290.6h-.25zM446.93 87.1h.25V290.6h-.25zM447.17 102.2h.25V273.9h-.25zM447.42 100.1h.25V271.8h-.25zM447.67 100.1h.25V267.1h-.25zM447.92 101.6h.25V267.1h-.25zM448.17 101.6h.25V281.6h-.25zM448.42 106.9h.25V281.6h-.25zM448.67 93.5h.25V276.1h-.25zM448.92 93.5h.25V276.1h-.25zM449.17 103.2h.25V263.5h-.25zM449.42 103.2h.25V271.2h-.25zM449.67 92.4h.25V271.2h-.25zM449.92 92.4h.25V277.3h-.25zM450.17 96.9h.25V290.6h-.25zM450.42 103.5h.25V290.6h-.25zM450.67 103.5h.25V269.5h-.25zM450.92 101.9h.25V263.8h-.25zM451.17 98h.25V266.7h-.25zM451.42 85.6h.25V277.3h-.25zM451.67 85.6h.25V277.3h-.25zM451.92 95.9h.25V289.6h-.25zM452.17 95.9h.25V289.6h-.25zM452.42 100.6h.25V270.8h-.25zM452.67 98.9h.25V296.5h-.25zM452.92 98.9h.25V296.5h-.25zM453.17 106.1h.25V276.6h-.25zM453.42 94.8h.25V260.6h-.25zM453.67 94.8h.25V275.1h-.25zM453.92 84.2h.25V275.1h-.25zM454.17 84.2h.25V259.9h-.25zM454.42 112.8h.25V270.6h-.25zM454.67 95.7h.25V284.2h-.25zM454.92 95.7h.25V284.2h-.25zM455.17 106.1h.25V276.6h-.25zM455.42 89h.25V274.3h-.25zM455.67 89h.25V275.2h-.25zM455.92 97.1h.25V275.2h-.25zM456.17 97.1h.25V272.1h-.25zM456.42 110.2h.25V286.5h-.25zM456.67 106.1h.25V286.5h-.25zM456.92 82.5h.25V267.9h-.25zM457.17 82.5h.25V267.9h-.25zM457.42 90.2h.25V266.7h-.25zM457.67 103.8h.25V266.7h-.25zM457.92 99.3h.25V275.2h-.25zM458.17 99.3h.25V275.2h-.25zM458.42 103.6h.25V272.6h-.25zM458.67 100.2h.25V266.7h-.25zM458.92 100.2h.25V270.5h-.25zM459.17 101.3h.25V271.2h-.25zM459.42 85.6h.25V280.3h-.25zM459.67 85.6h.25V280.3h-.25zM459.91 105.3h.25V266.8h-.25zM460.16 105.3h.25V260.6h-.25zM460.41 105.7h.25V268.6h-.25zM460.66 96.5h.25V268.6h-.25zM460.91 96.5h.25V256.2h-.25zM461.16 104.3h.25V270.8h-.25zM461.41 106.6h.25V278.4h-.25zM461.66 106.6h.25V278.4h-.25zM461.91 87.6h.25V260.5h-.25zM462.16 87.6h.25V264.1h-.25zM462.41 80.7h.25V264.1h-.25zM462.66 80.7h.25V267.3h-.25zM462.91 106.5h.25V267.3h-.25zM463.16 106.5h.25V281.6h-.25zM463.41 108.3h.25V281.6h-.25zM463.66 108.7h.25V269.6h-.25zM463.91 106.3h.25V279.3h-.25zM464.16 106.3h.25V279.3h-.25zM464.41 106.6h.25V287.2h-.25zM464.66 101.7h.25V287.2h-.25zM464.91 101.7h.25V267h-.25zM465.16 107.5h.25V266.3h-.25zM465.41 107.5h.25V266.3h-.25zM465.66 105h.25V263.5h-.25zM465.91 84.5h.25V264.3h-.25zM466.16 84.5h.25V265h-.25zM466.41 106.1h.25V266.8h-.25zM466.66 107.9h.25V281.6h-.25zM466.91 107.9h.25V281.6h-.25zM467.16 103.2h.25V279.7h-.25zM467.41 102.5h.25V274h-.25zM467.66 90.6h.25V291h-.25zM467.91 90.6h.25V291h-.25zM468.16 97.5h.25V265h-.25zM468.41 112.3h.25V273h-.25zM468.66 112.6h.25V273h-.25zM468.91 95.3h.25V277.1h-.25zM469.16 94.2h.25V277.1h-.25zM469.41 94.2h.25V263.9h-.25zM469.66 103.5h.25V277.5h-.25zM469.91 100.3h.25V277.5h-.25zM470.16 100.3h.25V276.7h-.25zM470.41 103.1h.25V276.7h-.25zM470.66 96.5h.25V271.4h-.25zM470.91 96.5h.25V271.4h-.25zM471.16 82.1h.25V272.3h-.25zM471.41 82.1h.25V272.3h-.25zM471.66 89h.25V264.4h-.25zM471.91 89h.25V264.4h-.25zM472.16 104.1h.25V262.8h-.25zM472.4 104.1h.25V262.8h-.25zM472.65 104.2h.25V265.3h-.25zM472.9 100.6h.25V290.6h-.25zM473.15 100.6h.25V290.6h-.25zM473.4 79.9h.25V270.7h-.25zM473.65 79.9h.25V270.3h-.25zM473.9 96.8h.25V288.7h-.25zM474.15 96.8h.25V288.7h-.25zM474.4 107.5h.25V278.4h-.25zM474.65 112.7h.25V269.3h-.25zM474.9 95.3h.25V269.3h-.25zM475.15 95.3h.25V281.9h-.25zM475.4 107.7h.25V281.9h-.25zM475.65 98.1h.25V269.8h-.25zM475.9 98.1h.25V269.1h-.25zM476.15 103.7h.25V297.3h-.25zM476.4 109.2h.25V297.3h-.25zM476.65 104.5h.25V279.7h-.25zM476.9 104.5h.25V279.7h-.25zM477.15 107.9h.25V270.8h-.25zM477.4 102.4h.25V261.9h-.25zM477.65 102.4h.25V271.1h-.25zM477.9 106.8h.25V271.1h-.25zM478.15 106.8h.25V263.8h-.25zM478.4 105.6h.25V261.4h-.25zM478.65 102h.25V283.7h-.25zM478.9 102h.25V283.7h-.25zM479.15 104.1h.25V276h-.25zM479.4 97.6h.25V271.9h-.25zM479.65 95.9h.25V271.9h-.25zM479.9 82.5h.25V264.5h-.25zM480.15 82.5h.25V264.5h-.25zM480.4 112h.25V281.2h-.25zM480.65 99.3h.25V281.2h-.25zM480.9 99.3h.25V259.5h-.25zM481.15 100.2h.25V273.1h-.25zM481.4 100.4h.25V273.1h-.25zM481.65 105.1h.25V290.6h-.25zM481.9 93.5h.25V290.6h-.25zM482.15 93.5h.25V268.6h-.25zM482.4 100.4h.25V268.6h-.25zM482.65 104.7h.25V262.4h-.25zM482.9 104.7h.25V288.7h-.25zM483.15 110.9h.25V288.7h-.25zM483.4 110.9h.25V279.2h-.25zM483.65 105.4h.25V279.2h-.25zM483.9 105.4h.25V276.4h-.25zM484.15 106.5h.25V272.7h-.25zM484.4 97.7h.25V272.7h-.25zM484.65 97.7h.25V274.8h-.25zM484.9 105.4h.25V274.8h-.25zM485.14 113.4h.25V264.6h-.25zM485.39 83h.25V262h-.25zM485.64 83h.25V268.9h-.25zM485.89 101.8h.25V271.7h-.25zM486.14 95.3h.25V271.7h-.25zM486.39 95.3h.25V265.4h-.25zM486.64 95.5h.25V264.1h-.25zM486.89 110.8h.25V265.3h-.25zM487.14 105.8h.25V268.1h-.25zM487.39 103.1h.25V271.4h-.25zM487.64 103.1h.25V295.8h-.25zM487.89 105.6h.25V295.8h-.25zM488.14 109.8h.25V281.9h-.25zM488.39 93.3h.25V281.9h-.25zM488.64 93.3h.25V275.8h-.25zM488.89 98.5h.25V275.8h-.25zM489.14 86.4h.25V269.4h-.25zM489.39 86.4h.25V276.2h-.25zM489.64 108.2h.25V276.2h-.25zM489.89 107.9h.25V266.3h-.25zM490.14 107.9h.25V270.3h-.25zM490.39 106.3h.25V270.3h-.25zM490.64 99.1h.25V279.4h-.25zM490.89 97.6h.25V283.4h-.25zM491.14 97.6h.25V283.4h-.25zM491.39 82.5h.25V265.7h-.25zM491.64 82.5h.25V265.7h-.25zM491.89 108.8h.25V262.2h-.25zM492.14 99.1h.25V266.7h-.25zM492.39 88.4h.25V266.7h-.25zM492.64 88.4h.25V264.1h-.25zM492.89 101.9h.25V266.6h-.25zM493.14 101.9h.25V266.8h-.25zM493.39 104h.25V266.8h-.25zM493.64 70h.25V270.2h-.25zM493.89 70h.25V270.2h-.25zM494.14 94.4h.25V268.4h-.25zM494.39 88h.25V267.4h-.25zM494.64 88h.25V283h-.25zM494.89 101.9h.25V283h-.25zM495.14 101.9h.25V286.2h-.25zM495.39 82.5h.25V286.2h-.25zM495.64 82.5h.25V269.4h-.25zM495.89 104.4h.25V268h-.25zM496.14 107.7h.25V265.6h-.25zM496.39 107.7h.25V265.5h-.25zM496.64 84.9h.25V285.7h-.25zM496.89 84.9h.25V285.7h-.25zM497.14 103.5h.25V292.6h-.25zM497.39 91.8h.25V292.6h-.25zM497.63 91.8h.25V268.6h-.25zM497.88 103.8h.25V266.1h-.25zM498.13 99.6h.25V266.1h-.25zM498.38 98.9h.25V265.6h-.25zM498.63 98.9h.25V263.6h-.25zM498.88 88.3h.25V290.6h-.25zM499.13 88.3h.25V290.6h-.25zM499.38 99.6h.25V280.4h-.25zM499.63 100h.25V280.4h-.25zM499.88 100h.25V290.3h-.25zM500.13 107.1h.25V290.3h-.25zM500.38 107.1h.25V276.6h-.25zM500.63 109h.25V276.6h-.25zM500.88 101h.25V267.4h-.25zM501.13 101h.25V267.4h-.25zM501.38 87.1h.25V272.9h-.25zM501.63 87.1h.25V272.9h-.25zM501.88 99.5h.25V271.6h-.25zM502.13 107.3h.25V271.1h-.25zM502.38 101h.25V271.1h-.25zM502.63 101h.25V289.5h-.25zM502.88 102.2h.25V289.5h-.25zM503.13 110.9h.25V281h-.25zM503.38 92.1h.25V259.5h-.25zM503.63 90.9h.25V265.7h-.25zM503.88 90.9h.25V279.9h-.25zM504.13 105.3h.25V279.9h-.25zM504.38 104h.25V269.8h-.25zM504.63 104h.25V269.8h-.25zM504.88 107.8h.25V272.6h-.25zM505.13 90.8h.25V272.6h-.25zM505.38 90.8h.25V263.3h-.25zM505.63 78.5h.25V271.3h-.25zM505.88 78.5h.25V271.3h-.25zM506.13 103.8h.25V269.6h-.25zM506.38 100.4h.25V269.4h-.25zM506.63 100.4h.25V269.4h-.25zM506.88 98.3h.25V263.7h-.25zM507.13 98.3h.25V285.4h-.25zM507.38 91.4h.25V285.4h-.25zM507.63 91.4h.25V260.2h-.25zM507.88 105.5h.25V273.8h-.25zM508.13 98.3h.25V273.8h-.25zM508.38 98.3h.25V259.5h-.25zM508.63 94.7h.25V262.8h-.25zM508.88 94.7h.25V279h-.25zM509.13 98.5h.25V279h-.25zM509.38 101.2h.25V267.9h-.25zM509.63 94.4h.25V265.9h-.25zM509.88 92.3h.25V283.2h-.25zM510.12 92.3h.25V283.2h-.25zM510.37 82.5h.25V268.7h-.25zM510.62 82.5h.25V273.7h-.25zM510.87 89.4h.25V273.7h-.25zM511.12 110.5h.25V279.3h-.25zM511.37 102.8h.25V279.3h-.25zM511.62 88.5h.25V290.6h-.25zM511.87 88.5h.25V290.6h-.25zM512.12 110.6h.25V277.3h-.25zM512.37 108.4h.25V277.3h-.25zM512.62 106h.25V271.3h-.25zM512.87 105.9h.25V271.3h-.25zM513.12 105.9h.25V287.1h-.25zM513.37 105.8h.25V287.1h-.25zM513.62 95.4h.25V275h-.25zM513.87 88.5h.25V275h-.25zM514.12 88.5h.25V269.1h-.25zM514.37 107.1h.25V269.1h-.25zM514.62 107.7h.25V270.4h-.25zM514.87 107.7h.25V281h-.25zM515.12 101h.25V281h-.25zM515.37 101h.25V276.2h-.25zM515.62 83.5h.25V276.2h-.25zM515.87 83.5h.25V262.4h-.25zM516.12 100.2h.25V273.9h-.25zM516.37 100.2h.25V273.9h-.25zM516.62 95.9h.25V270.9h-.25zM516.87 95.9h.25V265.7h-.25zM517.12 98.4h.25V260h-.25zM517.37 103.4h.25V267.1h-.25zM517.62 102.1h.25V267.1h-.25zM517.87 102.1h.25V265.6h-.25zM518.12 113h.25V276.4h-.25zM518.37 98.7h.25V276.4h-.25zM518.62 96.3h.25V259.8h-.25zM518.87 96.3h.25V273.3h-.25zM519.12 105.3h.25V273.3h-.25zM519.37 102.3h.25V264.5h-.25zM519.62 102.3h.25V264.1h-.25zM519.87 107.1h.25V281.8h-.25zM520.12 108.6h.25V282.9h-.25zM520.37 99.5h.25V282.9h-.25zM520.62 99.5h.25V279.2h-.25zM520.87 96.8h.25V279.2h-.25zM521.12 89.9h.25V267.2h-.25zM521.37 89.9h.25V265.5h-.25zM521.62 96.8h.25V265.5h-.25zM521.87 96.8h.25V267.1h-.25zM522.12 102.8h.25V288.7h-.25zM522.37 102.8h.25V288.7h-.25zM522.62 104.5h.25V277.8h-.25zM522.86 79.9h.25V263.7h-.25zM523.11 79.9h.25V263.7h-.25zM523.36 88h.25V257.7h-.25zM523.61 97.4h.25V280.6h-.25zM523.86 102.1h.25V280.6h-.25zM524.11 102.1h.25V267.1h-.25zM524.36 100.1h.25V267.1h-.25zM524.61 100.1h.25V285.1h-.25zM524.86 109h.25V285.1h-.25zM525.11 82.8h.25V264.8h-.25zM525.36 82.8h.25V269.5h-.25zM525.61 103.4h.25V277.9h-.25zM525.86 103.4h.25V277.9h-.25zM526.11 106.8h.25V284.6h-.25zM526.36 106.8h.25V284.6h-.25zM526.61 106.8h.25V288.4h-.25zM526.86 113.2h.25V288.4h-.25zM527.11 88.7h.25V272.8h-.25zM527.36 88.7h.25V272.8h-.25zM527.61 87.1h.25V264.7h-.25zM527.86 87.1h.25V263.5h-.25zM528.11 102.9h.25V268.7h-.25zM528.36 108.6h.25V292.6h-.25zM528.61 106.6h.25V292.6h-.25zM528.86 92.2h.25V266.2h-.25zM529.11 92.2h.25V266.2h-.25zM529.36 107.4h.25V261.7h-.25zM529.61 101.2h.25V267.3h-.25zM529.86 101.2h.25V267.3h-.25zM530.11 86.9h.25V264.6h-.25zM530.36 86.9h.25V269.2h-.25zM530.61 97.6h.25V269.2h-.25zM530.86 88h.25V267.3h-.25zM531.11 88h.25V270.9h-.25zM531.36 95.1h.25V270.9h-.25zM531.61 105.4h.25V269.2h-.25zM531.86 107h.25V269.2h-.25zM532.11 87.1h.25V264.6h-.25zM532.36 87.1h.25V260.6h-.25zM532.61 100.4h.25V263.7h-.25zM532.86 102.3h.25V263.7h-.25zM533.11 97.9h.25V262.9h-.25zM533.36 82.5h.25V265.3h-.25zM533.61 82.5h.25V268.2h-.25zM533.86 100.1h.25V268.2h-.25zM534.11 88.5h.25V276.1h-.25zM534.36 88.5h.25V277.7h-.25zM534.61 106.4h.25V277.7h-.25zM534.86 109h.25V273.3h-.25zM535.11 100.6h.25V273.3h-.25zM535.35 100.6h.25V266.3h-.25zM535.6 94.4h.25V266.3h-.25zM535.85 94.4h.25V265.9h-.25zM536.1 100.1h.25V273.9h-.25zM536.35 100.1h.25V273.9h-.25zM536.6 92.1h.25V259.5h-.25zM536.85 92.1h.25V278h-.25zM537.1 102.9h.25V278h-.25zM537.35 102.9h.25V265.6h-.25zM537.6 110.8h.25V275.3h-.25zM537.85 102.8h.25V275.3h-.25zM538.1 102.8h.25V270.4h-.25zM538.35 96.6h.25V275h-.25zM538.6 93.8h.25V275h-.25zM538.85 93.8h.25V266.3h-.25zM539.1 89.8h.25V266.3h-.25zM539.35 89.8h.25V294.2h-.25zM539.6 94.1h.25V294.2h-.25zM539.85 94.1h.25V266.1h-.25zM540.1 108.4h.25V266.1h-.25zM540.35 110h.25V264.5h-.25zM540.6 103.2h.25V270.8h-.25zM540.85 103.2h.25V270.8h-.25zM541.1 103.2h.25V269h-.25zM541.35 103.4h.25V269h-.25zM415.7 95.8h.999V273.8h-.999zM416.7 107.5h.999V273.7h-.999zM417.7 104.3h.999V265.8h-.999zM418.7 105.7h.999V266.8h-.999zM419.7 110.3h.999V279h-.999zM420.7 105.9h.999V269.2h-.999zM421.7 100.9h.999V274.5h-.999zM422.69 104h.999V267.6h-.999zM423.69 107.2h.999V268.4h-.999zM424.69 104.6h.999V270h-.999zM425.69 97.5h.999V274.2h-.999zM426.69 107.5h.999V277.3h-.999zM427.69 106.7h.999V279.6h-.999zM428.69 103.8h.999V270.8h-.999zM429.69 104.4h.999V265.7h-.999zM430.69 95.5h.999V268.6h-.999zM431.69 97.8h.999V276.1h-.999zM432.69 98.4h.999V280.3h-.999zM433.69 110.4h.999V280.1h-.999zM434.68 105.5h.999V269.4h-.999zM435.68 110.2h.999V275h-.999zM436.68 101h.999V267.5h-.999zM437.68 101.6h.999V277.2h-.999zM438.68 109.3h.999V273h-.999zM439.68 97.6h.999V267.7h-.999zM440.68 100.7h.999V278.3h-.999zM441.68 109.5h.999V280.4h-.999zM442.68 106.3h.999V272.5h-.999zM443.68 108.3h.999V271.2h-.999zM444.68 105.6h.999V268.4h-.999zM445.68 102.1h.999V268.8h-.999zM446.68 106.5h.999V272h-.999zM447.67 96.3h.999V280.9h-.999zM448.67 95.6h.999V271.6h-.999zM449.67 94.5h.999V276.6h-.999zM450.67 102.8h.999V270.1h-.999zM451.67 101.1h.999V271.1h-.999zM452.67 96.7h.999V278.6h-.999zM453.67 99.1h.999V274h-.999zM454.67 95.9h.999V265.8h-.999zM455.67 103.5h.999V275.4h-.999zM456.67 96.1h.999V266h-.999zM457.67 98.2h.999V266.6h-.999zM458.67 95.3h.999V273.3h-.999zM459.67 104.9h.999V280.3h-.999zM460.66 103.6h.999V277.7h-.999zM461.66 98.9h.999V271.3h-.999zM462.66 95.5h.999V270h-.999zM463.66 106.6h.999V275.1h-.999zM464.66 102.6h.999V272.5h-.999zM465.66 95.5h.999V270.9h-.999zM466.66 105.4h.999V276.7h-.999zM467.66 101.4h.999V279.8h-.999zM468.66 103.3h.999V266.7h-.999zM469.66 95.8h.999V272.1h-.999zM470.66 101.9h.999V275.8h-.999zM471.66 101.2h.999V273.8h-.999zM472.65 100.2h.999V265.8h-.999zM473.65 98.5h.999V279h-.999zM474.65 107.9h.999V270h-.999zM475.65 94.9h.999V271.5h-.999zM476.65 97.1h.999V276.7h-.999zM477.65 106.7h.999V265.3h-.999zM478.65 96.5h.999V273.9h-.999zM479.65 97.5h.999V270.8h-.999zM480.65 98h.999V271.7h-.999zM481.65 99.6h.999V265.9h-.999zM482.65 103.7h.999V269.3h-.999zM483.65 95.1h.999V280.5h-.999zM484.65 106.6h.999V275.4h-.999zM485.64 101.4h.999V273.8h-.999zM486.64 95.4h.999V278.1h-.999zM487.64 105.7h.999V279.9h-.999zM488.64 107.8h.999V271.6h-.999zM489.64 109.8h.999V266h-.999zM490.64 98.4h.999V279.8h-.999zM491.64 97.9h.999V279.2h-.999zM492.64 102.3h.999V277.7h-.999zM493.64 107.9h.999V272.6h-.999zM494.64 96.4h.999V279.8h-.999zM495.64 107.3h.999V273.3h-.999zM496.64 95.2h.999V275.3h-.999zM497.63 96.6h.999V272.4h-.999zM498.63 103.4h.999V268.8h-.999zM499.63 107.5h.999V272.7h-.999zM500.63 110.1h.999V272.7h-.999zM501.63 94.6h.999V280h-.999zM502.63 109.1h.999V271.9h-.999zM503.63 95.6h.999V272.2h-.999zM504.63 95.1h.999V276h-.999zM505.63 94.6h.999V277.8h-.999zM506.63 98.2h.999V275.8h-.999zM507.63 97.2h.999V280.6h-.999zM508.63 105.6h.999V266.2h-.999zM509.63 98.2h.999V273.3h-.999zM510.62 104.6h.999V265.9h-.999zM511.62 107.5h.999V278.1h-.999zM512.62 109.7h.999V270.4h-.999zM513.62 95.9h.999V279.1h-.999zM514.62 98.3h.999V268.8h-.999zM515.62 107.4h.999V272.8h-.999zM516.62 101.4h.999V280.3h-.999zM517.62 95.4h.999V279h-.999zM518.62 108.3h.999V269.8h-.999zM519.62 102.6h.999V268.5h-.999zM520.62 100.3h.999V279.7h-.999zM521.62 103.4h.999V265.3h-.999zM522.62 105.7h.999V278.2h-.999zM523.61 96.3h.999V279.8h-.999zM524.61 104.1h.999V265.1h-.999zM525.61 96.7h.999V279h-.999zM526.61 109.3h.999V273.4h-.999zM527.61 99.6h.999V268.1h-.999zM528.61 107.5h.999V274.3h-.999zM529.61 103.4h.999V276.3h-.999zM530.61 99.7h.999V272.5h-.999zM531.61 104h.999V268.7h-.999zM532.61 105.9h.999V271.4h-.999zM533.61 98h.999V275.7h-.999zM534.61 110.2h.999V281.2h-.999zM535.6 97.9h.999V268h-.999zM536.6 99.1h.999V280.8h-.999zM537.6 106.5h.999V265.8h-.999zM538.6 101.6h.999V274.2h-.999zM539.6 95h.999V265.5h-.999zM540.6 106.6h.999V269.5h-.999z"/>
<path transform="translate(0.30,0)" opacity="0.3333" fill="#0072bd" d="M415.7 92.2h.25V263.1h-.25zM415.95 99.3h.25V278.5h-.25zM416.2 106.9h.25V278.5h-.25zM416.45 92.8h.25V283.7h-.25zM416.7 92.8h.25V283.7h-.25zM416.95 104.1h.25V273.3h-.25zM417.2 96.5h.25V262.5h-.25zM417.45 96.5h.25V257.6h-.25zM417.7 87.1h.25V282.2h-.25zM417.95 87.1h.25V282.2h-.25zM418.2 103.3h.25V268.9h-.25zM418.45 104.1h.25V266.8h-.25zM418.7 104.1h.25V270.1h-.25zM418.95 107h.25V270.1h-.25zM419.2 109.7h.25V261.6h-.25zM419.45 100.7h.25V276.8h-.25zM419.7 100.7h.25V276.8h-.25zM419.95 83.5h.25V276.7h-.25zM420.2 83.5h.25V276.7h-.25zM420.45 90.4h.25V275.3h-.25zM420.7 90.4h.25V272.7h-.25zM420.95 101.1h.25V272.7h-.25zM421.2 101.1h.25V269.7h-.25zM421.45 101.5h.25V275.2h-.25zM421.7 107h.25V275.2h-.25zM421.95 104.9h.25V272.4h-.25zM422.19 104.9h.25V282.4h-.25zM422.44 85.3h.25V282.4h-.25zM422.69 85.3h.25V275.1h-.25zM422.94 102.9h.25V277.6h-.25zM423.19 92.6h.25V277.6h-.25zM423.44 92.6h.25V290.6h-.25zM423.69 108.3h.25V290.6h-.25zM423.94 98.3h.25V281.5h-.25zM424.19 98.3h.25V286h-.25zM424.44 101.1h.25V286h-.25zM424.69 87.1h.25V266.6h-.25zM424.94 87.1h.25V266.6h-.25zM425.19 98.7h.25V258.9h-.25zM425.44 98.7h.25V262.5h-.25zM425.69 108.2h.25V281h-.25zM425.94 108.2h.25V281h-.25zM426.19 108.7h.25V281h-.25zM426.44 104h.25V287.9h-.25zM426.69 104h.25V287.9h-.25zM426.94 110.1h.25V271.2h-.25zM427.19 93.4h.25V271.2h-.25zM427.44 93.4h.25V266.3h-.25zM427.69 103.3h.25V266.3h-.25zM427.94 103.3h.25V264.3h-.25zM428.19 95.9h.25V264.3h-.25zM428.44 95.9h.25V267.4h-.25zM428.69 100.9h.25V267.4h-.25zM428.94 100.9h.25V260.8h-.25zM429.19 93.5h.25V265.3h-.25zM429.44 93.5h.25V266.8h-.25zM429.69 103.4h.25V268.3h-.25zM429.94 103.4h.25V268.3h-.25zM430.19 98h.25V274.6h-.25zM430.44 97.3h.25V274.6h-.25zM430.69 97.3h.25V268.1h-.25zM430.94 109.8h.25V271.1h-.25zM431.19 106.6h.25V273.9h-.25zM431.44 106.6h.25V279.1h-.25zM431.69 98.3h.25V279.1h-.25zM431.94 98.3h.25V261.1h-.25zM432.19 84.2h.25V260.5h-.25zM432.44 84.2h.25V263.1h-.25zM432.69 107.6h.25V264.9h-.25zM432.94 107.3h.25V283.3h-.25zM433.19 107.3h.25V283.3h-.25zM433.44 110.6h.25V267.4h-.25zM433.69 110.6h.25V267.4h-.25zM433.94 89.1h.25V278.2h-.25zM434.19 89.1h.25V278.2h-.25zM434.44 92.1h.25V276.8h-.25zM434.68 92.1h.25V276.8h-.25zM434.93 97.8h.25V263h-.25zM435.18 98.6h.25V266.3h-.25zM435.43 94.9h.25V266.3h-.25zM435.68 94.9h.25V273.4h-.25zM435.93 101h.25V273.4h-.25zM436.18 105.3h.25V280.6h-.25zM436.43 111.9h.25V280.6h-.25zM436.68 109.1h.25V271.9h-.25zM436.93 98.6h.25V275.9h-.25zM437.18 98.6h.25V275.9h-.25zM437.43 106.2h.25V282.7h-.25zM437.68 91.1h.25V296.5h-.25zM437.93 91.1h.25V296.5h-.25zM438.18 102.8h.25V270.5h-.25zM438.43 84.2h.25V262.7h-.25zM438.68 84.2h.25V268.3h-.25zM438.93 108.4h.25V274.5h-.25zM439.18 105.8h.25V278.1h-.25zM439.43 105.8h.25V278.1h-.25zM439.68 98h.25V268.6h-.25zM439.93 98h.25V264h-.25zM440.18 94.8h.25V267.6h-.25zM440.43 94.8h.25V267.6h-.25zM440.68 105.1h.25V261h-.25zM440.93 106.1h.25V261h-.25zM441.18 103.3h.25V270.5h-.25zM441.43 82.5h.25V270.5h-.25zM441.68 82.5h.25V276.1h-.25zM441.93 98.3h.25V276.1h-.25zM442.18 98.3h.25V285.5h-.25zM442.43 103.2h.25V285.5h-.25zM442.68 103h.25V276h-.25zM442.93 103h.25V276h-.25zM443.18 103.3h.25V275.2h-.25zM443.43 92.8h.25V290.6h-.25zM443.68 92.8h.25V290.6h-.25zM443.93 102.3h.25V268.5h-.25zM444.18 99.7h.25V268.3h-.25zM444.43 99.7h.25V277.9h-.25zM444.68 106.3h.25V277.9h-.25zM444.93 106.6h.25V271.3h-.25zM445.18 106.6h.25V281h-.25zM445.43 109.8h.25V281h-.25zM445.68 111.8h.25V292.6h-.25zM445.93 109.8h.25V292.6h-.25zM446.18 109.8h.25V271.3h-.25zM446.43 111.1h.25V262.9h-.25zM446.68 87.1h.25V290.6h-.25zM446.93 87.1h.25V290.6h-.25zM447.17 102.2h.25V273.9h-.25zM447.42 100.1h.25V271.8h-.25zM447.67 100.1h.25V267.1h-.25zM447.92 101.6h.25V267.1h-.25zM448.17 101.6h.25V281.6h-.25zM448.42 106.9h.25V281.6h-.25zM448.67 93.5h.25V276.1h-.25zM448.92 93.5h.25V276.1h-.25zM449.17 103.2h.25V263.5h-.25zM449.42 103.2h.25V271.2h-.25zM449.67 92.4h.25V271.2h-.25zM449.92 92.4h.25V277.3h-.25zM450.17 96.9h.25V290.6h-.25zM450.42 103.5h.25V290.6h-.25zM450.67 103.5h.25V269.5h-.25zM450.92 101.9h.25V263.8h-.25zM451.17 98h.25V266.7h-.25zM451.42 85.6h.25V277.3h-.25zM451.67 85.6h.25V277.3h-.25zM451.92 95.9h.25V289.6h-.25zM452.17 95.9h.25V289.6h-.25zM452.42 100.6h.25V270.8h-.25zM452.67 98.9h.25V296.5h-.25zM452.92 98.9h.25V296.5h-.25zM453.17 106.1h.25V276.6h-.25zM453.42 94.8h.25V260.6h-.25zM453.67 94.8h.25V275.1h-.25zM453.92 84.2h.25V275.1h-.25zM454.17 84.2h.25V259.9h-.25zM454.42 112.8h.25V270.6h-.25zM454.67 95.7h.25V284.2h-.25zM454.92 95.7h.25V284.2h-.25zM455.17 106.1h.25V276.6h-.25zM455.42 89h.25V274.3h-.25zM455.67 89h.25V275.2h-.25zM455.92 97.1h.25V275.2h-.25zM456.17 97.1h.25V272.1h-.25zM456.42 110.2h.25V286.5h-.25zM456.67 106.1h.25V286.5h-.25zM456.92 82.5h.25V267.9h-.25zM457.17 82.5h.25V267.9h-.25zM457.42 90.2h.25V266.7h-.25zM457.67 103.8h.25V266.7h-.25zM457.92 99.3h.25V275.2h-.25zM458.17 99.3h.25V275.2h-.25zM458.42 103.6h.25V272.6h-.25zM458.67 100.2h.25V266.7h-.25zM458.92 100.2h.25V270.5h-.25zM459.17 101.3h.25V271.2h-.25zM459.42 85.6h.25V280.3h-.25zM459.67 85.6h.25V280.3h-.25zM459.91 105.3h.25V266.8h-.25zM460.16 105.3h.25V260.6h-.25zM460.41 105.7h.25V268.6h-.25zM460.66 96.5h.25V268.6h-.25zM460.91 96.5h.25V256.2h-.25zM461.16 104.3h.25V270.8h-.25zM461.41 106.6h.25V278.4h-.25zM461.66 106.6h.25V278.4h-.25zM461.91 87.6h.25V260.5h-.25zM462.16 87.6h.25V264.1h-.25zM462.41 80.7h.25V264.1h-.25zM462.66 80.7h.25V267.3h-.25zM462.91 106.5h.25V267.3h-.25zM463.16 106.5h.25V281.6h-.25zM463.41 108.3h.25V281.6h-.25zM463.66 108.7h.25V269.6h-.25zM463.91 106.3h.25V279.3h-.25zM464.16 106.3h.25V279.3h-.25zM464.41 106.6h.25V287.2h-.25zM464.66 101.7h.25V287.2h-.25zM464.91 101.7h.25V267h-.25zM465.16 107.5h.25V266.3h-.25zM465.41 107.5h.25V266.3h-.25zM465.66 105h.25V263.5h-.25zM465.91 84.5h.25V264.3h-.25zM466.16 84.5h.25V265h-.25zM466.41 106.1h.25V266.8h-.25zM466.66 107.9h.25V281.6h-.25zM466.91 107.9h.25V281.6h-.25zM467.16 103.2h.25V279.7h-.25zM467.41 102.5h.25V274h-.25zM467.66 90.6h.25V291h-.25zM467.91 90.6h.25V291h-.25zM468.16 97.5h.25V265h-.25zM468.41 112.3h.25V273h-.25zM468.66 112.6h.25V273h-.25zM468.91 95.3h.25V277.1h-.25zM469.16 94.2h.25V277.1h-.25zM469.41 94.2h.25V263.9h-.25zM469.66 103.5h.25V277.5h-.25zM469.91 100.3h.25V277.5h-.25zM470.16 100.3h.25V276.7h-.25zM470.41 103.1h.25V276.7h-.25zM470.66 96.5h.25V271.4h-.25zM470.91 96.5h.25V271.4h-.25zM471.16 82.1h.25V272.3h-.25zM471.41 82.1h.25V272.3h-.25zM471.66 89h.25V264.4h-.25zM471.91 89h.25V264.4h-.25zM472.16 104.1h.25V262.8h-.25zM472.4 104.1h.25V262.8h-.25zM472.65 104.2h.25V265.3h-.25zM472.9 100.6h.25V290.6h-.25zM473.15 100.6h.25V290.6h-.25zM473.4 79.9h.25V270.7h-.25zM473.65 79.9h.25V270.3h-.25zM473.9 96.8h.25V288.7h-.25zM474.15 96.8h.25V288.7h-.25zM474.4 107.5h.25V278.4h-.25zM474.65 112.7h.25V269.3h-.25zM474.9 95.3h.25V269.3h-.25zM475.15 95.3h.25V281.9h-.25zM475.4 107.7h.25V281.9h-.25zM475.65 98.1h.25V269.8h-.25zM475.9 98.1h.25V269.1h-.25zM476.15 103.7h.25V297.3h-.25zM476.4 109.2h.25V297.3h-.25zM476.65 104.5h.25V279.7h-.25zM476.9 104.5h.25V279.7h-.25zM477.15 107.9h.25V270.8h-.25zM477.4 102.4h.25V261.9h-.25zM477.65 102.4h.25V271.1h-.25zM477.9 106.8h.25V271.1h-.25zM478.15 106.8h.25V263.8h-.25zM478.4 105.6h.25V261.4h-.25zM478.65 102h.25V283.7h-.25zM478.9 102h.25V283.7h-.25zM479.15 104.1h.25V276h-.25zM479.4 97.6h.25V271.9h-.25zM479.65 95.9h.25V271.9h-.25zM479.9 82.5h.25V264.5h-.25zM480.15 82.5h.25V264.5h-.25zM480.4 112h.25V281.2h-.25zM480.65 99.3h.25V281.2h-.25zM480.9 99.3h.25V259.5h-.25zM481.15 100.2h.25V273.1h-.25zM481.4 100.4h.25V273.1h-.25zM481.65 105.1h.25V290.6h-.25zM481.9 93.5h.25V290.6h-.25zM482.15 93.5h.25V268.6h-.25zM482.4 100.4h.25V268.6h-.25zM482.65 104.7h.25V262.4h-.25zM482.9 104.7h.25V288.7h-.25zM483.15 110.9h.25V288.7h-.25zM483.4 110.9h.25V279.2h-.25zM483.65 105.4h.25V279.2h-.25zM483.9 105.4h.25V276.4h-.25zM484.15 106.5h.25V272.7h-.25zM484.4 97.7h.25V272.7h-.25zM484.65 97.7h.25V274.8h-.25zM484.9 105.4h.25V274.8h-.25zM485.14 113.4h.25V264.6h-.25zM485.39 83h.25V262h-.25zM485.64 83h.25V268.9h-.25zM485.89 101.8h.25V271.7h-.25zM486.14 95.3h.25V271.7h-.25zM486.39 95.3h.25V265.4h-.25zM486.64 95.5h.25V264.1h-.25zM486.89 110.8h.25V265.3h-.25zM487.14 105.8h.25V268.1h-.25zM487.39 103.1h.25V271.4h-.25zM487.64 103.1h.25V295.8h-.25zM487.89 105.6h.25V295.8h-.25zM488.14 109.8h.25V281.9h-.25zM488.39 93.3h.25V281.9h-.25zM488.64 93.3h.25V275.8h-.25zM488.89 98.5h.25V275.8h-.25zM489.14 86.4h.25V269.4h-.25zM489.39 86.4h.25V276.2h-.25zM489.64 108.2h.25V276.2h-.25zM489.89 107.9h.25V266.3h-.25zM490.14 107.9h.25V270.3h-.25zM490.39 106.3h.25V270.3h-.25zM490.64 99.1h.25V279.4h-.25zM490.89 97.6h.25V283.4h-.25zM491.14 97.6h.25V283.4h-.25zM491.39 82.5h.25V265.7h-.25zM491.64 82.5h.25V265.7h-.25zM491.89 108.8h.25V262.2h-.25zM492.14 99.1h.25V266.7h-.25zM492.39 88.4h.25V266.7h-.25zM492.64 88.4h.25V264.1h-.25zM492.89 101.9h.25V266.6h-.25zM493.14 101.9h.25V266.8h-.25zM493.39 104h.25V266.8h-.25zM493.64 70h.25V270.2h-.25zM493.89 70h.25V270.2h-.25zM494.14 94.4h.25V268.4h-.25zM494.39 88h.25V267.4h-.25zM494.64 88h.25V283h-.25zM494.89 101.9h.25V283h-.25zM495.14 101.9h.25V286.2h-.25zM495.39 82.5h.25V286.2h-.25zM495.64 82.5h.25V269.4h-.25zM495.89 104.4h.25V268h-.25zM496.14 107.7h.25V265.6h-.25zM496.39 107.7h.25V265.5h-.25zM496.64 84.9h.25V285.7h-.25zM496.89 84.9h.25V285.7h-.25zM497.14 103.5h.25V292.6h-.25zM497.39 91.8h.25V292.6h-.25zM497.63 91.8h.25V268.6h-.25zM497.88 103.8h.25V266.1h-.25zM498.13 99.6h.25V266.1h-.25zM498.38 98.9h.25V265.6h-.25zM498.63 98.9h.25V263.6h-.25zM498.88 88.3h.25V290.6h-.25zM499.13 88.3h.25V290.6h-.25zM499.38 99.6h.25V280.4h-.25zM499.63 100h.25V280.4h-.25zM499.88 100h.25V290.3h-.25zM500.13 107.1h.25V290.3h-.25zM500.38 107.1h.25V276.6h-.25zM500.63 109h.25V276.6h-.25zM500.88 101h.25V267.4h-.25zM501.13 101h.25V267.4h-.25zM501.38 87.1h.25V272.9h-.25zM501.63 87.1h.25V272.9h-.25zM501.88 99.5h.25V271.6h-.25zM502.13 107.3h.25V271.1h-.25zM502.38 101h.25V271.1h-.25zM502.63 101h.25V289.5h-.25zM502.88 102.2h.25V289.5h-.25zM503.13 110.9h.25V281h-.25zM503.38 92.1h.25V259.5h-.25zM503.63 90.9h.25V265.7h-.25zM503.88 90.9h.25V279.9h-.25zM504.13 105.3h.25V279.9h-.25zM504.38 104h.25V269.8h-.25zM504.63 104h.25V269.8h-.25zM504.88 107.8h.25V272.6h-.25zM505.13 90.8h.25V272.6h-.25zM505.38 90.8h.25V263.3h-.25zM505.63 78.5h.25V271.3h-.25zM505.88 78.5h.25V271.3h-.25zM506.13 103.8h.25V269.6h-.25zM506.38 100.4h.25V269.4h-.25zM506.63 100.4h.25V269.4h-.25zM506.88 98.3h.25V263.7h-.25zM507.13 98.3h.25V285.4h-.25zM507.38 91.4h.25V285.4h-.25zM507.63 91.4h.25V260.2h-.25zM507.88 105.5h.25V273.8h-.25zM508.13 98.3h.25V273.8h-.25zM508.38 98.3h.25V259.5h-.25zM508.63 94.7h.25V262.8h-.25zM508.88 94.7h.25V279h-.25zM509.13 98.5h.25V279h-.25zM509.38 101.2h.25V267.9h-.25zM509.63 94.4h.25V265.9h-.25zM509.88 92.3h.25V283.2h-.25zM510.12 92.3h.25V283.2h-.25zM510.37 82.5h.25V268.7h-.25zM510.62 82.5h.25V273.7h-.25zM510.87 89.4h.25V273.7h-.25zM511.12 110.5h.25V279.3h-.25zM511.37 102.8h.25V279.3h-.25zM511.62 88.5h.25V290.6h-.25zM511.87 88.5h.25V290.6h-.25zM512.12 110.6h.25V277.3h-.25zM512.37 108.4h.25V277.3h-.25zM512.62 106h.25V271.3h-.25zM512.87 105.9h.25V271.3h-.25zM513.12 105.9h.25V287.1h-.25zM513.37 105.8h.25V287.1h-.25zM513.62 95.4h.25V275h-.25zM513.87 88.5h.25V275h-.25zM514.12 88.5h.25V269.1h-.25zM514.37 107.1h.25V269.1h-.25zM514.62 107.7h.25V270.4h-.25zM514.87 107.7h.25V281h-.25zM515.12 101h.25V281h-.25zM515.37 101h.25V276.2h-.25zM515.62 83.5h.25V276.2h-.25zM515.87 83.5h.25V262.4h-.25zM516.12 100.2h.25V273.9h-.25zM516.37 100.2h.25V273.9h-.25zM516.62 95.9h.25V270.9h-.25zM516.87 95.9h.25V265.7h-.25zM517.12 98.4h.25V260h-.25zM517.37 103.4h.25V267.1h-.25zM517.62 102.1h.25V267.1h-.25zM517.87 102.1h.25V265.6h-.25zM518.12 113h.25V276.4h-.25zM518.37 98.7h.25V276.4h-.25zM518.62 96.3h.25V259.8h-.25zM518.87 96.3h.25V273.3h-.25zM519.12 105.3h.25V273.3h-.25zM519.37 102.3h.25V264.5h-.25zM519.62 102.3h.25V264.1h-.25zM519.87 107.1h.25V281.8h-.25zM520.12 108.6h.25V282.9h-.25zM520.37 99.5h.25V282.9h-.25zM520.62 99.5h.25V279.2h-.25zM520.87 96.8h.25V279.2h-.25zM521.12 89.9h.25V267.2h-.25zM521.37 89.9h.25V265.5h-.25zM521.62 96.8h.25V265.5h-.25zM521.87 96.8h.25V267.1h-.25zM522.12 102.8h.25V288.7h-.25zM522.37 102.8h.25V288.7h-.25zM522.62 104.5h.25V277.8h-.25zM522.86 79.9h.25V263.7h-.25zM523.11 79.9h.25V263.7h-.25zM523.36 88h.25V257.7h-.25zM523.61 97.4h.25V280.6h-.25zM523.86 102.1h.25V280.6h-.25zM524.11 102.1h.25V267.1h-.25zM524.36 100.1h.25V267.1h-.25zM524.61 100.1h.25V285.1h-.25zM524.86 109h.25V285.1h-.25zM525.11 82.8h.25V264.8h-.25zM525.36 82.8h.25V269.5h-.25zM525.61 103.4h.25V277.9h-.25zM525.86 103.4h.25V277.9h-.25zM526.11 106.8h.25V284.6h-.25zM526.36 106.8h.25V284.6h-.25zM526.61 106.8h.25V288.4h-.25zM526.86 113.2h.25V288.4h-.25zM527.11 88.7h.25V272.8h-.25zM527.36 88.7h.25V272.8h-.25zM527.61 87.1h.25V264.7h-.25zM527.86 87.1h.25V263.5h-.25zM528.11 102.9h.25V268.7h-.25zM528.36 108.6h.25V292.6h-.25zM528.61 106.6h.25V292.6h-.25zM528.86 92.2h.25V266.2h-.25zM529.11 92.2h.25V266.2h-.25zM529.36 107.4h.25V261.7h-.25zM529.61 101.2h.25V267.3h-.25zM529.86 101.2h.25V267.3h-.25zM530.11 86.9h.25V264.6h-.25zM530.36 86.9h.25V269.2h-.25zM530.61 97.6h.25V269.2h-.25zM530.86 88h.25V267.3h-.25zM531.11 88h.25V270.9h-.25zM531.36 95.1h.25V270.9h-.25zM531.61 105.4h.25V269.2h-.25zM531.86 107h.25V269.2h-.25zM532.11 87.1h.25V264.6h-.25zM532.36 87.1h.25V260.6h-.25zM532.61 100.4h.25V263.7h-.25zM532.86 102.3h.25V263.7h-.25zM533.11 97.9h.25V262.9h-.25zM533.36 82.5h.25V265.3h-.25zM533.61 82.5h.25V268.2h-.25zM533.86 100.1h.25V268.2h-.25zM534.11 88.5h.25V276.1h-.25zM534.36 88.5h.25V277.7h-.25zM534.61 106.4h.25V277.7h-.25zM534.86 109h.25V273.3h-.25zM535.11 100.6h.25V273.3h-.25zM535.35 100.6h.25V266.3h-.25zM535.6 94.4h.25V266.3h-.25zM535.85 94.4h.25V265.9h-.25zM536.1 100.1h.25V273.9h-.25zM536.35 100.1h.25V273.9h-.25zM536.6 92.1h.25V259.5h-.25zM536.85 92.1h.25V278h-.25zM537.1 102.9h.25V278h-.25zM537.35 102.9h.25V265.6h-.25zM537.6 110.8h.25V275.3h-.25zM537.85 102.8h.25V275.3h-.25zM538.1 102.8h.25V270.4h-.25zM538.35 96.6h.25V275h-.25zM538.6 93.8h.25V275h-.25zM538.85 93.8h.25V266.3h-.25zM539.1 89.8h.25V266.3h-.25zM539.35 89.8h.25V294.2h-.25zM539.6 94.1h.25V294.2h-.25zM539.85 94.1h.25V266.1h-.25zM540.1 108.4h.25V266.1h-.25zM540.35 110h.25V264.5h-.25zM540.6 103.2h.25V270.8h-.25zM540.85 103.2h.25V270.8h-.25zM541.1 103.2h.25V269h-.25zM541.35 103.4h.25V269h-.25zM415.7 95.8h.999V273.8h-.999zM416.7 107.5h.999V273.7h-.999zM417.7 104.3h.999V265.8h-.999zM418.7 105.7h.999V266.8h-.999zM419.7 110.3h.999V279h-.999zM420.7 105.9h.999V269.2h-.999zM421.7 100.9h.999V274.5h-.999zM422.69 104h.999V267.6h-.999zM423.69 107.2h.999V268.4h-.999zM424.69 104.6h.999V270h-.999zM425.69 97.5h.999V274.2h-.999zM426.69 107.5h.999V277.3h-.999zM427.69 106.7h.999V279.6h-.999zM428.69 103.8h.999V270.8h-.999zM429.69 104.4h.999V265.7h-.999zM430.69 95.5h.999V268.6h-.999zM431.69 97.8h.999V276.1h-.999zM432.69 98.4h.999V280.3h-.999zM433.69 110.4h.999V280.1h-.999zM434.68 105.5h.999V269.4h-.999zM435.68 110.2h.999V275h-.999zM436.68 101h.999V267.5h-.999zM437.68 101.6h.999V277.2h-.999zM438.68 109.3h.999V273h-.999zM439.68 97.6h.999V267.7h-.999zM440.68 100.7h.999V278.3h-.999zM441.68 109.5h.999V280.4h-.999zM442.68 106.3h.999V272.5h-.999zM443.68 108.3h.999V271.2h-.999zM444.68 105.6h.999V268.4h-.999zM445.68 102.1h.999V268.8h-.999zM446.68 106.5h.999V272h-.999zM447.67 96.3h.999V280.9h-.999zM448.67 95.6h.999V271.6h-.999zM449.67 94.5h.999V276.6h-.999zM450.67 102.8h.999V270.1h-.999zM451.67 101.1h.999V271.1h-.999zM452.67 96.7h.999V278.6h-.999zM453.67 99.1h.999V274h-.999zM454.67 95.9h.999V265.8h-.999zM455.67 103.5h.999V275.4h-.999zM456.67 96.1h.999V266h-.999zM457.67 98.2h.999V266.6h-.999zM458.67 95.3h.999V273.3h-.999zM459.67 104.9h.999V280.3h-.999zM460.66 103.6h.999V277.7h-.999zM461.66 98.9h.999V271.3h-.999zM462.66 95.5h.999V270h-.999zM463.66 106.6h.999V275.1h-.999zM464.66 102.6h.999V272.5h-.999zM465.66 95.5h.999V270.9h-.999zM466.66 105.4h.999V276.7h-.999zM467.66 101.4h.999V279.8h-.999zM468.66 103.3h.999V266.7h-.999zM469.66 95.8h.999V272.1h-.999zM470.66 101.9h.999V275.8h-.999zM471.66 101.2h.999V273.8h-.999zM472.65 100.2h.999V265.8h-.999zM473.65 98.5h.999V279h-.999zM474.65 107.9h.999V270h-.999zM475.65 94.9h.999V271.5h-.999zM476.65 97.1h.999V276.7h-.999zM477.65 106.7h.999V265.3h-.999zM478.65 96.5h.999V273.9h-.999zM479.65 97.5h.999V270.8h-.999zM480.65 98h.999V271.7h-.999zM481.65 99.6h.999V265.9h-.999zM482.65 103.7h.999V269.3h-.999zM483.65 95.1h.999V280.5h-.999zM484.65 106.6h.999V275.4h-.999zM485.64 101.4h.999V273.8h-.999zM486.64 95.4h.999V278.1h-.999zM487.64 105.7h.999V279.9h-.999zM488.64 107.8h.999V271.6h-.999zM489.64 109.8h.999V266h-.999zM490.64 98.4h.999V279.8h-.999zM491.64 97.9h.999V279.2h-.999zM492.64 102.3h.999V277.7h-.999zM493.64 107.9h.999V272.6h-.999zM494.64 96.4h.999V279.8h-.999zM495.64 107.3h.999V273.3h-.999zM496.64 95.2h.999V275.3h-.999zM497.63 96.6h.999V272.4h-.999zM498.63 103.4h.999V268.8h-.999zM499.63 107.5h.999V272.7h-.999zM500.63 110.1h.999V272.7h-.999zM501.63 94.6h.999V280h-.999zM502.63 109.1h.999V271.9h-.999zM503.63 95.6h.999V272.2h-.999zM504.63 95.1h.999V276h-.999zM505.63 94.6h.999V277.8h-.999zM506.63 98.2h.999V275.8h-.999zM507.63 97.2h.999V280.6h-.999zM508.63 105.6h.999V266.2h-.999zM509.63 98.2h.999V273.3h-.999zM510.62 104.6h.999V265.9h-.999zM511.62 107.5h.999V278.1h-.999zM512.62 109.7h.999V270.4h-.999zM513.62 95.9h.999V279.1h-.999zM514.62 98.3h.999V268.8h-.999zM515.62 107.4h.999V272.8h-.999zM516.62 101.4h.999V280.3h-.999zM517.62 95.4h.999V279h-.999zM518.62 108.3h.999V269.8h-.999zM519.62 102.6h.999V268.5h-.999zM520.62 100.3h.999V279.7h-.999zM521.62 103.4h.999V265.3h-.999zM522.62 105.7h.999V278.2h-.999zM523.61 96.3h.999V279.8h-.999zM524.61 104.1h.999V265.1h-.999zM525.61 96.7h.999V279h-.999zM526.61 109.3h.999V273.4h-.999zM527.61 99.6h.999V268.1h-.999zM528.61 107.5h.999V274.3h-.999zM529.61 103.4h.999V276.3h-.999zM530.61 99.7h.999V272.5h-.999zM531.61 104h.999V268.7h-.999zM532.61 105.9h.999V271.4h-.999zM533.61 98h.999V275.7h-.999zM534.61 110.2h.999V281.2h-.999zM535.6 97.9h.999V268h-.999zM536.6 99.1h.999V280.8h-.999zM537.6 106.5h.999V265.8h-.999zM538.6 101.6h.999V274.2h-.999zM539.6 95h.999V265.5h-.999zM540.6 106.6h.999V269.5h-.999z"/>
<text x="479.65" y="14.8" font-size="12" text-anchor="middle" font-weight="bold">(c)</text>
<text x="479.35" y="338.5" font-size="11.3" text-anchor="middle">Samples</text>
<text x="523.70" y="342.6" font-size="13" text-anchor="end" style="stroke:none;fill:#4d4d4d">×</text>
<text x="524.80" y="341.4" font-size="11.4" text-anchor="start">10<tspan dx="-0.7" dy="-5.0" font-size="9.2">4</tspan></text>
<text transform="translate(379.90,161.30) rotate(-90) scale(1.075,1)" font-size="10.9" text-anchor="middle">Angular velocity(rad/s)</text>
</g>
</svg></body></html>
